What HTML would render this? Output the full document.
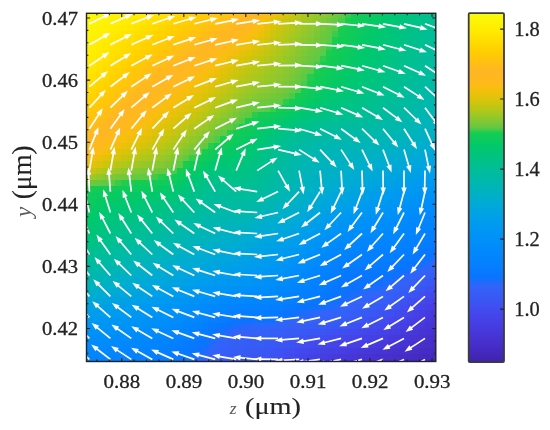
<!DOCTYPE html>
<html lang="en">
<head>
<meta charset="utf-8">
<title>Field map with flow arrows</title>
<style>
html,body{margin:0;padding:0;background:#fff}
body{width:550px;height:430px;overflow:hidden}
svg{display:block}
text{font-family:"Liberation Serif","DejaVu Serif",serif;fill:#222;stroke:#222;stroke-width:.3px}
.t{font-size:19.3px}
.c{font-size:22px}
.l{font-size:23.5px}
.l2{font-size:27.2px}
.l,.l2{stroke-width:.12px}
.i{font-style:italic;fill:#5a5a5a;stroke:none}
.a{stroke:#fff;stroke-width:1.7;fill:none}
.h{fill:#fff;stroke:none}
.k{stroke:#222;stroke-width:1.4;fill:none}
.m{stroke:#222;stroke-width:1.1;fill:none}
</style>
</head>
<body>
<svg width="550" height="430" viewBox="0 0 550 430">
<rect width="550" height="430" fill="#fff"/>
<defs><clipPath id="pc"><rect x="86.5" y="13.3" width="349.3" height="348.2"/></clipPath></defs>
<g clip-path="url(#pc)" shape-rendering="crispEdges">
<rect x="84" y="359" width="7" height="7" fill="#0384fd"/><rect x="90" y="359" width="7" height="7" fill="#0383fd"/><rect x="96" y="359" width="8" height="7" fill="#0382fd"/><rect x="103" y="359" width="7" height="7" fill="#0482fe"/><rect x="109" y="359" width="7" height="7" fill="#0481fe"/><rect x="115" y="359" width="7" height="7" fill="#0480fe"/><rect x="121" y="359" width="7" height="7" fill="#0480fe"/><rect x="127" y="359" width="8" height="7" fill="#047ffe"/><rect x="134" y="359" width="7" height="7" fill="#057eff"/><rect x="140" y="359" width="7" height="7" fill="#057eff"/><rect x="146" y="359" width="7" height="7" fill="#057dff"/><rect x="152" y="359" width="7" height="7" fill="#067bff"/><rect x="158" y="359" width="8" height="7" fill="#077aff"/><rect x="165" y="359" width="7" height="7" fill="#0778ff"/><rect x="171" y="359" width="7" height="7" fill="#0876ff"/><rect x="177" y="359" width="7" height="7" fill="#0974ff"/><rect x="183" y="359" width="7" height="7" fill="#1071fe"/><rect x="189" y="359" width="8" height="7" fill="#1d6cfd"/><rect x="196" y="359" width="7" height="7" fill="#2d66fb"/><rect x="202" y="359" width="7" height="7" fill="#3362f9"/><rect x="208" y="359" width="7" height="7" fill="#3460f8"/><rect x="214" y="359" width="7" height="7" fill="#355df7"/><rect x="220" y="359" width="8" height="7" fill="#365bf6"/><rect x="227" y="359" width="7" height="7" fill="#3759f5"/><rect x="233" y="359" width="7" height="7" fill="#3958f4"/><rect x="239" y="359" width="7" height="7" fill="#3a56f4"/><rect x="245" y="359" width="8" height="7" fill="#3a55f3"/><rect x="252" y="359" width="7" height="7" fill="#3b54f3"/><rect x="258" y="359" width="7" height="7" fill="#3c53f3"/><rect x="264" y="359" width="7" height="7" fill="#3d51f2"/><rect x="270" y="359" width="7" height="7" fill="#3f4ef1"/><rect x="276" y="359" width="8" height="7" fill="#414bf0"/><rect x="283" y="359" width="7" height="7" fill="#4249ee"/><rect x="289" y="359" width="7" height="7" fill="#4346eb"/><rect x="295" y="359" width="7" height="7" fill="#4443e8"/><rect x="301" y="359" width="7" height="7" fill="#4441e6"/><rect x="307" y="359" width="8" height="7" fill="#453fe4"/><rect x="314" y="359" width="7" height="7" fill="#463ce1"/><rect x="320" y="359" width="7" height="7" fill="#463ade"/><rect x="326" y="359" width="7" height="7" fill="#4638db"/><rect x="332" y="359" width="7" height="7" fill="#4636d8"/><rect x="338" y="359" width="8" height="7" fill="#4635d5"/><rect x="345" y="359" width="7" height="7" fill="#4633d3"/><rect x="351" y="359" width="7" height="7" fill="#4632d1"/><rect x="357" y="359" width="7" height="7" fill="#4631cf"/><rect x="363" y="359" width="7" height="7" fill="#4630cd"/><rect x="369" y="359" width="8" height="7" fill="#462fcb"/><rect x="376" y="359" width="7" height="7" fill="#462ec9"/><rect x="382" y="359" width="7" height="7" fill="#462dc7"/><rect x="388" y="359" width="7" height="7" fill="#452cc5"/><rect x="394" y="359" width="7" height="7" fill="#452bc3"/><rect x="400" y="359" width="8" height="7" fill="#452ac1"/><rect x="407" y="359" width="7" height="7" fill="#4429bf"/><rect x="413" y="359" width="7" height="7" fill="#4429bd"/><rect x="419" y="359" width="7" height="7" fill="#4328bb"/><rect x="425" y="359" width="8" height="7" fill="#4327b9"/><rect x="432" y="359" width="7" height="7" fill="#4226b6"/>
<rect x="84" y="353" width="7" height="7" fill="#0286fc"/><rect x="90" y="353" width="7" height="7" fill="#0385fd"/><rect x="96" y="353" width="8" height="7" fill="#0385fd"/><rect x="103" y="353" width="7" height="7" fill="#0384fd"/><rect x="109" y="353" width="7" height="7" fill="#0383fd"/><rect x="115" y="353" width="7" height="7" fill="#0383fd"/><rect x="121" y="353" width="7" height="7" fill="#0382fd"/><rect x="127" y="353" width="8" height="7" fill="#0481fe"/><rect x="134" y="353" width="7" height="7" fill="#0481fe"/><rect x="140" y="353" width="7" height="7" fill="#0480fe"/><rect x="146" y="353" width="7" height="7" fill="#047ffe"/><rect x="152" y="353" width="7" height="7" fill="#057eff"/><rect x="158" y="353" width="8" height="7" fill="#057dff"/><rect x="165" y="353" width="7" height="7" fill="#067bff"/><rect x="171" y="353" width="7" height="7" fill="#0779ff"/><rect x="177" y="353" width="7" height="7" fill="#0877ff"/><rect x="183" y="353" width="7" height="7" fill="#0975ff"/><rect x="189" y="353" width="8" height="7" fill="#0e72ff"/><rect x="196" y="353" width="7" height="7" fill="#1e6bfc"/><rect x="202" y="353" width="7" height="7" fill="#3065fa"/><rect x="208" y="353" width="7" height="7" fill="#3362f9"/><rect x="214" y="353" width="7" height="7" fill="#345ff8"/><rect x="220" y="353" width="8" height="7" fill="#355df7"/><rect x="227" y="353" width="7" height="7" fill="#365bf6"/><rect x="233" y="353" width="7" height="7" fill="#375af5"/><rect x="239" y="353" width="7" height="7" fill="#3858f4"/><rect x="245" y="353" width="8" height="7" fill="#3957f4"/><rect x="252" y="353" width="7" height="7" fill="#3956f4"/><rect x="258" y="353" width="7" height="7" fill="#3a55f3"/><rect x="264" y="353" width="7" height="7" fill="#3b54f3"/><rect x="270" y="353" width="7" height="7" fill="#3d52f2"/><rect x="276" y="353" width="8" height="7" fill="#3f4ff1"/><rect x="283" y="353" width="7" height="7" fill="#414bf0"/><rect x="289" y="353" width="7" height="7" fill="#4249ee"/><rect x="295" y="353" width="7" height="7" fill="#4247ec"/><rect x="301" y="353" width="7" height="7" fill="#4344e9"/><rect x="307" y="353" width="8" height="7" fill="#4442e7"/><rect x="314" y="353" width="7" height="7" fill="#4540e5"/><rect x="320" y="353" width="7" height="7" fill="#453ee3"/><rect x="326" y="353" width="7" height="7" fill="#463ce0"/><rect x="332" y="353" width="7" height="7" fill="#463add"/><rect x="338" y="353" width="8" height="7" fill="#4638db"/><rect x="345" y="353" width="7" height="7" fill="#4637d8"/><rect x="351" y="353" width="7" height="7" fill="#4636d6"/><rect x="357" y="353" width="7" height="7" fill="#4634d4"/><rect x="363" y="353" width="7" height="7" fill="#4633d2"/><rect x="369" y="353" width="8" height="7" fill="#4632d0"/><rect x="376" y="353" width="7" height="7" fill="#4631ce"/><rect x="382" y="353" width="7" height="7" fill="#4630cc"/><rect x="388" y="353" width="7" height="7" fill="#462fcb"/><rect x="394" y="353" width="7" height="7" fill="#462ec9"/><rect x="400" y="353" width="8" height="7" fill="#462dc7"/><rect x="407" y="353" width="7" height="7" fill="#452cc5"/><rect x="413" y="353" width="7" height="7" fill="#452bc2"/><rect x="419" y="353" width="7" height="7" fill="#442ac0"/><rect x="425" y="353" width="8" height="7" fill="#4429be"/><rect x="432" y="353" width="7" height="7" fill="#4328bb"/>
<rect x="84" y="347" width="7" height="7" fill="#0189fb"/><rect x="90" y="347" width="7" height="7" fill="#0288fc"/><rect x="96" y="347" width="8" height="7" fill="#0288fc"/><rect x="103" y="347" width="7" height="7" fill="#0287fc"/><rect x="109" y="347" width="7" height="7" fill="#0286fc"/><rect x="115" y="347" width="7" height="7" fill="#0286fc"/><rect x="121" y="347" width="7" height="7" fill="#0385fd"/><rect x="127" y="347" width="8" height="7" fill="#0384fd"/><rect x="134" y="347" width="7" height="7" fill="#0384fd"/><rect x="140" y="347" width="7" height="7" fill="#0383fd"/><rect x="146" y="347" width="7" height="7" fill="#0382fd"/><rect x="152" y="347" width="7" height="7" fill="#0481fe"/><rect x="158" y="347" width="8" height="7" fill="#0480fe"/><rect x="165" y="347" width="7" height="7" fill="#057fff"/><rect x="171" y="347" width="7" height="7" fill="#057dff"/><rect x="177" y="347" width="7" height="7" fill="#067bff"/><rect x="183" y="347" width="7" height="7" fill="#0779ff"/><rect x="189" y="347" width="8" height="7" fill="#0976ff"/><rect x="196" y="347" width="7" height="7" fill="#0c72ff"/><rect x="202" y="347" width="7" height="7" fill="#1f6bfc"/><rect x="208" y="347" width="7" height="7" fill="#3164fa"/><rect x="214" y="347" width="7" height="7" fill="#3362f9"/><rect x="220" y="347" width="8" height="7" fill="#345ff8"/><rect x="227" y="347" width="7" height="7" fill="#355df7"/><rect x="233" y="347" width="7" height="7" fill="#365cf6"/><rect x="239" y="347" width="7" height="7" fill="#375bf5"/><rect x="245" y="347" width="8" height="7" fill="#375af5"/><rect x="252" y="347" width="7" height="7" fill="#3859f5"/><rect x="258" y="347" width="7" height="7" fill="#3858f4"/><rect x="264" y="347" width="7" height="7" fill="#3957f4"/><rect x="270" y="347" width="7" height="7" fill="#3a55f3"/><rect x="276" y="347" width="8" height="7" fill="#3c53f3"/><rect x="283" y="347" width="7" height="7" fill="#3e50f2"/><rect x="289" y="347" width="7" height="7" fill="#404df1"/><rect x="295" y="347" width="7" height="7" fill="#414aef"/><rect x="301" y="347" width="7" height="7" fill="#4248ed"/><rect x="307" y="347" width="8" height="7" fill="#4346eb"/><rect x="314" y="347" width="7" height="7" fill="#4344e9"/><rect x="320" y="347" width="7" height="7" fill="#4442e7"/><rect x="326" y="347" width="7" height="7" fill="#4540e5"/><rect x="332" y="347" width="7" height="7" fill="#453fe4"/><rect x="338" y="347" width="8" height="7" fill="#463de2"/><rect x="345" y="347" width="7" height="7" fill="#463be0"/><rect x="351" y="347" width="7" height="7" fill="#463ade"/><rect x="357" y="347" width="7" height="7" fill="#4639dc"/><rect x="363" y="347" width="7" height="7" fill="#4637d9"/><rect x="369" y="347" width="8" height="7" fill="#4636d7"/><rect x="376" y="347" width="7" height="7" fill="#4635d5"/><rect x="382" y="347" width="7" height="7" fill="#4634d3"/><rect x="388" y="347" width="7" height="7" fill="#4632d1"/><rect x="394" y="347" width="7" height="7" fill="#4631cf"/><rect x="400" y="347" width="8" height="7" fill="#4630cd"/><rect x="407" y="347" width="7" height="7" fill="#462fcb"/><rect x="413" y="347" width="7" height="7" fill="#462ec9"/><rect x="419" y="347" width="7" height="7" fill="#462cc6"/><rect x="425" y="347" width="8" height="7" fill="#452bc3"/><rect x="432" y="347" width="7" height="7" fill="#442ac0"/>
<rect x="84" y="340" width="7" height="8" fill="#018cfb"/><rect x="90" y="340" width="7" height="8" fill="#018bfb"/><rect x="96" y="340" width="8" height="8" fill="#018bfb"/><rect x="103" y="340" width="7" height="8" fill="#018afb"/><rect x="109" y="340" width="7" height="8" fill="#0189fb"/><rect x="115" y="340" width="7" height="8" fill="#0289fc"/><rect x="121" y="340" width="7" height="8" fill="#0288fc"/><rect x="127" y="340" width="8" height="8" fill="#0288fc"/><rect x="134" y="340" width="7" height="8" fill="#0287fc"/><rect x="140" y="340" width="7" height="8" fill="#0286fc"/><rect x="146" y="340" width="7" height="8" fill="#0385fd"/><rect x="152" y="340" width="7" height="8" fill="#0384fd"/><rect x="158" y="340" width="8" height="8" fill="#0383fd"/><rect x="165" y="340" width="7" height="8" fill="#0482fe"/><rect x="171" y="340" width="7" height="8" fill="#0480fe"/><rect x="177" y="340" width="7" height="8" fill="#057eff"/><rect x="183" y="340" width="7" height="8" fill="#057cff"/><rect x="189" y="340" width="8" height="8" fill="#0779ff"/><rect x="196" y="340" width="7" height="8" fill="#0876ff"/><rect x="202" y="340" width="7" height="8" fill="#0c72ff"/><rect x="208" y="340" width="7" height="8" fill="#1f6bfc"/><rect x="214" y="340" width="7" height="8" fill="#3164fa"/><rect x="220" y="340" width="8" height="8" fill="#3362f9"/><rect x="227" y="340" width="7" height="8" fill="#3460f8"/><rect x="233" y="340" width="7" height="8" fill="#355ef7"/><rect x="239" y="340" width="7" height="8" fill="#365df6"/><rect x="245" y="340" width="8" height="8" fill="#365cf6"/><rect x="252" y="340" width="7" height="8" fill="#365bf6"/><rect x="258" y="340" width="7" height="8" fill="#375bf5"/><rect x="264" y="340" width="7" height="8" fill="#375af5"/><rect x="270" y="340" width="7" height="8" fill="#3859f5"/><rect x="276" y="340" width="8" height="8" fill="#3957f4"/><rect x="283" y="340" width="7" height="8" fill="#3b55f3"/><rect x="289" y="340" width="7" height="8" fill="#3c52f2"/><rect x="295" y="340" width="7" height="8" fill="#3e50f2"/><rect x="301" y="340" width="7" height="8" fill="#404df1"/><rect x="307" y="340" width="8" height="8" fill="#414bf0"/><rect x="314" y="340" width="7" height="8" fill="#4249ee"/><rect x="320" y="340" width="7" height="8" fill="#4247ec"/><rect x="326" y="340" width="7" height="8" fill="#4346eb"/><rect x="332" y="340" width="7" height="8" fill="#4344e9"/><rect x="338" y="340" width="8" height="8" fill="#4442e7"/><rect x="345" y="340" width="7" height="8" fill="#4441e6"/><rect x="351" y="340" width="7" height="8" fill="#453fe4"/><rect x="357" y="340" width="7" height="8" fill="#453ee3"/><rect x="363" y="340" width="7" height="8" fill="#463ce1"/><rect x="369" y="340" width="8" height="8" fill="#463bdf"/><rect x="376" y="340" width="7" height="8" fill="#4639dc"/><rect x="382" y="340" width="7" height="8" fill="#4638da"/><rect x="388" y="340" width="7" height="8" fill="#4636d8"/><rect x="394" y="340" width="7" height="8" fill="#4635d5"/><rect x="400" y="340" width="8" height="8" fill="#4633d3"/><rect x="407" y="340" width="7" height="8" fill="#4632d0"/><rect x="413" y="340" width="7" height="8" fill="#4631ce"/><rect x="419" y="340" width="7" height="8" fill="#462fcb"/><rect x="425" y="340" width="8" height="8" fill="#462ec9"/><rect x="432" y="340" width="7" height="8" fill="#462cc6"/>
<rect x="84" y="334" width="7" height="7" fill="#008ff9"/><rect x="90" y="334" width="7" height="7" fill="#008efa"/><rect x="96" y="334" width="8" height="7" fill="#008efa"/><rect x="103" y="334" width="7" height="7" fill="#008dfa"/><rect x="109" y="334" width="7" height="7" fill="#008dfa"/><rect x="115" y="334" width="7" height="7" fill="#018cfb"/><rect x="121" y="334" width="7" height="7" fill="#018bfb"/><rect x="127" y="334" width="8" height="7" fill="#018bfb"/><rect x="134" y="334" width="7" height="7" fill="#018afb"/><rect x="140" y="334" width="7" height="7" fill="#0189fb"/><rect x="146" y="334" width="7" height="7" fill="#0288fc"/><rect x="152" y="334" width="7" height="7" fill="#0287fc"/><rect x="158" y="334" width="8" height="7" fill="#0286fc"/><rect x="165" y="334" width="7" height="7" fill="#0384fd"/><rect x="171" y="334" width="7" height="7" fill="#0383fd"/><rect x="177" y="334" width="7" height="7" fill="#0481fe"/><rect x="183" y="334" width="7" height="7" fill="#047ffe"/><rect x="189" y="334" width="8" height="7" fill="#057dff"/><rect x="196" y="334" width="7" height="7" fill="#067aff"/><rect x="202" y="334" width="7" height="7" fill="#0877ff"/><rect x="208" y="334" width="7" height="7" fill="#0a73ff"/><rect x="214" y="334" width="7" height="7" fill="#1d6cfd"/><rect x="220" y="334" width="8" height="7" fill="#2f65fa"/><rect x="227" y="334" width="7" height="7" fill="#3362f9"/><rect x="233" y="334" width="7" height="7" fill="#3460f8"/><rect x="239" y="334" width="7" height="7" fill="#345ff8"/><rect x="245" y="334" width="8" height="7" fill="#355ef7"/><rect x="252" y="334" width="7" height="7" fill="#355ef7"/><rect x="258" y="334" width="7" height="7" fill="#355ef7"/><rect x="264" y="334" width="7" height="7" fill="#355df7"/><rect x="270" y="334" width="7" height="7" fill="#365cf6"/><rect x="276" y="334" width="8" height="7" fill="#365bf6"/><rect x="283" y="334" width="7" height="7" fill="#375af5"/><rect x="289" y="334" width="7" height="7" fill="#3957f4"/><rect x="295" y="334" width="7" height="7" fill="#3a55f3"/><rect x="301" y="334" width="7" height="7" fill="#3c53f3"/><rect x="307" y="334" width="8" height="7" fill="#3d51f2"/><rect x="314" y="334" width="7" height="7" fill="#3e4ff1"/><rect x="320" y="334" width="7" height="7" fill="#404df1"/><rect x="326" y="334" width="7" height="7" fill="#414bf0"/><rect x="332" y="334" width="7" height="7" fill="#4249ee"/><rect x="338" y="334" width="8" height="7" fill="#4248ed"/><rect x="345" y="334" width="7" height="7" fill="#4346eb"/><rect x="351" y="334" width="7" height="7" fill="#4345ea"/><rect x="357" y="334" width="7" height="7" fill="#4443e8"/><rect x="363" y="334" width="7" height="7" fill="#4441e6"/><rect x="369" y="334" width="8" height="7" fill="#4540e5"/><rect x="376" y="334" width="7" height="7" fill="#453ee3"/><rect x="382" y="334" width="7" height="7" fill="#463ce1"/><rect x="388" y="334" width="7" height="7" fill="#463ade"/><rect x="394" y="334" width="7" height="7" fill="#4639db"/><rect x="400" y="334" width="8" height="7" fill="#4637d9"/><rect x="407" y="334" width="7" height="7" fill="#4635d6"/><rect x="413" y="334" width="7" height="7" fill="#4634d3"/><rect x="419" y="334" width="7" height="7" fill="#4632d0"/><rect x="425" y="334" width="8" height="7" fill="#4630cd"/><rect x="432" y="334" width="7" height="7" fill="#462eca"/>
<rect x="84" y="328" width="7" height="7" fill="#0092f6"/><rect x="90" y="328" width="7" height="7" fill="#0092f7"/><rect x="96" y="328" width="8" height="7" fill="#0091f7"/><rect x="103" y="328" width="7" height="7" fill="#0090f8"/><rect x="109" y="328" width="7" height="7" fill="#0090f8"/><rect x="115" y="328" width="7" height="7" fill="#008ff9"/><rect x="121" y="328" width="7" height="7" fill="#008ff9"/><rect x="127" y="328" width="8" height="7" fill="#008efa"/><rect x="134" y="328" width="7" height="7" fill="#008dfa"/><rect x="140" y="328" width="7" height="7" fill="#008cfa"/><rect x="146" y="328" width="7" height="7" fill="#018bfb"/><rect x="152" y="328" width="7" height="7" fill="#018afb"/><rect x="158" y="328" width="8" height="7" fill="#0189fb"/><rect x="165" y="328" width="7" height="7" fill="#0288fc"/><rect x="171" y="328" width="7" height="7" fill="#0286fc"/><rect x="177" y="328" width="7" height="7" fill="#0384fd"/><rect x="183" y="328" width="7" height="7" fill="#0382fd"/><rect x="189" y="328" width="8" height="7" fill="#0480fe"/><rect x="196" y="328" width="7" height="7" fill="#057eff"/><rect x="202" y="328" width="7" height="7" fill="#067bff"/><rect x="208" y="328" width="7" height="7" fill="#0877ff"/><rect x="214" y="328" width="7" height="7" fill="#0a74ff"/><rect x="220" y="328" width="8" height="7" fill="#186efd"/><rect x="227" y="328" width="7" height="7" fill="#2967fb"/><rect x="233" y="328" width="7" height="7" fill="#3263fa"/><rect x="239" y="328" width="7" height="7" fill="#3362f9"/><rect x="245" y="328" width="8" height="7" fill="#3361f9"/><rect x="252" y="328" width="7" height="7" fill="#3361f9"/><rect x="258" y="328" width="7" height="7" fill="#3461f8"/><rect x="264" y="328" width="7" height="7" fill="#3461f8"/><rect x="270" y="328" width="7" height="7" fill="#3460f8"/><rect x="276" y="328" width="8" height="7" fill="#355ff7"/><rect x="283" y="328" width="7" height="7" fill="#355ef7"/><rect x="289" y="328" width="7" height="7" fill="#365cf6"/><rect x="295" y="328" width="7" height="7" fill="#375bf5"/><rect x="301" y="328" width="7" height="7" fill="#3859f5"/><rect x="307" y="328" width="8" height="7" fill="#3957f4"/><rect x="314" y="328" width="7" height="7" fill="#3a56f4"/><rect x="320" y="328" width="7" height="7" fill="#3b54f3"/><rect x="326" y="328" width="7" height="7" fill="#3c52f2"/><rect x="332" y="328" width="7" height="7" fill="#3d50f2"/><rect x="338" y="328" width="8" height="7" fill="#3f4ef1"/><rect x="345" y="328" width="7" height="7" fill="#404cf0"/><rect x="351" y="328" width="7" height="7" fill="#414aef"/><rect x="357" y="328" width="7" height="7" fill="#4248ed"/><rect x="363" y="328" width="7" height="7" fill="#4247ec"/><rect x="369" y="328" width="8" height="7" fill="#4345ea"/><rect x="376" y="328" width="7" height="7" fill="#4443e8"/><rect x="382" y="328" width="7" height="7" fill="#4441e6"/><rect x="388" y="328" width="7" height="7" fill="#453fe4"/><rect x="394" y="328" width="7" height="7" fill="#463de2"/><rect x="400" y="328" width="8" height="7" fill="#463bdf"/><rect x="407" y="328" width="7" height="7" fill="#4639db"/><rect x="413" y="328" width="7" height="7" fill="#4637d8"/><rect x="419" y="328" width="7" height="7" fill="#4635d5"/><rect x="425" y="328" width="8" height="7" fill="#4633d1"/><rect x="432" y="328" width="7" height="7" fill="#4631ce"/>
<rect x="84" y="322" width="7" height="7" fill="#0096f3"/><rect x="90" y="322" width="7" height="7" fill="#0095f4"/><rect x="96" y="322" width="8" height="7" fill="#0094f4"/><rect x="103" y="322" width="7" height="7" fill="#0094f5"/><rect x="109" y="322" width="7" height="7" fill="#0093f5"/><rect x="115" y="322" width="7" height="7" fill="#0093f6"/><rect x="121" y="322" width="7" height="7" fill="#0092f7"/><rect x="127" y="322" width="8" height="7" fill="#0091f7"/><rect x="134" y="322" width="7" height="7" fill="#0091f8"/><rect x="140" y="322" width="7" height="7" fill="#0090f9"/><rect x="146" y="322" width="7" height="7" fill="#008ff9"/><rect x="152" y="322" width="7" height="7" fill="#008dfa"/><rect x="158" y="322" width="8" height="7" fill="#018cfb"/><rect x="165" y="322" width="7" height="7" fill="#018bfb"/><rect x="171" y="322" width="7" height="7" fill="#0189fb"/><rect x="177" y="322" width="7" height="7" fill="#0287fc"/><rect x="183" y="322" width="7" height="7" fill="#0385fd"/><rect x="189" y="322" width="8" height="7" fill="#0383fd"/><rect x="196" y="322" width="7" height="7" fill="#0481fe"/><rect x="202" y="322" width="7" height="7" fill="#047ffe"/><rect x="208" y="322" width="7" height="7" fill="#057cff"/><rect x="214" y="322" width="7" height="7" fill="#0779ff"/><rect x="220" y="322" width="8" height="7" fill="#0976ff"/><rect x="227" y="322" width="7" height="7" fill="#0d72ff"/><rect x="233" y="322" width="7" height="7" fill="#1b6dfd"/><rect x="239" y="322" width="7" height="7" fill="#226afc"/><rect x="245" y="322" width="8" height="7" fill="#2768fb"/><rect x="252" y="322" width="7" height="7" fill="#2a67fb"/><rect x="258" y="322" width="7" height="7" fill="#2a67fb"/><rect x="264" y="322" width="7" height="7" fill="#2b67fb"/><rect x="270" y="322" width="7" height="7" fill="#2f65fa"/><rect x="276" y="322" width="8" height="7" fill="#3263fa"/><rect x="283" y="322" width="7" height="7" fill="#3362f9"/><rect x="289" y="322" width="7" height="7" fill="#3460f8"/><rect x="295" y="322" width="7" height="7" fill="#355ff7"/><rect x="301" y="322" width="7" height="7" fill="#355ef7"/><rect x="307" y="322" width="8" height="7" fill="#365df6"/><rect x="314" y="322" width="7" height="7" fill="#365cf6"/><rect x="320" y="322" width="7" height="7" fill="#375bf5"/><rect x="326" y="322" width="7" height="7" fill="#3759f5"/><rect x="332" y="322" width="7" height="7" fill="#3858f4"/><rect x="338" y="322" width="8" height="7" fill="#3a56f4"/><rect x="345" y="322" width="7" height="7" fill="#3b54f3"/><rect x="351" y="322" width="7" height="7" fill="#3d51f2"/><rect x="357" y="322" width="7" height="7" fill="#3e4ff1"/><rect x="363" y="322" width="7" height="7" fill="#404cf0"/><rect x="369" y="322" width="8" height="7" fill="#414aef"/><rect x="376" y="322" width="7" height="7" fill="#4248ed"/><rect x="382" y="322" width="7" height="7" fill="#4346eb"/><rect x="388" y="322" width="7" height="7" fill="#4443e8"/><rect x="394" y="322" width="7" height="7" fill="#4441e6"/><rect x="400" y="322" width="8" height="7" fill="#453fe4"/><rect x="407" y="322" width="7" height="7" fill="#463ce1"/><rect x="413" y="322" width="7" height="7" fill="#463add"/><rect x="419" y="322" width="7" height="7" fill="#4638da"/><rect x="425" y="322" width="8" height="7" fill="#4635d6"/><rect x="432" y="322" width="7" height="7" fill="#4633d3"/>
<rect x="84" y="316" width="7" height="7" fill="#009af0"/><rect x="90" y="316" width="7" height="7" fill="#0099f1"/><rect x="96" y="316" width="8" height="7" fill="#0098f1"/><rect x="103" y="316" width="7" height="7" fill="#0098f2"/><rect x="109" y="316" width="7" height="7" fill="#0097f2"/><rect x="115" y="316" width="7" height="7" fill="#0096f3"/><rect x="121" y="316" width="7" height="7" fill="#0096f3"/><rect x="127" y="316" width="8" height="7" fill="#0095f4"/><rect x="134" y="316" width="7" height="7" fill="#0094f5"/><rect x="140" y="316" width="7" height="7" fill="#0093f6"/><rect x="146" y="316" width="7" height="7" fill="#0092f7"/><rect x="152" y="316" width="7" height="7" fill="#0091f8"/><rect x="158" y="316" width="8" height="7" fill="#0090f9"/><rect x="165" y="316" width="7" height="7" fill="#008efa"/><rect x="171" y="316" width="7" height="7" fill="#008dfa"/><rect x="177" y="316" width="7" height="7" fill="#018bfb"/><rect x="183" y="316" width="7" height="7" fill="#0189fb"/><rect x="189" y="316" width="8" height="7" fill="#0287fc"/><rect x="196" y="316" width="7" height="7" fill="#0385fd"/><rect x="202" y="316" width="7" height="7" fill="#0383fd"/><rect x="208" y="316" width="7" height="7" fill="#0480fe"/><rect x="214" y="316" width="7" height="7" fill="#057eff"/><rect x="220" y="316" width="8" height="7" fill="#067cff"/><rect x="227" y="316" width="7" height="7" fill="#0779ff"/><rect x="233" y="316" width="7" height="7" fill="#0877ff"/><rect x="239" y="316" width="7" height="7" fill="#0975ff"/><rect x="245" y="316" width="8" height="7" fill="#0974ff"/><rect x="252" y="316" width="7" height="7" fill="#0974ff"/><rect x="258" y="316" width="7" height="7" fill="#0974ff"/><rect x="264" y="316" width="7" height="7" fill="#0a74ff"/><rect x="270" y="316" width="7" height="7" fill="#0c72ff"/><rect x="276" y="316" width="8" height="7" fill="#166ffe"/><rect x="283" y="316" width="7" height="7" fill="#226afc"/><rect x="289" y="316" width="7" height="7" fill="#2d66fb"/><rect x="295" y="316" width="7" height="7" fill="#3264fa"/><rect x="301" y="316" width="7" height="7" fill="#3362f9"/><rect x="307" y="316" width="8" height="7" fill="#3361f9"/><rect x="314" y="316" width="7" height="7" fill="#3460f8"/><rect x="320" y="316" width="7" height="7" fill="#3460f8"/><rect x="326" y="316" width="7" height="7" fill="#355ff7"/><rect x="332" y="316" width="7" height="7" fill="#355ef7"/><rect x="338" y="316" width="8" height="7" fill="#365cf6"/><rect x="345" y="316" width="7" height="7" fill="#375bf5"/><rect x="351" y="316" width="7" height="7" fill="#3858f4"/><rect x="357" y="316" width="7" height="7" fill="#3a56f4"/><rect x="363" y="316" width="7" height="7" fill="#3c53f3"/><rect x="369" y="316" width="8" height="7" fill="#3d50f2"/><rect x="376" y="316" width="7" height="7" fill="#3f4ef1"/><rect x="382" y="316" width="7" height="7" fill="#414bf0"/><rect x="388" y="316" width="7" height="7" fill="#4248ed"/><rect x="394" y="316" width="7" height="7" fill="#4346eb"/><rect x="400" y="316" width="8" height="7" fill="#4443e8"/><rect x="407" y="316" width="7" height="7" fill="#4540e5"/><rect x="413" y="316" width="7" height="7" fill="#463de2"/><rect x="419" y="316" width="7" height="7" fill="#463bdf"/><rect x="425" y="316" width="8" height="7" fill="#4638db"/><rect x="432" y="316" width="7" height="7" fill="#4636d7"/>
<rect x="84" y="309" width="7" height="8" fill="#009eea"/><rect x="90" y="309" width="7" height="8" fill="#009dec"/><rect x="96" y="309" width="8" height="8" fill="#009ced"/><rect x="103" y="309" width="7" height="8" fill="#009cee"/><rect x="109" y="309" width="7" height="8" fill="#009bef"/><rect x="115" y="309" width="7" height="8" fill="#009af0"/><rect x="121" y="309" width="7" height="8" fill="#0099f0"/><rect x="127" y="309" width="8" height="8" fill="#0098f1"/><rect x="134" y="309" width="7" height="8" fill="#0097f2"/><rect x="140" y="309" width="7" height="8" fill="#0096f3"/><rect x="146" y="309" width="7" height="8" fill="#0095f4"/><rect x="152" y="309" width="7" height="8" fill="#0094f5"/><rect x="158" y="309" width="8" height="8" fill="#0093f6"/><rect x="165" y="309" width="7" height="8" fill="#0092f7"/><rect x="171" y="309" width="7" height="8" fill="#0090f8"/><rect x="177" y="309" width="7" height="8" fill="#008efa"/><rect x="183" y="309" width="7" height="8" fill="#008dfa"/><rect x="189" y="309" width="8" height="8" fill="#018bfb"/><rect x="196" y="309" width="7" height="8" fill="#0289fc"/><rect x="202" y="309" width="7" height="8" fill="#0287fc"/><rect x="208" y="309" width="7" height="8" fill="#0385fd"/><rect x="214" y="309" width="7" height="8" fill="#0383fd"/><rect x="220" y="309" width="8" height="8" fill="#0481fe"/><rect x="227" y="309" width="7" height="8" fill="#047ffe"/><rect x="233" y="309" width="7" height="8" fill="#057eff"/><rect x="239" y="309" width="7" height="8" fill="#057dff"/><rect x="245" y="309" width="8" height="8" fill="#067cff"/><rect x="252" y="309" width="7" height="8" fill="#067cff"/><rect x="258" y="309" width="7" height="8" fill="#067cff"/><rect x="264" y="309" width="7" height="8" fill="#067bff"/><rect x="270" y="309" width="7" height="8" fill="#0779ff"/><rect x="276" y="309" width="8" height="8" fill="#0877ff"/><rect x="283" y="309" width="7" height="8" fill="#0975ff"/><rect x="289" y="309" width="7" height="8" fill="#0b73ff"/><rect x="295" y="309" width="7" height="8" fill="#156ffe"/><rect x="301" y="309" width="7" height="8" fill="#1e6cfd"/><rect x="307" y="309" width="8" height="8" fill="#2569fc"/><rect x="314" y="309" width="7" height="8" fill="#2c66fb"/><rect x="320" y="309" width="7" height="8" fill="#3264fa"/><rect x="326" y="309" width="7" height="8" fill="#3263fa"/><rect x="332" y="309" width="7" height="8" fill="#3362f9"/><rect x="338" y="309" width="8" height="8" fill="#3361f9"/><rect x="345" y="309" width="7" height="8" fill="#345ff8"/><rect x="351" y="309" width="7" height="8" fill="#355ef7"/><rect x="357" y="309" width="7" height="8" fill="#365cf6"/><rect x="363" y="309" width="7" height="8" fill="#375af5"/><rect x="369" y="309" width="8" height="8" fill="#3957f4"/><rect x="376" y="309" width="7" height="8" fill="#3b54f3"/><rect x="382" y="309" width="7" height="8" fill="#3d51f2"/><rect x="388" y="309" width="7" height="8" fill="#3f4ef1"/><rect x="394" y="309" width="7" height="8" fill="#414aef"/><rect x="400" y="309" width="8" height="8" fill="#4248ed"/><rect x="407" y="309" width="7" height="8" fill="#4345ea"/><rect x="413" y="309" width="7" height="8" fill="#4442e7"/><rect x="419" y="309" width="7" height="8" fill="#453ee3"/><rect x="425" y="309" width="8" height="8" fill="#463be0"/><rect x="432" y="309" width="7" height="8" fill="#4639dc"/>
<rect x="84" y="303" width="7" height="7" fill="#00a4e1"/><rect x="90" y="303" width="7" height="7" fill="#00a2e3"/><rect x="96" y="303" width="8" height="7" fill="#00a1e5"/><rect x="103" y="303" width="7" height="7" fill="#00a0e7"/><rect x="109" y="303" width="7" height="7" fill="#009fe8"/><rect x="115" y="303" width="7" height="7" fill="#009eea"/><rect x="121" y="303" width="7" height="7" fill="#009dec"/><rect x="127" y="303" width="8" height="7" fill="#009cee"/><rect x="134" y="303" width="7" height="7" fill="#009bef"/><rect x="140" y="303" width="7" height="7" fill="#009af0"/><rect x="146" y="303" width="7" height="7" fill="#0099f1"/><rect x="152" y="303" width="7" height="7" fill="#0098f2"/><rect x="158" y="303" width="8" height="7" fill="#0096f3"/><rect x="165" y="303" width="7" height="7" fill="#0095f4"/><rect x="171" y="303" width="7" height="7" fill="#0094f5"/><rect x="177" y="303" width="7" height="7" fill="#0092f7"/><rect x="183" y="303" width="7" height="7" fill="#0090f8"/><rect x="189" y="303" width="8" height="7" fill="#008ff9"/><rect x="196" y="303" width="7" height="7" fill="#008dfa"/><rect x="202" y="303" width="7" height="7" fill="#018bfb"/><rect x="208" y="303" width="7" height="7" fill="#0189fb"/><rect x="214" y="303" width="7" height="7" fill="#0287fc"/><rect x="220" y="303" width="8" height="7" fill="#0286fc"/><rect x="227" y="303" width="7" height="7" fill="#0384fd"/><rect x="233" y="303" width="7" height="7" fill="#0383fd"/><rect x="239" y="303" width="7" height="7" fill="#0482fe"/><rect x="245" y="303" width="8" height="7" fill="#0481fe"/><rect x="252" y="303" width="7" height="7" fill="#0481fe"/><rect x="258" y="303" width="7" height="7" fill="#0481fe"/><rect x="264" y="303" width="7" height="7" fill="#0481fe"/><rect x="270" y="303" width="7" height="7" fill="#047ffe"/><rect x="276" y="303" width="8" height="7" fill="#057eff"/><rect x="283" y="303" width="7" height="7" fill="#067bff"/><rect x="289" y="303" width="7" height="7" fill="#0779ff"/><rect x="295" y="303" width="7" height="7" fill="#0877ff"/><rect x="301" y="303" width="7" height="7" fill="#0975ff"/><rect x="307" y="303" width="8" height="7" fill="#0a73ff"/><rect x="314" y="303" width="7" height="7" fill="#0f71fe"/><rect x="320" y="303" width="7" height="7" fill="#166efd"/><rect x="326" y="303" width="7" height="7" fill="#1c6cfd"/><rect x="332" y="303" width="7" height="7" fill="#226afc"/><rect x="338" y="303" width="8" height="7" fill="#2b67fb"/><rect x="345" y="303" width="7" height="7" fill="#3263fa"/><rect x="351" y="303" width="7" height="7" fill="#3361f9"/><rect x="357" y="303" width="7" height="7" fill="#3460f8"/><rect x="363" y="303" width="7" height="7" fill="#355ef7"/><rect x="369" y="303" width="8" height="7" fill="#365cf6"/><rect x="376" y="303" width="7" height="7" fill="#375af5"/><rect x="382" y="303" width="7" height="7" fill="#3958f4"/><rect x="388" y="303" width="7" height="7" fill="#3b54f3"/><rect x="394" y="303" width="7" height="7" fill="#3d51f2"/><rect x="400" y="303" width="8" height="7" fill="#404df1"/><rect x="407" y="303" width="7" height="7" fill="#4249ee"/><rect x="413" y="303" width="7" height="7" fill="#4346eb"/><rect x="419" y="303" width="7" height="7" fill="#4443e8"/><rect x="425" y="303" width="8" height="7" fill="#4540e5"/><rect x="432" y="303" width="7" height="7" fill="#463de2"/>
<rect x="84" y="297" width="7" height="7" fill="#00a9d8"/><rect x="90" y="297" width="7" height="7" fill="#00a8da"/><rect x="96" y="297" width="8" height="7" fill="#00a6dc"/><rect x="103" y="297" width="7" height="7" fill="#00a5de"/><rect x="109" y="297" width="7" height="7" fill="#00a4e0"/><rect x="115" y="297" width="7" height="7" fill="#00a3e2"/><rect x="121" y="297" width="7" height="7" fill="#00a1e4"/><rect x="127" y="297" width="8" height="7" fill="#00a0e7"/><rect x="134" y="297" width="7" height="7" fill="#009fe9"/><rect x="140" y="297" width="7" height="7" fill="#009eeb"/><rect x="146" y="297" width="7" height="7" fill="#009ded"/><rect x="152" y="297" width="7" height="7" fill="#009bef"/><rect x="158" y="297" width="8" height="7" fill="#009af0"/><rect x="165" y="297" width="7" height="7" fill="#0099f1"/><rect x="171" y="297" width="7" height="7" fill="#0097f2"/><rect x="177" y="297" width="7" height="7" fill="#0096f3"/><rect x="183" y="297" width="7" height="7" fill="#0094f5"/><rect x="189" y="297" width="8" height="7" fill="#0093f6"/><rect x="196" y="297" width="7" height="7" fill="#0091f7"/><rect x="202" y="297" width="7" height="7" fill="#008ff9"/><rect x="208" y="297" width="7" height="7" fill="#008efa"/><rect x="214" y="297" width="7" height="7" fill="#018cfb"/><rect x="220" y="297" width="8" height="7" fill="#018afb"/><rect x="227" y="297" width="7" height="7" fill="#0189fb"/><rect x="233" y="297" width="7" height="7" fill="#0288fc"/><rect x="239" y="297" width="7" height="7" fill="#0287fc"/><rect x="245" y="297" width="8" height="7" fill="#0286fc"/><rect x="252" y="297" width="7" height="7" fill="#0286fc"/><rect x="258" y="297" width="7" height="7" fill="#0286fc"/><rect x="264" y="297" width="7" height="7" fill="#0385fd"/><rect x="270" y="297" width="7" height="7" fill="#0384fd"/><rect x="276" y="297" width="8" height="7" fill="#0482fe"/><rect x="283" y="297" width="7" height="7" fill="#0480fe"/><rect x="289" y="297" width="7" height="7" fill="#057eff"/><rect x="295" y="297" width="7" height="7" fill="#057cff"/><rect x="301" y="297" width="7" height="7" fill="#067aff"/><rect x="307" y="297" width="8" height="7" fill="#0778ff"/><rect x="314" y="297" width="7" height="7" fill="#0877ff"/><rect x="320" y="297" width="7" height="7" fill="#0975ff"/><rect x="326" y="297" width="7" height="7" fill="#0a74ff"/><rect x="332" y="297" width="7" height="7" fill="#0e72ff"/><rect x="338" y="297" width="8" height="7" fill="#176efd"/><rect x="345" y="297" width="7" height="7" fill="#226afc"/><rect x="351" y="297" width="7" height="7" fill="#2d66fb"/><rect x="357" y="297" width="7" height="7" fill="#3263fa"/><rect x="363" y="297" width="7" height="7" fill="#3362f9"/><rect x="369" y="297" width="8" height="7" fill="#3460f8"/><rect x="376" y="297" width="7" height="7" fill="#355ff7"/><rect x="382" y="297" width="7" height="7" fill="#365df6"/><rect x="388" y="297" width="7" height="7" fill="#375bf5"/><rect x="394" y="297" width="7" height="7" fill="#3957f4"/><rect x="400" y="297" width="8" height="7" fill="#3c53f3"/><rect x="407" y="297" width="7" height="7" fill="#3e4ff1"/><rect x="413" y="297" width="7" height="7" fill="#414bf0"/><rect x="419" y="297" width="7" height="7" fill="#4248ed"/><rect x="425" y="297" width="8" height="7" fill="#4344e9"/><rect x="432" y="297" width="7" height="7" fill="#4442e7"/>
<rect x="84" y="291" width="7" height="7" fill="#00aecd"/><rect x="90" y="291" width="7" height="7" fill="#00acd1"/><rect x="96" y="291" width="8" height="7" fill="#00abd4"/><rect x="103" y="291" width="7" height="7" fill="#00aad6"/><rect x="109" y="291" width="7" height="7" fill="#00a8d8"/><rect x="115" y="291" width="7" height="7" fill="#00a7db"/><rect x="121" y="291" width="7" height="7" fill="#00a6dd"/><rect x="127" y="291" width="8" height="7" fill="#00a4df"/><rect x="134" y="291" width="7" height="7" fill="#00a3e1"/><rect x="140" y="291" width="7" height="7" fill="#00a2e4"/><rect x="146" y="291" width="7" height="7" fill="#00a1e6"/><rect x="152" y="291" width="7" height="7" fill="#009fe8"/><rect x="158" y="291" width="8" height="7" fill="#009eeb"/><rect x="165" y="291" width="7" height="7" fill="#009ced"/><rect x="171" y="291" width="7" height="7" fill="#009bef"/><rect x="177" y="291" width="7" height="7" fill="#009af0"/><rect x="183" y="291" width="7" height="7" fill="#0098f1"/><rect x="189" y="291" width="8" height="7" fill="#0097f3"/><rect x="196" y="291" width="7" height="7" fill="#0095f4"/><rect x="202" y="291" width="7" height="7" fill="#0094f5"/><rect x="208" y="291" width="7" height="7" fill="#0092f6"/><rect x="214" y="291" width="7" height="7" fill="#0091f8"/><rect x="220" y="291" width="8" height="7" fill="#008ff9"/><rect x="227" y="291" width="7" height="7" fill="#008efa"/><rect x="233" y="291" width="7" height="7" fill="#008dfa"/><rect x="239" y="291" width="7" height="7" fill="#018cfb"/><rect x="245" y="291" width="8" height="7" fill="#018bfb"/><rect x="252" y="291" width="7" height="7" fill="#018bfb"/><rect x="258" y="291" width="7" height="7" fill="#018afb"/><rect x="264" y="291" width="7" height="7" fill="#0189fb"/><rect x="270" y="291" width="7" height="7" fill="#0287fc"/><rect x="276" y="291" width="8" height="7" fill="#0286fc"/><rect x="283" y="291" width="7" height="7" fill="#0384fd"/><rect x="289" y="291" width="7" height="7" fill="#0482fe"/><rect x="295" y="291" width="7" height="7" fill="#0480fe"/><rect x="301" y="291" width="7" height="7" fill="#057eff"/><rect x="307" y="291" width="8" height="7" fill="#057dff"/><rect x="314" y="291" width="7" height="7" fill="#067bff"/><rect x="320" y="291" width="7" height="7" fill="#0779ff"/><rect x="326" y="291" width="7" height="7" fill="#0877ff"/><rect x="332" y="291" width="7" height="7" fill="#0975ff"/><rect x="338" y="291" width="8" height="7" fill="#0a73ff"/><rect x="345" y="291" width="7" height="7" fill="#1370fe"/><rect x="351" y="291" width="7" height="7" fill="#1c6cfd"/><rect x="357" y="291" width="7" height="7" fill="#2469fc"/><rect x="363" y="291" width="7" height="7" fill="#2b67fb"/><rect x="369" y="291" width="8" height="7" fill="#3264fa"/><rect x="376" y="291" width="7" height="7" fill="#3363f9"/><rect x="382" y="291" width="7" height="7" fill="#3361f9"/><rect x="388" y="291" width="7" height="7" fill="#355ff7"/><rect x="394" y="291" width="7" height="7" fill="#365cf6"/><rect x="400" y="291" width="8" height="7" fill="#375af5"/><rect x="407" y="291" width="7" height="7" fill="#3a56f4"/><rect x="413" y="291" width="7" height="7" fill="#3d52f2"/><rect x="419" y="291" width="7" height="7" fill="#3f4df1"/><rect x="425" y="291" width="8" height="7" fill="#414aef"/><rect x="432" y="291" width="7" height="7" fill="#4247ec"/>
<rect x="84" y="285" width="7" height="7" fill="#00b1c1"/><rect x="90" y="285" width="7" height="7" fill="#00b0c5"/><rect x="96" y="285" width="8" height="7" fill="#00afc9"/><rect x="103" y="285" width="7" height="7" fill="#00aecd"/><rect x="109" y="285" width="7" height="7" fill="#00add0"/><rect x="115" y="285" width="7" height="7" fill="#00abd3"/><rect x="121" y="285" width="7" height="7" fill="#00aad6"/><rect x="127" y="285" width="8" height="7" fill="#00a9d8"/><rect x="134" y="285" width="7" height="7" fill="#00a7da"/><rect x="140" y="285" width="7" height="7" fill="#00a6dd"/><rect x="146" y="285" width="7" height="7" fill="#00a5df"/><rect x="152" y="285" width="7" height="7" fill="#00a3e1"/><rect x="158" y="285" width="8" height="7" fill="#00a2e4"/><rect x="165" y="285" width="7" height="7" fill="#00a0e6"/><rect x="171" y="285" width="7" height="7" fill="#009fe9"/><rect x="177" y="285" width="7" height="7" fill="#009deb"/><rect x="183" y="285" width="7" height="7" fill="#009cee"/><rect x="189" y="285" width="8" height="7" fill="#009aef"/><rect x="196" y="285" width="7" height="7" fill="#0099f1"/><rect x="202" y="285" width="7" height="7" fill="#0098f2"/><rect x="208" y="285" width="7" height="7" fill="#0096f3"/><rect x="214" y="285" width="7" height="7" fill="#0095f4"/><rect x="220" y="285" width="8" height="7" fill="#0094f5"/><rect x="227" y="285" width="7" height="7" fill="#0093f6"/><rect x="233" y="285" width="7" height="7" fill="#0091f7"/><rect x="239" y="285" width="7" height="7" fill="#0090f8"/><rect x="245" y="285" width="8" height="7" fill="#0090f9"/><rect x="252" y="285" width="7" height="7" fill="#008ff9"/><rect x="258" y="285" width="7" height="7" fill="#008efa"/><rect x="264" y="285" width="7" height="7" fill="#008dfa"/><rect x="270" y="285" width="7" height="7" fill="#018bfb"/><rect x="276" y="285" width="8" height="7" fill="#0189fb"/><rect x="283" y="285" width="7" height="7" fill="#0288fc"/><rect x="289" y="285" width="7" height="7" fill="#0286fc"/><rect x="295" y="285" width="7" height="7" fill="#0384fd"/><rect x="301" y="285" width="7" height="7" fill="#0482fe"/><rect x="307" y="285" width="8" height="7" fill="#0480fe"/><rect x="314" y="285" width="7" height="7" fill="#057eff"/><rect x="320" y="285" width="7" height="7" fill="#067cff"/><rect x="326" y="285" width="7" height="7" fill="#077aff"/><rect x="332" y="285" width="7" height="7" fill="#0877ff"/><rect x="338" y="285" width="8" height="7" fill="#0975ff"/><rect x="345" y="285" width="7" height="7" fill="#0a74ff"/><rect x="351" y="285" width="7" height="7" fill="#0e71fe"/><rect x="357" y="285" width="7" height="7" fill="#146ffe"/><rect x="363" y="285" width="7" height="7" fill="#186efd"/><rect x="369" y="285" width="8" height="7" fill="#1d6cfd"/><rect x="376" y="285" width="7" height="7" fill="#226afc"/><rect x="382" y="285" width="7" height="7" fill="#2c66fb"/><rect x="388" y="285" width="7" height="7" fill="#3363f9"/><rect x="394" y="285" width="7" height="7" fill="#3461f8"/><rect x="400" y="285" width="8" height="7" fill="#355ef7"/><rect x="407" y="285" width="7" height="7" fill="#365cf6"/><rect x="413" y="285" width="7" height="7" fill="#3858f4"/><rect x="419" y="285" width="7" height="7" fill="#3b55f3"/><rect x="425" y="285" width="8" height="7" fill="#3d51f2"/><rect x="432" y="285" width="7" height="7" fill="#404df1"/>
<rect x="84" y="278" width="7" height="8" fill="#00b5b7"/><rect x="90" y="278" width="7" height="8" fill="#00b4ba"/><rect x="96" y="278" width="8" height="8" fill="#00b2be"/><rect x="103" y="278" width="7" height="8" fill="#00b1c2"/><rect x="109" y="278" width="7" height="8" fill="#00b0c6"/><rect x="115" y="278" width="7" height="8" fill="#00afca"/><rect x="121" y="278" width="7" height="8" fill="#00aecd"/><rect x="127" y="278" width="8" height="8" fill="#00acd1"/><rect x="134" y="278" width="7" height="8" fill="#00abd3"/><rect x="140" y="278" width="7" height="8" fill="#00aad6"/><rect x="146" y="278" width="7" height="8" fill="#00a9d8"/><rect x="152" y="278" width="7" height="8" fill="#00a7da"/><rect x="158" y="278" width="8" height="8" fill="#00a6dd"/><rect x="165" y="278" width="7" height="8" fill="#00a5df"/><rect x="171" y="278" width="7" height="8" fill="#00a3e2"/><rect x="177" y="278" width="7" height="8" fill="#00a2e4"/><rect x="183" y="278" width="7" height="8" fill="#00a0e7"/><rect x="189" y="278" width="8" height="8" fill="#009fea"/><rect x="196" y="278" width="7" height="8" fill="#009dec"/><rect x="202" y="278" width="7" height="8" fill="#009cee"/><rect x="208" y="278" width="7" height="8" fill="#009aef"/><rect x="214" y="278" width="7" height="8" fill="#0099f0"/><rect x="220" y="278" width="8" height="8" fill="#0098f2"/><rect x="227" y="278" width="7" height="8" fill="#0097f3"/><rect x="233" y="278" width="7" height="8" fill="#0096f3"/><rect x="239" y="278" width="7" height="8" fill="#0095f4"/><rect x="245" y="278" width="8" height="8" fill="#0094f5"/><rect x="252" y="278" width="7" height="8" fill="#0093f6"/><rect x="258" y="278" width="7" height="8" fill="#0092f7"/><rect x="264" y="278" width="7" height="8" fill="#0090f8"/><rect x="270" y="278" width="7" height="8" fill="#008ff9"/><rect x="276" y="278" width="8" height="8" fill="#008dfa"/><rect x="283" y="278" width="7" height="8" fill="#018bfb"/><rect x="289" y="278" width="7" height="8" fill="#0189fb"/><rect x="295" y="278" width="7" height="8" fill="#0287fc"/><rect x="301" y="278" width="7" height="8" fill="#0385fd"/><rect x="307" y="278" width="8" height="8" fill="#0383fd"/><rect x="314" y="278" width="7" height="8" fill="#0481fe"/><rect x="320" y="278" width="7" height="8" fill="#057eff"/><rect x="326" y="278" width="7" height="8" fill="#057cff"/><rect x="332" y="278" width="7" height="8" fill="#077aff"/><rect x="338" y="278" width="8" height="8" fill="#0877ff"/><rect x="345" y="278" width="7" height="8" fill="#0975ff"/><rect x="351" y="278" width="7" height="8" fill="#0974ff"/><rect x="357" y="278" width="7" height="8" fill="#0a74ff"/><rect x="363" y="278" width="7" height="8" fill="#0a73ff"/><rect x="369" y="278" width="8" height="8" fill="#0a73ff"/><rect x="376" y="278" width="7" height="8" fill="#0e71fe"/><rect x="382" y="278" width="7" height="8" fill="#166ffe"/><rect x="388" y="278" width="7" height="8" fill="#216afc"/><rect x="394" y="278" width="7" height="8" fill="#2e66fb"/><rect x="400" y="278" width="8" height="8" fill="#3362f9"/><rect x="407" y="278" width="7" height="8" fill="#3460f8"/><rect x="413" y="278" width="7" height="8" fill="#355ef7"/><rect x="419" y="278" width="7" height="8" fill="#365bf6"/><rect x="425" y="278" width="8" height="8" fill="#3858f4"/><rect x="432" y="278" width="7" height="8" fill="#3b54f3"/>
<rect x="84" y="272" width="7" height="7" fill="#00b8ad"/><rect x="90" y="272" width="7" height="7" fill="#00b7b0"/><rect x="96" y="272" width="8" height="7" fill="#00b6b4"/><rect x="103" y="272" width="7" height="7" fill="#00b4b8"/><rect x="109" y="272" width="7" height="7" fill="#00b3bc"/><rect x="115" y="272" width="7" height="7" fill="#00b2c0"/><rect x="121" y="272" width="7" height="7" fill="#00b1c4"/><rect x="127" y="272" width="8" height="7" fill="#00b0c7"/><rect x="134" y="272" width="7" height="7" fill="#00aecb"/><rect x="140" y="272" width="7" height="7" fill="#00adce"/><rect x="146" y="272" width="7" height="7" fill="#00acd1"/><rect x="152" y="272" width="7" height="7" fill="#00abd4"/><rect x="158" y="272" width="8" height="7" fill="#00aad6"/><rect x="165" y="272" width="7" height="7" fill="#00a8d8"/><rect x="171" y="272" width="7" height="7" fill="#00a7db"/><rect x="177" y="272" width="7" height="7" fill="#00a6dd"/><rect x="183" y="272" width="7" height="7" fill="#00a4e0"/><rect x="189" y="272" width="8" height="7" fill="#00a3e2"/><rect x="196" y="272" width="7" height="7" fill="#00a1e5"/><rect x="202" y="272" width="7" height="7" fill="#00a0e7"/><rect x="208" y="272" width="7" height="7" fill="#009eea"/><rect x="214" y="272" width="7" height="7" fill="#009dec"/><rect x="220" y="272" width="8" height="7" fill="#009cee"/><rect x="227" y="272" width="7" height="7" fill="#009bef"/><rect x="233" y="272" width="7" height="7" fill="#0099f0"/><rect x="239" y="272" width="7" height="7" fill="#0098f1"/><rect x="245" y="272" width="8" height="7" fill="#0097f2"/><rect x="252" y="272" width="7" height="7" fill="#0096f3"/><rect x="258" y="272" width="7" height="7" fill="#0095f4"/><rect x="264" y="272" width="7" height="7" fill="#0094f5"/><rect x="270" y="272" width="7" height="7" fill="#0092f6"/><rect x="276" y="272" width="8" height="7" fill="#0090f8"/><rect x="283" y="272" width="7" height="7" fill="#008efa"/><rect x="289" y="272" width="7" height="7" fill="#018cfb"/><rect x="295" y="272" width="7" height="7" fill="#018afb"/><rect x="301" y="272" width="7" height="7" fill="#0288fc"/><rect x="307" y="272" width="8" height="7" fill="#0385fd"/><rect x="314" y="272" width="7" height="7" fill="#0383fd"/><rect x="320" y="272" width="7" height="7" fill="#0481fe"/><rect x="326" y="272" width="7" height="7" fill="#057eff"/><rect x="332" y="272" width="7" height="7" fill="#067cff"/><rect x="338" y="272" width="8" height="7" fill="#0779ff"/><rect x="345" y="272" width="7" height="7" fill="#0877ff"/><rect x="351" y="272" width="7" height="7" fill="#0877ff"/><rect x="357" y="272" width="7" height="7" fill="#0876ff"/><rect x="363" y="272" width="7" height="7" fill="#0876ff"/><rect x="369" y="272" width="8" height="7" fill="#0876ff"/><rect x="376" y="272" width="7" height="7" fill="#0975ff"/><rect x="382" y="272" width="7" height="7" fill="#0974ff"/><rect x="388" y="272" width="7" height="7" fill="#0a73ff"/><rect x="394" y="272" width="7" height="7" fill="#156ffe"/><rect x="400" y="272" width="8" height="7" fill="#216afc"/><rect x="407" y="272" width="7" height="7" fill="#2e65fa"/><rect x="413" y="272" width="7" height="7" fill="#3362f9"/><rect x="419" y="272" width="7" height="7" fill="#3460f8"/><rect x="425" y="272" width="8" height="7" fill="#355ef7"/><rect x="432" y="272" width="7" height="7" fill="#365bf6"/>
<rect x="84" y="266" width="7" height="7" fill="#00baa4"/><rect x="90" y="266" width="7" height="7" fill="#00b9a8"/><rect x="96" y="266" width="8" height="7" fill="#00b8ab"/><rect x="103" y="266" width="7" height="7" fill="#00b7af"/><rect x="109" y="266" width="7" height="7" fill="#00b6b3"/><rect x="115" y="266" width="7" height="7" fill="#00b5b7"/><rect x="121" y="266" width="7" height="7" fill="#00b4ba"/><rect x="127" y="266" width="8" height="7" fill="#00b2be"/><rect x="134" y="266" width="7" height="7" fill="#00b1c1"/><rect x="140" y="266" width="7" height="7" fill="#00b0c5"/><rect x="146" y="266" width="7" height="7" fill="#00afc8"/><rect x="152" y="266" width="7" height="7" fill="#00aecb"/><rect x="158" y="266" width="8" height="7" fill="#00adcf"/><rect x="165" y="266" width="7" height="7" fill="#00acd2"/><rect x="171" y="266" width="7" height="7" fill="#00abd4"/><rect x="177" y="266" width="7" height="7" fill="#00a9d7"/><rect x="183" y="266" width="7" height="7" fill="#00a8d9"/><rect x="189" y="266" width="8" height="7" fill="#00a6dc"/><rect x="196" y="266" width="7" height="7" fill="#00a5de"/><rect x="202" y="266" width="7" height="7" fill="#00a4e1"/><rect x="208" y="266" width="7" height="7" fill="#00a2e3"/><rect x="214" y="266" width="7" height="7" fill="#00a1e5"/><rect x="220" y="266" width="8" height="7" fill="#00a0e8"/><rect x="227" y="266" width="7" height="7" fill="#009eea"/><rect x="233" y="266" width="7" height="7" fill="#009dec"/><rect x="239" y="266" width="7" height="7" fill="#009cee"/><rect x="245" y="266" width="8" height="7" fill="#009bef"/><rect x="252" y="266" width="7" height="7" fill="#009af0"/><rect x="258" y="266" width="7" height="7" fill="#0099f1"/><rect x="264" y="266" width="7" height="7" fill="#0097f2"/><rect x="270" y="266" width="7" height="7" fill="#0095f4"/><rect x="276" y="266" width="8" height="7" fill="#0094f5"/><rect x="283" y="266" width="7" height="7" fill="#0091f7"/><rect x="289" y="266" width="7" height="7" fill="#008ff9"/><rect x="295" y="266" width="7" height="7" fill="#008dfa"/><rect x="301" y="266" width="7" height="7" fill="#018bfb"/><rect x="307" y="266" width="8" height="7" fill="#0288fc"/><rect x="314" y="266" width="7" height="7" fill="#0286fc"/><rect x="320" y="266" width="7" height="7" fill="#0383fd"/><rect x="326" y="266" width="7" height="7" fill="#0481fe"/><rect x="332" y="266" width="7" height="7" fill="#057eff"/><rect x="338" y="266" width="8" height="7" fill="#057cff"/><rect x="345" y="266" width="7" height="7" fill="#067aff"/><rect x="351" y="266" width="7" height="7" fill="#077aff"/><rect x="357" y="266" width="7" height="7" fill="#0779ff"/><rect x="363" y="266" width="7" height="7" fill="#0779ff"/><rect x="369" y="266" width="8" height="7" fill="#0779ff"/><rect x="376" y="266" width="7" height="7" fill="#0779ff"/><rect x="382" y="266" width="7" height="7" fill="#0878ff"/><rect x="388" y="266" width="7" height="7" fill="#0877ff"/><rect x="394" y="266" width="7" height="7" fill="#0975ff"/><rect x="400" y="266" width="8" height="7" fill="#0a73ff"/><rect x="407" y="266" width="7" height="7" fill="#136ffe"/><rect x="413" y="266" width="7" height="7" fill="#206bfc"/><rect x="419" y="266" width="7" height="7" fill="#2f65fa"/><rect x="425" y="266" width="8" height="7" fill="#3362f9"/><rect x="432" y="266" width="7" height="7" fill="#3460f8"/>
<rect x="84" y="260" width="7" height="7" fill="#00bc9c"/><rect x="90" y="260" width="7" height="7" fill="#00bb9f"/><rect x="96" y="260" width="8" height="7" fill="#00bba3"/><rect x="103" y="260" width="7" height="7" fill="#00baa6"/><rect x="109" y="260" width="7" height="7" fill="#00b9aa"/><rect x="115" y="260" width="7" height="7" fill="#00b8ae"/><rect x="121" y="260" width="7" height="7" fill="#00b6b2"/><rect x="127" y="260" width="8" height="7" fill="#00b5b5"/><rect x="134" y="260" width="7" height="7" fill="#00b4b9"/><rect x="140" y="260" width="7" height="7" fill="#00b3bc"/><rect x="146" y="260" width="7" height="7" fill="#00b2bf"/><rect x="152" y="260" width="7" height="7" fill="#00b1c3"/><rect x="158" y="260" width="8" height="7" fill="#00b0c6"/><rect x="165" y="260" width="7" height="7" fill="#00afc9"/><rect x="171" y="260" width="7" height="7" fill="#00aecc"/><rect x="177" y="260" width="7" height="7" fill="#00add0"/><rect x="183" y="260" width="7" height="7" fill="#00acd3"/><rect x="189" y="260" width="8" height="7" fill="#00aad5"/><rect x="196" y="260" width="7" height="7" fill="#00a9d8"/><rect x="202" y="260" width="7" height="7" fill="#00a7da"/><rect x="208" y="260" width="7" height="7" fill="#00a6dc"/><rect x="214" y="260" width="7" height="7" fill="#00a5df"/><rect x="220" y="260" width="8" height="7" fill="#00a3e1"/><rect x="227" y="260" width="7" height="7" fill="#00a2e3"/><rect x="233" y="260" width="7" height="7" fill="#00a1e5"/><rect x="239" y="260" width="7" height="7" fill="#00a0e8"/><rect x="245" y="260" width="8" height="7" fill="#009eea"/><rect x="252" y="260" width="7" height="7" fill="#009dec"/><rect x="258" y="260" width="7" height="7" fill="#009cee"/><rect x="264" y="260" width="7" height="7" fill="#009af0"/><rect x="270" y="260" width="7" height="7" fill="#0098f1"/><rect x="276" y="260" width="8" height="7" fill="#0097f3"/><rect x="283" y="260" width="7" height="7" fill="#0095f4"/><rect x="289" y="260" width="7" height="7" fill="#0092f6"/><rect x="295" y="260" width="7" height="7" fill="#0090f8"/><rect x="301" y="260" width="7" height="7" fill="#008efa"/><rect x="307" y="260" width="8" height="7" fill="#018bfb"/><rect x="314" y="260" width="7" height="7" fill="#0289fc"/><rect x="320" y="260" width="7" height="7" fill="#0286fc"/><rect x="326" y="260" width="7" height="7" fill="#0383fd"/><rect x="332" y="260" width="7" height="7" fill="#0481fe"/><rect x="338" y="260" width="8" height="7" fill="#047ffe"/><rect x="345" y="260" width="7" height="7" fill="#057eff"/><rect x="351" y="260" width="7" height="7" fill="#057dff"/><rect x="357" y="260" width="7" height="7" fill="#057dff"/><rect x="363" y="260" width="7" height="7" fill="#057dff"/><rect x="369" y="260" width="8" height="7" fill="#057cff"/><rect x="376" y="260" width="7" height="7" fill="#057cff"/><rect x="382" y="260" width="7" height="7" fill="#067bff"/><rect x="388" y="260" width="7" height="7" fill="#067aff"/><rect x="394" y="260" width="7" height="7" fill="#0779ff"/><rect x="400" y="260" width="8" height="7" fill="#0877ff"/><rect x="407" y="260" width="7" height="7" fill="#0976ff"/><rect x="413" y="260" width="7" height="7" fill="#0a74ff"/><rect x="419" y="260" width="7" height="7" fill="#1370fe"/><rect x="425" y="260" width="8" height="7" fill="#216afc"/><rect x="432" y="260" width="7" height="7" fill="#3065fa"/>
<rect x="84" y="253" width="7" height="8" fill="#00bf93"/><rect x="90" y="253" width="7" height="8" fill="#00be97"/><rect x="96" y="253" width="8" height="8" fill="#00bd9b"/><rect x="103" y="253" width="7" height="8" fill="#00bc9e"/><rect x="109" y="253" width="7" height="8" fill="#00bba2"/><rect x="115" y="253" width="7" height="8" fill="#00baa6"/><rect x="121" y="253" width="7" height="8" fill="#00b9aa"/><rect x="127" y="253" width="8" height="8" fill="#00b8ad"/><rect x="134" y="253" width="7" height="8" fill="#00b7b1"/><rect x="140" y="253" width="7" height="8" fill="#00b6b4"/><rect x="146" y="253" width="7" height="8" fill="#00b5b7"/><rect x="152" y="253" width="7" height="8" fill="#00b4ba"/><rect x="158" y="253" width="8" height="8" fill="#00b3be"/><rect x="165" y="253" width="7" height="8" fill="#00b2c1"/><rect x="171" y="253" width="7" height="8" fill="#00b1c4"/><rect x="177" y="253" width="7" height="8" fill="#00afc7"/><rect x="183" y="253" width="7" height="8" fill="#00aecb"/><rect x="189" y="253" width="8" height="8" fill="#00adce"/><rect x="196" y="253" width="7" height="8" fill="#00acd1"/><rect x="202" y="253" width="7" height="8" fill="#00abd4"/><rect x="208" y="253" width="7" height="8" fill="#00aad6"/><rect x="214" y="253" width="7" height="8" fill="#00a8d8"/><rect x="220" y="253" width="8" height="8" fill="#00a7db"/><rect x="227" y="253" width="7" height="8" fill="#00a6dd"/><rect x="233" y="253" width="7" height="8" fill="#00a4df"/><rect x="239" y="253" width="7" height="8" fill="#00a3e2"/><rect x="245" y="253" width="8" height="8" fill="#00a2e4"/><rect x="252" y="253" width="7" height="8" fill="#00a0e7"/><rect x="258" y="253" width="7" height="8" fill="#009fe9"/><rect x="264" y="253" width="7" height="8" fill="#009dec"/><rect x="270" y="253" width="7" height="8" fill="#009bef"/><rect x="276" y="253" width="8" height="8" fill="#0099f0"/><rect x="283" y="253" width="7" height="8" fill="#0098f2"/><rect x="289" y="253" width="7" height="8" fill="#0095f4"/><rect x="295" y="253" width="7" height="8" fill="#0093f6"/><rect x="301" y="253" width="7" height="8" fill="#0091f8"/><rect x="307" y="253" width="8" height="8" fill="#008efa"/><rect x="314" y="253" width="7" height="8" fill="#018cfb"/><rect x="320" y="253" width="7" height="8" fill="#0189fb"/><rect x="326" y="253" width="7" height="8" fill="#0287fc"/><rect x="332" y="253" width="7" height="8" fill="#0384fd"/><rect x="338" y="253" width="8" height="8" fill="#0382fd"/><rect x="345" y="253" width="7" height="8" fill="#0481fe"/><rect x="351" y="253" width="7" height="8" fill="#0480fe"/><rect x="357" y="253" width="7" height="8" fill="#0480fe"/><rect x="363" y="253" width="7" height="8" fill="#047ffe"/><rect x="369" y="253" width="8" height="8" fill="#047ffe"/><rect x="376" y="253" width="7" height="8" fill="#047ffe"/><rect x="382" y="253" width="7" height="8" fill="#057eff"/><rect x="388" y="253" width="7" height="8" fill="#057eff"/><rect x="394" y="253" width="7" height="8" fill="#057dff"/><rect x="400" y="253" width="8" height="8" fill="#067bff"/><rect x="407" y="253" width="7" height="8" fill="#077aff"/><rect x="413" y="253" width="7" height="8" fill="#0878ff"/><rect x="419" y="253" width="7" height="8" fill="#0976ff"/><rect x="425" y="253" width="8" height="8" fill="#0a73ff"/><rect x="432" y="253" width="7" height="8" fill="#166ffe"/>
<rect x="84" y="247" width="7" height="7" fill="#00c18b"/><rect x="90" y="247" width="7" height="7" fill="#00c08f"/><rect x="96" y="247" width="8" height="7" fill="#00bf93"/><rect x="103" y="247" width="7" height="7" fill="#00be97"/><rect x="109" y="247" width="7" height="7" fill="#00bd9b"/><rect x="115" y="247" width="7" height="7" fill="#00bc9e"/><rect x="121" y="247" width="7" height="7" fill="#00bba2"/><rect x="127" y="247" width="8" height="7" fill="#00baa6"/><rect x="134" y="247" width="7" height="7" fill="#00b9a9"/><rect x="140" y="247" width="7" height="7" fill="#00b8ac"/><rect x="146" y="247" width="7" height="7" fill="#00b7af"/><rect x="152" y="247" width="7" height="7" fill="#00b6b2"/><rect x="158" y="247" width="8" height="7" fill="#00b5b6"/><rect x="165" y="247" width="7" height="7" fill="#00b4b9"/><rect x="171" y="247" width="7" height="7" fill="#00b3bc"/><rect x="177" y="247" width="7" height="7" fill="#00b2bf"/><rect x="183" y="247" width="7" height="7" fill="#00b1c3"/><rect x="189" y="247" width="8" height="7" fill="#00b0c6"/><rect x="196" y="247" width="7" height="7" fill="#00afc9"/><rect x="202" y="247" width="7" height="7" fill="#00aecd"/><rect x="208" y="247" width="7" height="7" fill="#00add0"/><rect x="214" y="247" width="7" height="7" fill="#00acd3"/><rect x="220" y="247" width="8" height="7" fill="#00aad5"/><rect x="227" y="247" width="7" height="7" fill="#00a9d7"/><rect x="233" y="247" width="7" height="7" fill="#00a8d9"/><rect x="239" y="247" width="7" height="7" fill="#00a6dc"/><rect x="245" y="247" width="8" height="7" fill="#00a5df"/><rect x="252" y="247" width="7" height="7" fill="#00a3e1"/><rect x="258" y="247" width="7" height="7" fill="#00a2e4"/><rect x="264" y="247" width="7" height="7" fill="#00a0e7"/><rect x="270" y="247" width="7" height="7" fill="#009eea"/><rect x="276" y="247" width="8" height="7" fill="#009ced"/><rect x="283" y="247" width="7" height="7" fill="#009bef"/><rect x="289" y="247" width="7" height="7" fill="#0099f1"/><rect x="295" y="247" width="7" height="7" fill="#0096f3"/><rect x="301" y="247" width="7" height="7" fill="#0094f5"/><rect x="307" y="247" width="8" height="7" fill="#0091f7"/><rect x="314" y="247" width="7" height="7" fill="#008ff9"/><rect x="320" y="247" width="7" height="7" fill="#018cfb"/><rect x="326" y="247" width="7" height="7" fill="#018afb"/><rect x="332" y="247" width="7" height="7" fill="#0288fc"/><rect x="338" y="247" width="8" height="7" fill="#0286fc"/><rect x="345" y="247" width="7" height="7" fill="#0384fd"/><rect x="351" y="247" width="7" height="7" fill="#0383fd"/><rect x="357" y="247" width="7" height="7" fill="#0383fd"/><rect x="363" y="247" width="7" height="7" fill="#0382fd"/><rect x="369" y="247" width="8" height="7" fill="#0482fe"/><rect x="376" y="247" width="7" height="7" fill="#0481fe"/><rect x="382" y="247" width="7" height="7" fill="#0481fe"/><rect x="388" y="247" width="7" height="7" fill="#0480fe"/><rect x="394" y="247" width="7" height="7" fill="#047ffe"/><rect x="400" y="247" width="8" height="7" fill="#057eff"/><rect x="407" y="247" width="7" height="7" fill="#057dff"/><rect x="413" y="247" width="7" height="7" fill="#067cff"/><rect x="419" y="247" width="7" height="7" fill="#0779ff"/><rect x="425" y="247" width="8" height="7" fill="#0877ff"/><rect x="432" y="247" width="7" height="7" fill="#0975ff"/>
<rect x="84" y="241" width="7" height="7" fill="#00c383"/><rect x="90" y="241" width="7" height="7" fill="#00c287"/><rect x="96" y="241" width="8" height="7" fill="#00c18b"/><rect x="103" y="241" width="7" height="7" fill="#00c090"/><rect x="109" y="241" width="7" height="7" fill="#00bf94"/><rect x="115" y="241" width="7" height="7" fill="#00bd97"/><rect x="121" y="241" width="7" height="7" fill="#00bd9b"/><rect x="127" y="241" width="8" height="7" fill="#00bc9f"/><rect x="134" y="241" width="7" height="7" fill="#00bba2"/><rect x="140" y="241" width="7" height="7" fill="#00baa5"/><rect x="146" y="241" width="7" height="7" fill="#00b9a8"/><rect x="152" y="241" width="7" height="7" fill="#00b8ab"/><rect x="158" y="241" width="8" height="7" fill="#00b8ae"/><rect x="165" y="241" width="7" height="7" fill="#00b7b1"/><rect x="171" y="241" width="7" height="7" fill="#00b6b4"/><rect x="177" y="241" width="7" height="7" fill="#00b5b8"/><rect x="183" y="241" width="7" height="7" fill="#00b3bb"/><rect x="189" y="241" width="8" height="7" fill="#00b2be"/><rect x="196" y="241" width="7" height="7" fill="#00b1c2"/><rect x="202" y="241" width="7" height="7" fill="#00b0c5"/><rect x="208" y="241" width="7" height="7" fill="#00afc8"/><rect x="214" y="241" width="7" height="7" fill="#00aecb"/><rect x="220" y="241" width="8" height="7" fill="#00adce"/><rect x="227" y="241" width="7" height="7" fill="#00acd1"/><rect x="233" y="241" width="7" height="7" fill="#00abd4"/><rect x="239" y="241" width="7" height="7" fill="#00aad6"/><rect x="245" y="241" width="8" height="7" fill="#00a8d9"/><rect x="252" y="241" width="7" height="7" fill="#00a6dc"/><rect x="258" y="241" width="7" height="7" fill="#00a5df"/><rect x="264" y="241" width="7" height="7" fill="#00a3e2"/><rect x="270" y="241" width="7" height="7" fill="#00a1e5"/><rect x="276" y="241" width="8" height="7" fill="#00a0e8"/><rect x="283" y="241" width="7" height="7" fill="#009eeb"/><rect x="289" y="241" width="7" height="7" fill="#009cee"/><rect x="295" y="241" width="7" height="7" fill="#009af0"/><rect x="301" y="241" width="7" height="7" fill="#0097f2"/><rect x="307" y="241" width="8" height="7" fill="#0095f4"/><rect x="314" y="241" width="7" height="7" fill="#0092f6"/><rect x="320" y="241" width="7" height="7" fill="#0090f9"/><rect x="326" y="241" width="7" height="7" fill="#008dfa"/><rect x="332" y="241" width="7" height="7" fill="#018bfb"/><rect x="338" y="241" width="8" height="7" fill="#0189fb"/><rect x="345" y="241" width="7" height="7" fill="#0288fc"/><rect x="351" y="241" width="7" height="7" fill="#0286fc"/><rect x="357" y="241" width="7" height="7" fill="#0286fc"/><rect x="363" y="241" width="7" height="7" fill="#0385fd"/><rect x="369" y="241" width="8" height="7" fill="#0385fd"/><rect x="376" y="241" width="7" height="7" fill="#0384fd"/><rect x="382" y="241" width="7" height="7" fill="#0383fd"/><rect x="388" y="241" width="7" height="7" fill="#0383fd"/><rect x="394" y="241" width="7" height="7" fill="#0482fe"/><rect x="400" y="241" width="8" height="7" fill="#0481fe"/><rect x="407" y="241" width="7" height="7" fill="#0480fe"/><rect x="413" y="241" width="7" height="7" fill="#057eff"/><rect x="419" y="241" width="7" height="7" fill="#057dff"/><rect x="425" y="241" width="8" height="7" fill="#067bff"/><rect x="432" y="241" width="7" height="7" fill="#0778ff"/>
<rect x="84" y="235" width="7" height="7" fill="#00c57c"/><rect x="90" y="235" width="7" height="7" fill="#00c480"/><rect x="96" y="235" width="8" height="7" fill="#00c284"/><rect x="103" y="235" width="7" height="7" fill="#00c189"/><rect x="109" y="235" width="7" height="7" fill="#00c08d"/><rect x="115" y="235" width="7" height="7" fill="#00bf91"/><rect x="121" y="235" width="7" height="7" fill="#00be94"/><rect x="127" y="235" width="8" height="7" fill="#00bd98"/><rect x="134" y="235" width="7" height="7" fill="#00bd9b"/><rect x="140" y="235" width="7" height="7" fill="#00bc9e"/><rect x="146" y="235" width="7" height="7" fill="#00bba1"/><rect x="152" y="235" width="7" height="7" fill="#00baa4"/><rect x="158" y="235" width="8" height="7" fill="#00b9a7"/><rect x="165" y="235" width="7" height="7" fill="#00b9aa"/><rect x="171" y="235" width="7" height="7" fill="#00b8ad"/><rect x="177" y="235" width="7" height="7" fill="#00b7b0"/><rect x="183" y="235" width="7" height="7" fill="#00b6b4"/><rect x="189" y="235" width="8" height="7" fill="#00b5b7"/><rect x="196" y="235" width="7" height="7" fill="#00b4ba"/><rect x="202" y="235" width="7" height="7" fill="#00b3bd"/><rect x="208" y="235" width="7" height="7" fill="#00b2c0"/><rect x="214" y="235" width="7" height="7" fill="#00b1c3"/><rect x="220" y="235" width="8" height="7" fill="#00b0c6"/><rect x="227" y="235" width="7" height="7" fill="#00afc9"/><rect x="233" y="235" width="7" height="7" fill="#00aecc"/><rect x="239" y="235" width="7" height="7" fill="#00add0"/><rect x="245" y="235" width="8" height="7" fill="#00abd4"/><rect x="252" y="235" width="7" height="7" fill="#00a9d7"/><rect x="258" y="235" width="7" height="7" fill="#00a7da"/><rect x="264" y="235" width="7" height="7" fill="#00a6dd"/><rect x="270" y="235" width="7" height="7" fill="#00a4e0"/><rect x="276" y="235" width="8" height="7" fill="#00a3e2"/><rect x="283" y="235" width="7" height="7" fill="#00a1e5"/><rect x="289" y="235" width="7" height="7" fill="#009fe8"/><rect x="295" y="235" width="7" height="7" fill="#009dec"/><rect x="301" y="235" width="7" height="7" fill="#009bef"/><rect x="307" y="235" width="8" height="7" fill="#0098f1"/><rect x="314" y="235" width="7" height="7" fill="#0096f3"/><rect x="320" y="235" width="7" height="7" fill="#0093f6"/><rect x="326" y="235" width="7" height="7" fill="#0091f8"/><rect x="332" y="235" width="7" height="7" fill="#008efa"/><rect x="338" y="235" width="8" height="7" fill="#008dfa"/><rect x="345" y="235" width="7" height="7" fill="#018bfb"/><rect x="351" y="235" width="7" height="7" fill="#018afb"/><rect x="357" y="235" width="7" height="7" fill="#0189fb"/><rect x="363" y="235" width="7" height="7" fill="#0288fc"/><rect x="369" y="235" width="8" height="7" fill="#0288fc"/><rect x="376" y="235" width="7" height="7" fill="#0287fc"/><rect x="382" y="235" width="7" height="7" fill="#0286fc"/><rect x="388" y="235" width="7" height="7" fill="#0385fd"/><rect x="394" y="235" width="7" height="7" fill="#0385fd"/><rect x="400" y="235" width="8" height="7" fill="#0383fd"/><rect x="407" y="235" width="7" height="7" fill="#0382fd"/><rect x="413" y="235" width="7" height="7" fill="#0481fe"/><rect x="419" y="235" width="7" height="7" fill="#047ffe"/><rect x="425" y="235" width="8" height="7" fill="#057eff"/><rect x="432" y="235" width="7" height="7" fill="#067cff"/>
<rect x="84" y="229" width="7" height="7" fill="#00c675"/><rect x="90" y="229" width="7" height="7" fill="#00c579"/><rect x="96" y="229" width="8" height="7" fill="#00c47e"/><rect x="103" y="229" width="7" height="7" fill="#00c382"/><rect x="109" y="229" width="7" height="7" fill="#00c287"/><rect x="115" y="229" width="7" height="7" fill="#00c18a"/><rect x="121" y="229" width="7" height="7" fill="#00c08e"/><rect x="127" y="229" width="8" height="7" fill="#00bf91"/><rect x="134" y="229" width="7" height="7" fill="#00be94"/><rect x="140" y="229" width="7" height="7" fill="#00be97"/><rect x="146" y="229" width="7" height="7" fill="#00bd9a"/><rect x="152" y="229" width="7" height="7" fill="#00bc9d"/><rect x="158" y="229" width="8" height="7" fill="#00bba0"/><rect x="165" y="229" width="7" height="7" fill="#00baa3"/><rect x="171" y="229" width="7" height="7" fill="#00baa6"/><rect x="177" y="229" width="7" height="7" fill="#00b9a9"/><rect x="183" y="229" width="7" height="7" fill="#00b8ad"/><rect x="189" y="229" width="8" height="7" fill="#00b7b0"/><rect x="196" y="229" width="7" height="7" fill="#00b6b3"/><rect x="202" y="229" width="7" height="7" fill="#00b5b6"/><rect x="208" y="229" width="7" height="7" fill="#00b4b9"/><rect x="214" y="229" width="7" height="7" fill="#00b3bc"/><rect x="220" y="229" width="8" height="7" fill="#00b2bf"/><rect x="227" y="229" width="7" height="7" fill="#00b1c1"/><rect x="233" y="229" width="7" height="7" fill="#00b0c4"/><rect x="239" y="229" width="7" height="7" fill="#00afc8"/><rect x="245" y="229" width="8" height="7" fill="#00aecc"/><rect x="252" y="229" width="7" height="7" fill="#00acd1"/><rect x="258" y="229" width="7" height="7" fill="#00aad5"/><rect x="264" y="229" width="7" height="7" fill="#00a9d8"/><rect x="270" y="229" width="7" height="7" fill="#00a7da"/><rect x="276" y="229" width="8" height="7" fill="#00a6dc"/><rect x="283" y="229" width="7" height="7" fill="#00a5de"/><rect x="289" y="229" width="7" height="7" fill="#00a3e1"/><rect x="295" y="229" width="7" height="7" fill="#00a1e5"/><rect x="301" y="229" width="7" height="7" fill="#009eea"/><rect x="307" y="229" width="8" height="7" fill="#009cee"/><rect x="314" y="229" width="7" height="7" fill="#0099f1"/><rect x="320" y="229" width="7" height="7" fill="#0096f3"/><rect x="326" y="229" width="7" height="7" fill="#0094f5"/><rect x="332" y="229" width="7" height="7" fill="#0092f7"/><rect x="338" y="229" width="8" height="7" fill="#0090f8"/><rect x="345" y="229" width="7" height="7" fill="#008ffa"/><rect x="351" y="229" width="7" height="7" fill="#008dfa"/><rect x="357" y="229" width="7" height="7" fill="#008cfa"/><rect x="363" y="229" width="7" height="7" fill="#018bfb"/><rect x="369" y="229" width="8" height="7" fill="#018bfb"/><rect x="376" y="229" width="7" height="7" fill="#018afb"/><rect x="382" y="229" width="7" height="7" fill="#0189fb"/><rect x="388" y="229" width="7" height="7" fill="#0288fc"/><rect x="394" y="229" width="7" height="7" fill="#0287fc"/><rect x="400" y="229" width="8" height="7" fill="#0286fc"/><rect x="407" y="229" width="7" height="7" fill="#0385fd"/><rect x="413" y="229" width="7" height="7" fill="#0383fd"/><rect x="419" y="229" width="7" height="7" fill="#0482fe"/><rect x="425" y="229" width="8" height="7" fill="#0480fe"/><rect x="432" y="229" width="7" height="7" fill="#057fff"/>
<rect x="84" y="222" width="7" height="8" fill="#00c86f"/><rect x="90" y="222" width="7" height="8" fill="#00c773"/><rect x="96" y="222" width="8" height="8" fill="#00c678"/><rect x="103" y="222" width="7" height="8" fill="#00c47c"/><rect x="109" y="222" width="7" height="8" fill="#00c380"/><rect x="115" y="222" width="7" height="8" fill="#00c284"/><rect x="121" y="222" width="7" height="8" fill="#00c288"/><rect x="127" y="222" width="8" height="8" fill="#00c18b"/><rect x="134" y="222" width="7" height="8" fill="#00c08e"/><rect x="140" y="222" width="7" height="8" fill="#00bf90"/><rect x="146" y="222" width="7" height="8" fill="#00bf93"/><rect x="152" y="222" width="7" height="8" fill="#00be96"/><rect x="158" y="222" width="8" height="8" fill="#00bd99"/><rect x="165" y="222" width="7" height="8" fill="#00bc9c"/><rect x="171" y="222" width="7" height="8" fill="#00bc9f"/><rect x="177" y="222" width="7" height="8" fill="#00bba2"/><rect x="183" y="222" width="7" height="8" fill="#00baa6"/><rect x="189" y="222" width="8" height="8" fill="#00b9a9"/><rect x="196" y="222" width="7" height="8" fill="#00b8ad"/><rect x="202" y="222" width="7" height="8" fill="#00b7b0"/><rect x="208" y="222" width="7" height="8" fill="#00b6b3"/><rect x="214" y="222" width="7" height="8" fill="#00b5b5"/><rect x="220" y="222" width="8" height="8" fill="#00b5b7"/><rect x="227" y="222" width="7" height="8" fill="#00b4ba"/><rect x="233" y="222" width="7" height="8" fill="#00b3bc"/><rect x="239" y="222" width="7" height="8" fill="#00b2bf"/><rect x="245" y="222" width="8" height="8" fill="#00b1c3"/><rect x="252" y="222" width="7" height="8" fill="#00afc9"/><rect x="258" y="222" width="7" height="8" fill="#00adce"/><rect x="264" y="222" width="7" height="8" fill="#00acd2"/><rect x="270" y="222" width="7" height="8" fill="#00abd4"/><rect x="276" y="222" width="8" height="8" fill="#00aad6"/><rect x="283" y="222" width="7" height="8" fill="#00a9d8"/><rect x="289" y="222" width="7" height="8" fill="#00a7da"/><rect x="295" y="222" width="7" height="8" fill="#00a5de"/><rect x="301" y="222" width="7" height="8" fill="#00a2e3"/><rect x="307" y="222" width="8" height="8" fill="#009fe8"/><rect x="314" y="222" width="7" height="8" fill="#009ded"/><rect x="320" y="222" width="7" height="8" fill="#009af0"/><rect x="326" y="222" width="7" height="8" fill="#0098f2"/><rect x="332" y="222" width="7" height="8" fill="#0095f4"/><rect x="338" y="222" width="8" height="8" fill="#0093f5"/><rect x="345" y="222" width="7" height="8" fill="#0092f7"/><rect x="351" y="222" width="7" height="8" fill="#0091f8"/><rect x="357" y="222" width="7" height="8" fill="#0090f8"/><rect x="363" y="222" width="7" height="8" fill="#008ff9"/><rect x="369" y="222" width="8" height="8" fill="#008efa"/><rect x="376" y="222" width="7" height="8" fill="#008dfa"/><rect x="382" y="222" width="7" height="8" fill="#018cfb"/><rect x="388" y="222" width="7" height="8" fill="#018bfb"/><rect x="394" y="222" width="7" height="8" fill="#018afb"/><rect x="400" y="222" width="8" height="8" fill="#0289fc"/><rect x="407" y="222" width="7" height="8" fill="#0287fc"/><rect x="413" y="222" width="7" height="8" fill="#0286fc"/><rect x="419" y="222" width="7" height="8" fill="#0384fd"/><rect x="425" y="222" width="8" height="8" fill="#0383fd"/><rect x="432" y="222" width="7" height="8" fill="#0481fe"/>
<rect x="84" y="216" width="7" height="7" fill="#04c968"/><rect x="90" y="216" width="7" height="7" fill="#00c86e"/><rect x="96" y="216" width="8" height="7" fill="#00c773"/><rect x="103" y="216" width="7" height="7" fill="#00c677"/><rect x="109" y="216" width="7" height="7" fill="#00c57b"/><rect x="115" y="216" width="7" height="7" fill="#00c47e"/><rect x="121" y="216" width="7" height="7" fill="#00c381"/><rect x="127" y="216" width="8" height="7" fill="#00c284"/><rect x="134" y="216" width="7" height="7" fill="#00c287"/><rect x="140" y="216" width="7" height="7" fill="#00c189"/><rect x="146" y="216" width="7" height="7" fill="#00c18c"/><rect x="152" y="216" width="7" height="7" fill="#00c08e"/><rect x="158" y="216" width="8" height="7" fill="#00bf91"/><rect x="165" y="216" width="7" height="7" fill="#00be94"/><rect x="171" y="216" width="7" height="7" fill="#00bd98"/><rect x="177" y="216" width="7" height="7" fill="#00bc9b"/><rect x="183" y="216" width="7" height="7" fill="#00bb9f"/><rect x="189" y="216" width="8" height="7" fill="#00baa3"/><rect x="196" y="216" width="7" height="7" fill="#00baa6"/><rect x="202" y="216" width="7" height="7" fill="#00b9aa"/><rect x="208" y="216" width="7" height="7" fill="#00b8ac"/><rect x="214" y="216" width="7" height="7" fill="#00b7af"/><rect x="220" y="216" width="8" height="7" fill="#00b7b0"/><rect x="227" y="216" width="7" height="7" fill="#00b6b2"/><rect x="233" y="216" width="7" height="7" fill="#00b6b4"/><rect x="239" y="216" width="7" height="7" fill="#00b5b6"/><rect x="245" y="216" width="8" height="7" fill="#00b4ba"/><rect x="252" y="216" width="7" height="7" fill="#00b2bf"/><rect x="258" y="216" width="7" height="7" fill="#00b0c4"/><rect x="264" y="216" width="7" height="7" fill="#00afc9"/><rect x="270" y="216" width="7" height="7" fill="#00aecc"/><rect x="276" y="216" width="8" height="7" fill="#00adce"/><rect x="283" y="216" width="7" height="7" fill="#00acd1"/><rect x="289" y="216" width="7" height="7" fill="#00abd4"/><rect x="295" y="216" width="7" height="7" fill="#00a9d8"/><rect x="301" y="216" width="7" height="7" fill="#00a6dd"/><rect x="307" y="216" width="8" height="7" fill="#00a3e2"/><rect x="314" y="216" width="7" height="7" fill="#00a0e6"/><rect x="320" y="216" width="7" height="7" fill="#009eeb"/><rect x="326" y="216" width="7" height="7" fill="#009bef"/><rect x="332" y="216" width="7" height="7" fill="#0099f1"/><rect x="338" y="216" width="8" height="7" fill="#0097f2"/><rect x="345" y="216" width="7" height="7" fill="#0096f3"/><rect x="351" y="216" width="7" height="7" fill="#0094f5"/><rect x="357" y="216" width="7" height="7" fill="#0093f6"/><rect x="363" y="216" width="7" height="7" fill="#0092f6"/><rect x="369" y="216" width="8" height="7" fill="#0091f7"/><rect x="376" y="216" width="7" height="7" fill="#0090f8"/><rect x="382" y="216" width="7" height="7" fill="#008ff9"/><rect x="388" y="216" width="7" height="7" fill="#008efa"/><rect x="394" y="216" width="7" height="7" fill="#008dfa"/><rect x="400" y="216" width="8" height="7" fill="#018cfb"/><rect x="407" y="216" width="7" height="7" fill="#018afb"/><rect x="413" y="216" width="7" height="7" fill="#0289fc"/><rect x="419" y="216" width="7" height="7" fill="#0287fc"/><rect x="425" y="216" width="8" height="7" fill="#0385fd"/><rect x="432" y="216" width="7" height="7" fill="#0384fd"/>
<rect x="84" y="210" width="7" height="7" fill="#08ca63"/><rect x="90" y="210" width="7" height="7" fill="#04c968"/><rect x="96" y="210" width="8" height="7" fill="#00c86e"/><rect x="103" y="210" width="7" height="7" fill="#00c772"/><rect x="109" y="210" width="7" height="7" fill="#00c675"/><rect x="115" y="210" width="7" height="7" fill="#00c578"/><rect x="121" y="210" width="7" height="7" fill="#00c57b"/><rect x="127" y="210" width="8" height="7" fill="#00c47d"/><rect x="134" y="210" width="7" height="7" fill="#00c47f"/><rect x="140" y="210" width="7" height="7" fill="#00c382"/><rect x="146" y="210" width="7" height="7" fill="#00c284"/><rect x="152" y="210" width="7" height="7" fill="#00c287"/><rect x="158" y="210" width="8" height="7" fill="#00c189"/><rect x="165" y="210" width="7" height="7" fill="#00c08d"/><rect x="171" y="210" width="7" height="7" fill="#00bf90"/><rect x="177" y="210" width="7" height="7" fill="#00be94"/><rect x="183" y="210" width="7" height="7" fill="#00bd98"/><rect x="189" y="210" width="8" height="7" fill="#00bc9d"/><rect x="196" y="210" width="7" height="7" fill="#00bba0"/><rect x="202" y="210" width="7" height="7" fill="#00baa4"/><rect x="208" y="210" width="7" height="7" fill="#00b9a7"/><rect x="214" y="210" width="7" height="7" fill="#00b9a9"/><rect x="220" y="210" width="8" height="7" fill="#00b9aa"/><rect x="227" y="210" width="7" height="7" fill="#00b8ab"/><rect x="233" y="210" width="7" height="7" fill="#00b8ac"/><rect x="239" y="210" width="7" height="7" fill="#00b8ae"/><rect x="245" y="210" width="8" height="7" fill="#00b7b0"/><rect x="252" y="210" width="7" height="7" fill="#00b6b5"/><rect x="258" y="210" width="7" height="7" fill="#00b4ba"/><rect x="264" y="210" width="7" height="7" fill="#00b2bf"/><rect x="270" y="210" width="7" height="7" fill="#00b1c3"/><rect x="276" y="210" width="8" height="7" fill="#00b0c6"/><rect x="283" y="210" width="7" height="7" fill="#00afc9"/><rect x="289" y="210" width="7" height="7" fill="#00aecd"/><rect x="295" y="210" width="7" height="7" fill="#00acd2"/><rect x="301" y="210" width="7" height="7" fill="#00a9d7"/><rect x="307" y="210" width="8" height="7" fill="#00a7dc"/><rect x="314" y="210" width="7" height="7" fill="#00a4e0"/><rect x="320" y="210" width="7" height="7" fill="#00a1e5"/><rect x="326" y="210" width="7" height="7" fill="#009fe9"/><rect x="332" y="210" width="7" height="7" fill="#009ded"/><rect x="338" y="210" width="8" height="7" fill="#009bef"/><rect x="345" y="210" width="7" height="7" fill="#0099f0"/><rect x="351" y="210" width="7" height="7" fill="#0098f1"/><rect x="357" y="210" width="7" height="7" fill="#0097f2"/><rect x="363" y="210" width="7" height="7" fill="#0096f3"/><rect x="369" y="210" width="8" height="7" fill="#0094f4"/><rect x="376" y="210" width="7" height="7" fill="#0093f5"/><rect x="382" y="210" width="7" height="7" fill="#0092f6"/><rect x="388" y="210" width="7" height="7" fill="#0091f7"/><rect x="394" y="210" width="7" height="7" fill="#0090f8"/><rect x="400" y="210" width="8" height="7" fill="#008ffa"/><rect x="407" y="210" width="7" height="7" fill="#008dfa"/><rect x="413" y="210" width="7" height="7" fill="#018cfb"/><rect x="419" y="210" width="7" height="7" fill="#018afb"/><rect x="425" y="210" width="8" height="7" fill="#0288fc"/><rect x="432" y="210" width="7" height="7" fill="#0287fc"/>
<rect x="84" y="204" width="7" height="7" fill="#0cca5e"/><rect x="90" y="204" width="7" height="7" fill="#07c964"/><rect x="96" y="204" width="8" height="7" fill="#04c969"/><rect x="103" y="204" width="7" height="7" fill="#01c86d"/><rect x="109" y="204" width="7" height="7" fill="#00c870"/><rect x="115" y="204" width="7" height="7" fill="#00c772"/><rect x="121" y="204" width="7" height="7" fill="#00c674"/><rect x="127" y="204" width="8" height="7" fill="#00c676"/><rect x="134" y="204" width="7" height="7" fill="#00c678"/><rect x="140" y="204" width="7" height="7" fill="#00c57a"/><rect x="146" y="204" width="7" height="7" fill="#00c57c"/><rect x="152" y="204" width="7" height="7" fill="#00c47e"/><rect x="158" y="204" width="8" height="7" fill="#00c381"/><rect x="165" y="204" width="7" height="7" fill="#00c284"/><rect x="171" y="204" width="7" height="7" fill="#00c188"/><rect x="177" y="204" width="7" height="7" fill="#00c08d"/><rect x="183" y="204" width="7" height="7" fill="#00bf91"/><rect x="189" y="204" width="8" height="7" fill="#00be96"/><rect x="196" y="204" width="7" height="7" fill="#00bd9b"/><rect x="202" y="204" width="7" height="7" fill="#00bc9e"/><rect x="208" y="204" width="7" height="7" fill="#00bba1"/><rect x="214" y="204" width="7" height="7" fill="#00baa3"/><rect x="220" y="204" width="8" height="7" fill="#00baa4"/><rect x="227" y="204" width="7" height="7" fill="#00baa5"/><rect x="233" y="204" width="7" height="7" fill="#00baa5"/><rect x="239" y="204" width="7" height="7" fill="#00baa6"/><rect x="245" y="204" width="8" height="7" fill="#00b9a8"/><rect x="252" y="204" width="7" height="7" fill="#00b8ab"/><rect x="258" y="204" width="7" height="7" fill="#00b7b0"/><rect x="264" y="204" width="7" height="7" fill="#00b5b5"/><rect x="270" y="204" width="7" height="7" fill="#00b4ba"/><rect x="276" y="204" width="8" height="7" fill="#00b3be"/><rect x="283" y="204" width="7" height="7" fill="#00b1c2"/><rect x="289" y="204" width="7" height="7" fill="#00b0c6"/><rect x="295" y="204" width="7" height="7" fill="#00aecc"/><rect x="301" y="204" width="7" height="7" fill="#00acd2"/><rect x="307" y="204" width="8" height="7" fill="#00aad6"/><rect x="314" y="204" width="7" height="7" fill="#00a7da"/><rect x="320" y="204" width="7" height="7" fill="#00a5de"/><rect x="326" y="204" width="7" height="7" fill="#00a3e2"/><rect x="332" y="204" width="7" height="7" fill="#00a1e6"/><rect x="338" y="204" width="8" height="7" fill="#009fe9"/><rect x="345" y="204" width="7" height="7" fill="#009dec"/><rect x="351" y="204" width="7" height="7" fill="#009cee"/><rect x="357" y="204" width="7" height="7" fill="#009af0"/><rect x="363" y="204" width="7" height="7" fill="#0099f1"/><rect x="369" y="204" width="8" height="7" fill="#0098f2"/><rect x="376" y="204" width="7" height="7" fill="#0097f3"/><rect x="382" y="204" width="7" height="7" fill="#0095f4"/><rect x="388" y="204" width="7" height="7" fill="#0094f5"/><rect x="394" y="204" width="7" height="7" fill="#0093f6"/><rect x="400" y="204" width="8" height="7" fill="#0092f7"/><rect x="407" y="204" width="7" height="7" fill="#0090f8"/><rect x="413" y="204" width="7" height="7" fill="#008ff9"/><rect x="419" y="204" width="7" height="7" fill="#008dfa"/><rect x="425" y="204" width="8" height="7" fill="#018cfb"/><rect x="432" y="204" width="7" height="7" fill="#018afb"/>
<rect x="84" y="198" width="7" height="7" fill="#0ecb5b"/><rect x="90" y="198" width="7" height="7" fill="#0aca60"/><rect x="96" y="198" width="8" height="7" fill="#07c964"/><rect x="103" y="198" width="7" height="7" fill="#05c967"/><rect x="109" y="198" width="7" height="7" fill="#03c969"/><rect x="115" y="198" width="7" height="7" fill="#02c86b"/><rect x="121" y="198" width="7" height="7" fill="#01c86d"/><rect x="127" y="198" width="8" height="7" fill="#00c86e"/><rect x="134" y="198" width="7" height="7" fill="#00c870"/><rect x="140" y="198" width="7" height="7" fill="#00c772"/><rect x="146" y="198" width="7" height="7" fill="#00c773"/><rect x="152" y="198" width="7" height="7" fill="#00c676"/><rect x="158" y="198" width="8" height="7" fill="#00c578"/><rect x="165" y="198" width="7" height="7" fill="#00c57c"/><rect x="171" y="198" width="7" height="7" fill="#00c480"/><rect x="177" y="198" width="7" height="7" fill="#00c285"/><rect x="183" y="198" width="7" height="7" fill="#00c18a"/><rect x="189" y="198" width="8" height="7" fill="#00c08f"/><rect x="196" y="198" width="7" height="7" fill="#00be95"/><rect x="202" y="198" width="7" height="7" fill="#00bd99"/><rect x="208" y="198" width="7" height="7" fill="#00bc9c"/><rect x="214" y="198" width="7" height="7" fill="#00bc9e"/><rect x="220" y="198" width="8" height="7" fill="#00bb9f"/><rect x="227" y="198" width="7" height="7" fill="#00bb9f"/><rect x="233" y="198" width="7" height="7" fill="#00bb9f"/><rect x="239" y="198" width="7" height="7" fill="#00bba0"/><rect x="245" y="198" width="8" height="7" fill="#00bba1"/><rect x="252" y="198" width="7" height="7" fill="#00baa4"/><rect x="258" y="198" width="7" height="7" fill="#00b9a9"/><rect x="264" y="198" width="7" height="7" fill="#00b8ad"/><rect x="270" y="198" width="7" height="7" fill="#00b6b2"/><rect x="276" y="198" width="8" height="7" fill="#00b5b7"/><rect x="283" y="198" width="7" height="7" fill="#00b3bc"/><rect x="289" y="198" width="7" height="7" fill="#00b2c0"/><rect x="295" y="198" width="7" height="7" fill="#00b0c6"/><rect x="301" y="198" width="7" height="7" fill="#00aecb"/><rect x="307" y="198" width="8" height="7" fill="#00acd1"/><rect x="314" y="198" width="7" height="7" fill="#00aad5"/><rect x="320" y="198" width="7" height="7" fill="#00a8d9"/><rect x="326" y="198" width="7" height="7" fill="#00a6dc"/><rect x="332" y="198" width="7" height="7" fill="#00a4df"/><rect x="338" y="198" width="8" height="7" fill="#00a3e2"/><rect x="345" y="198" width="7" height="7" fill="#00a1e5"/><rect x="351" y="198" width="7" height="7" fill="#009fe8"/><rect x="357" y="198" width="7" height="7" fill="#009eeb"/><rect x="363" y="198" width="7" height="7" fill="#009ced"/><rect x="369" y="198" width="8" height="7" fill="#009bef"/><rect x="376" y="198" width="7" height="7" fill="#009af0"/><rect x="382" y="198" width="7" height="7" fill="#0099f1"/><rect x="388" y="198" width="7" height="7" fill="#0097f2"/><rect x="394" y="198" width="7" height="7" fill="#0096f3"/><rect x="400" y="198" width="8" height="7" fill="#0095f4"/><rect x="407" y="198" width="7" height="7" fill="#0093f5"/><rect x="413" y="198" width="7" height="7" fill="#0092f7"/><rect x="419" y="198" width="7" height="7" fill="#0090f8"/><rect x="425" y="198" width="8" height="7" fill="#008ff9"/><rect x="432" y="198" width="7" height="7" fill="#008dfa"/>
<rect x="84" y="191" width="7" height="8" fill="#11cb57"/><rect x="90" y="191" width="7" height="8" fill="#0ecb5b"/><rect x="96" y="191" width="8" height="8" fill="#0cca5d"/><rect x="103" y="191" width="7" height="8" fill="#0bca5f"/><rect x="109" y="191" width="7" height="8" fill="#09ca61"/><rect x="115" y="191" width="7" height="8" fill="#08ca62"/><rect x="121" y="191" width="7" height="8" fill="#07c964"/><rect x="127" y="191" width="8" height="8" fill="#06c965"/><rect x="134" y="191" width="7" height="8" fill="#05c966"/><rect x="140" y="191" width="7" height="8" fill="#04c968"/><rect x="146" y="191" width="7" height="8" fill="#03c96a"/><rect x="152" y="191" width="7" height="8" fill="#01c86c"/><rect x="158" y="191" width="8" height="8" fill="#00c86f"/><rect x="165" y="191" width="7" height="8" fill="#00c772"/><rect x="171" y="191" width="7" height="8" fill="#00c676"/><rect x="177" y="191" width="7" height="8" fill="#00c57c"/><rect x="183" y="191" width="7" height="8" fill="#00c382"/><rect x="189" y="191" width="8" height="8" fill="#00c188"/><rect x="196" y="191" width="7" height="8" fill="#00c08e"/><rect x="202" y="191" width="7" height="8" fill="#00bf94"/><rect x="208" y="191" width="7" height="8" fill="#00be97"/><rect x="214" y="191" width="7" height="8" fill="#00bd99"/><rect x="220" y="191" width="8" height="8" fill="#00bd9a"/><rect x="227" y="191" width="7" height="8" fill="#00bd9a"/><rect x="233" y="191" width="7" height="8" fill="#00bd9a"/><rect x="239" y="191" width="7" height="8" fill="#00bd9a"/><rect x="245" y="191" width="8" height="8" fill="#00bd9b"/><rect x="252" y="191" width="7" height="8" fill="#00bc9e"/><rect x="258" y="191" width="7" height="8" fill="#00bba2"/><rect x="264" y="191" width="7" height="8" fill="#00b9a7"/><rect x="270" y="191" width="7" height="8" fill="#00b8ac"/><rect x="276" y="191" width="8" height="8" fill="#00b7b1"/><rect x="283" y="191" width="7" height="8" fill="#00b5b6"/><rect x="289" y="191" width="7" height="8" fill="#00b3bb"/><rect x="295" y="191" width="7" height="8" fill="#00b2c0"/><rect x="301" y="191" width="7" height="8" fill="#00b0c6"/><rect x="307" y="191" width="8" height="8" fill="#00aecb"/><rect x="314" y="191" width="7" height="8" fill="#00add0"/><rect x="320" y="191" width="7" height="8" fill="#00abd4"/><rect x="326" y="191" width="7" height="8" fill="#00a9d7"/><rect x="332" y="191" width="7" height="8" fill="#00a8d9"/><rect x="338" y="191" width="8" height="8" fill="#00a6dc"/><rect x="345" y="191" width="7" height="8" fill="#00a5df"/><rect x="351" y="191" width="7" height="8" fill="#00a3e1"/><rect x="357" y="191" width="7" height="8" fill="#00a2e4"/><rect x="363" y="191" width="7" height="8" fill="#00a0e7"/><rect x="369" y="191" width="8" height="8" fill="#009eea"/><rect x="376" y="191" width="7" height="8" fill="#009dec"/><rect x="382" y="191" width="7" height="8" fill="#009cee"/><rect x="388" y="191" width="7" height="8" fill="#009aef"/><rect x="394" y="191" width="7" height="8" fill="#0099f0"/><rect x="400" y="191" width="8" height="8" fill="#0098f2"/><rect x="407" y="191" width="7" height="8" fill="#0096f3"/><rect x="413" y="191" width="7" height="8" fill="#0095f4"/><rect x="419" y="191" width="7" height="8" fill="#0094f5"/><rect x="425" y="191" width="8" height="8" fill="#0092f6"/><rect x="432" y="191" width="7" height="8" fill="#0091f8"/>
<rect x="84" y="185" width="7" height="7" fill="#18cd4f"/><rect x="90" y="185" width="7" height="7" fill="#15cc51"/><rect x="96" y="185" width="8" height="7" fill="#13cc53"/><rect x="103" y="185" width="7" height="7" fill="#12cc55"/><rect x="109" y="185" width="7" height="7" fill="#11cb57"/><rect x="115" y="185" width="7" height="7" fill="#10cb58"/><rect x="121" y="185" width="7" height="7" fill="#0fcb59"/><rect x="127" y="185" width="8" height="7" fill="#0ecb5a"/><rect x="134" y="185" width="7" height="7" fill="#0dcb5c"/><rect x="140" y="185" width="7" height="7" fill="#0cca5e"/><rect x="146" y="185" width="7" height="7" fill="#0aca60"/><rect x="152" y="185" width="7" height="7" fill="#09ca61"/><rect x="158" y="185" width="8" height="7" fill="#07c964"/><rect x="165" y="185" width="7" height="7" fill="#05c967"/><rect x="171" y="185" width="7" height="7" fill="#01c86c"/><rect x="177" y="185" width="7" height="7" fill="#00c772"/><rect x="183" y="185" width="7" height="7" fill="#00c579"/><rect x="189" y="185" width="8" height="7" fill="#00c380"/><rect x="196" y="185" width="7" height="7" fill="#00c287"/><rect x="202" y="185" width="7" height="7" fill="#00c08e"/><rect x="208" y="185" width="7" height="7" fill="#00bf92"/><rect x="214" y="185" width="7" height="7" fill="#00be94"/><rect x="220" y="185" width="8" height="7" fill="#00be95"/><rect x="227" y="185" width="7" height="7" fill="#00be95"/><rect x="233" y="185" width="7" height="7" fill="#00be94"/><rect x="239" y="185" width="7" height="7" fill="#00be95"/><rect x="245" y="185" width="8" height="7" fill="#00be96"/><rect x="252" y="185" width="7" height="7" fill="#00bd99"/><rect x="258" y="185" width="7" height="7" fill="#00bc9d"/><rect x="264" y="185" width="7" height="7" fill="#00bba2"/><rect x="270" y="185" width="7" height="7" fill="#00b9a7"/><rect x="276" y="185" width="8" height="7" fill="#00b8ac"/><rect x="283" y="185" width="7" height="7" fill="#00b7b1"/><rect x="289" y="185" width="7" height="7" fill="#00b5b6"/><rect x="295" y="185" width="7" height="7" fill="#00b3bb"/><rect x="301" y="185" width="7" height="7" fill="#00b2c1"/><rect x="307" y="185" width="8" height="7" fill="#00b0c6"/><rect x="314" y="185" width="7" height="7" fill="#00afca"/><rect x="320" y="185" width="7" height="7" fill="#00adce"/><rect x="326" y="185" width="7" height="7" fill="#00acd2"/><rect x="332" y="185" width="7" height="7" fill="#00abd4"/><rect x="338" y="185" width="8" height="7" fill="#00aad6"/><rect x="345" y="185" width="7" height="7" fill="#00a8d9"/><rect x="351" y="185" width="7" height="7" fill="#00a7dc"/><rect x="357" y="185" width="7" height="7" fill="#00a5de"/><rect x="363" y="185" width="7" height="7" fill="#00a3e1"/><rect x="369" y="185" width="8" height="7" fill="#00a2e4"/><rect x="376" y="185" width="7" height="7" fill="#00a0e6"/><rect x="382" y="185" width="7" height="7" fill="#009fe9"/><rect x="388" y="185" width="7" height="7" fill="#009eeb"/><rect x="394" y="185" width="7" height="7" fill="#009cee"/><rect x="400" y="185" width="8" height="7" fill="#009bef"/><rect x="407" y="185" width="7" height="7" fill="#009af0"/><rect x="413" y="185" width="7" height="7" fill="#0098f1"/><rect x="419" y="185" width="7" height="7" fill="#0097f2"/><rect x="425" y="185" width="8" height="7" fill="#0095f4"/><rect x="432" y="185" width="7" height="7" fill="#0094f5"/>
<rect x="84" y="179" width="7" height="7" fill="#79c838"/><rect x="90" y="179" width="7" height="7" fill="#6ec83c"/><rect x="96" y="179" width="8" height="7" fill="#66c941"/><rect x="103" y="179" width="7" height="7" fill="#5fc945"/><rect x="109" y="179" width="7" height="7" fill="#57ca48"/><rect x="115" y="179" width="7" height="7" fill="#3bcb4b"/><rect x="121" y="179" width="7" height="7" fill="#22cd4d"/><rect x="127" y="179" width="8" height="7" fill="#18cd4f"/><rect x="134" y="179" width="7" height="7" fill="#15cc51"/><rect x="140" y="179" width="7" height="7" fill="#14cc53"/><rect x="146" y="179" width="7" height="7" fill="#12cc55"/><rect x="152" y="179" width="7" height="7" fill="#11cb56"/><rect x="158" y="179" width="8" height="7" fill="#0fcb58"/><rect x="165" y="179" width="7" height="7" fill="#0dcb5c"/><rect x="171" y="179" width="7" height="7" fill="#0aca61"/><rect x="177" y="179" width="7" height="7" fill="#05c968"/><rect x="183" y="179" width="7" height="7" fill="#00c86f"/><rect x="189" y="179" width="8" height="7" fill="#00c677"/><rect x="196" y="179" width="7" height="7" fill="#00c47f"/><rect x="202" y="179" width="7" height="7" fill="#00c286"/><rect x="208" y="179" width="7" height="7" fill="#00c18c"/><rect x="214" y="179" width="7" height="7" fill="#00c08e"/><rect x="220" y="179" width="8" height="7" fill="#00c08e"/><rect x="227" y="179" width="7" height="7" fill="#00c08f"/><rect x="233" y="179" width="7" height="7" fill="#00c08f"/><rect x="239" y="179" width="7" height="7" fill="#00c08f"/><rect x="245" y="179" width="8" height="7" fill="#00bf91"/><rect x="252" y="179" width="7" height="7" fill="#00be94"/><rect x="258" y="179" width="7" height="7" fill="#00bd99"/><rect x="264" y="179" width="7" height="7" fill="#00bc9e"/><rect x="270" y="179" width="7" height="7" fill="#00baa3"/><rect x="276" y="179" width="8" height="7" fill="#00b9a8"/><rect x="283" y="179" width="7" height="7" fill="#00b8ad"/><rect x="289" y="179" width="7" height="7" fill="#00b6b2"/><rect x="295" y="179" width="7" height="7" fill="#00b5b7"/><rect x="301" y="179" width="7" height="7" fill="#00b3bc"/><rect x="307" y="179" width="8" height="7" fill="#00b1c1"/><rect x="314" y="179" width="7" height="7" fill="#00b0c5"/><rect x="320" y="179" width="7" height="7" fill="#00afc9"/><rect x="326" y="179" width="7" height="7" fill="#00aecc"/><rect x="332" y="179" width="7" height="7" fill="#00adcf"/><rect x="338" y="179" width="8" height="7" fill="#00acd1"/><rect x="345" y="179" width="7" height="7" fill="#00abd4"/><rect x="351" y="179" width="7" height="7" fill="#00a9d6"/><rect x="357" y="179" width="7" height="7" fill="#00a8d9"/><rect x="363" y="179" width="7" height="7" fill="#00a7dc"/><rect x="369" y="179" width="8" height="7" fill="#00a5de"/><rect x="376" y="179" width="7" height="7" fill="#00a4e0"/><rect x="382" y="179" width="7" height="7" fill="#00a2e3"/><rect x="388" y="179" width="7" height="7" fill="#00a1e5"/><rect x="394" y="179" width="7" height="7" fill="#00a0e8"/><rect x="400" y="179" width="8" height="7" fill="#009eea"/><rect x="407" y="179" width="7" height="7" fill="#009ded"/><rect x="413" y="179" width="7" height="7" fill="#009bef"/><rect x="419" y="179" width="7" height="7" fill="#009af0"/><rect x="425" y="179" width="8" height="7" fill="#0099f1"/><rect x="432" y="179" width="7" height="7" fill="#0097f2"/>
<rect x="84" y="173" width="7" height="7" fill="#abc81d"/><rect x="90" y="173" width="7" height="7" fill="#9ec825"/><rect x="96" y="173" width="8" height="7" fill="#92c82c"/><rect x="103" y="173" width="7" height="7" fill="#88c832"/><rect x="109" y="173" width="7" height="7" fill="#7ec836"/><rect x="115" y="173" width="7" height="7" fill="#77c839"/><rect x="121" y="173" width="7" height="7" fill="#70c83b"/><rect x="127" y="173" width="8" height="7" fill="#6ac83e"/><rect x="134" y="173" width="7" height="7" fill="#65c941"/><rect x="140" y="173" width="7" height="7" fill="#60c945"/><rect x="146" y="173" width="7" height="7" fill="#5aca48"/><rect x="152" y="173" width="7" height="7" fill="#41cb4a"/><rect x="158" y="173" width="8" height="7" fill="#25cc4d"/><rect x="165" y="173" width="7" height="7" fill="#17cd50"/><rect x="171" y="173" width="7" height="7" fill="#12cc55"/><rect x="177" y="173" width="7" height="7" fill="#0dcb5c"/><rect x="183" y="173" width="7" height="7" fill="#07c965"/><rect x="189" y="173" width="8" height="7" fill="#00c86e"/><rect x="196" y="173" width="7" height="7" fill="#00c675"/><rect x="202" y="173" width="7" height="7" fill="#00c47d"/><rect x="208" y="173" width="7" height="7" fill="#00c382"/><rect x="214" y="173" width="7" height="7" fill="#00c285"/><rect x="220" y="173" width="8" height="7" fill="#00c287"/><rect x="227" y="173" width="7" height="7" fill="#00c287"/><rect x="233" y="173" width="7" height="7" fill="#00c188"/><rect x="239" y="173" width="7" height="7" fill="#00c18a"/><rect x="245" y="173" width="8" height="7" fill="#00c08c"/><rect x="252" y="173" width="7" height="7" fill="#00c090"/><rect x="258" y="173" width="7" height="7" fill="#00be94"/><rect x="264" y="173" width="7" height="7" fill="#00bd9a"/><rect x="270" y="173" width="7" height="7" fill="#00bb9f"/><rect x="276" y="173" width="8" height="7" fill="#00baa4"/><rect x="283" y="173" width="7" height="7" fill="#00b9a9"/><rect x="289" y="173" width="7" height="7" fill="#00b7ae"/><rect x="295" y="173" width="7" height="7" fill="#00b6b4"/><rect x="301" y="173" width="7" height="7" fill="#00b4b9"/><rect x="307" y="173" width="8" height="7" fill="#00b3bd"/><rect x="314" y="173" width="7" height="7" fill="#00b2c1"/><rect x="320" y="173" width="7" height="7" fill="#00b0c4"/><rect x="326" y="173" width="7" height="7" fill="#00b0c7"/><rect x="332" y="173" width="7" height="7" fill="#00afc9"/><rect x="338" y="173" width="8" height="7" fill="#00aecc"/><rect x="345" y="173" width="7" height="7" fill="#00adcf"/><rect x="351" y="173" width="7" height="7" fill="#00acd2"/><rect x="357" y="173" width="7" height="7" fill="#00abd4"/><rect x="363" y="173" width="7" height="7" fill="#00aad6"/><rect x="369" y="173" width="8" height="7" fill="#00a8d9"/><rect x="376" y="173" width="7" height="7" fill="#00a7db"/><rect x="382" y="173" width="7" height="7" fill="#00a6dd"/><rect x="388" y="173" width="7" height="7" fill="#00a4df"/><rect x="394" y="173" width="7" height="7" fill="#00a3e2"/><rect x="400" y="173" width="8" height="7" fill="#00a2e4"/><rect x="407" y="173" width="7" height="7" fill="#00a0e6"/><rect x="413" y="173" width="7" height="7" fill="#009fe9"/><rect x="419" y="173" width="7" height="7" fill="#009dec"/><rect x="425" y="173" width="8" height="7" fill="#009cee"/><rect x="432" y="173" width="7" height="7" fill="#009aef"/>
<rect x="84" y="167" width="7" height="7" fill="#d5c40b"/><rect x="90" y="167" width="7" height="7" fill="#c8c510"/><rect x="96" y="167" width="8" height="7" fill="#bac616"/><rect x="103" y="167" width="7" height="7" fill="#adc81d"/><rect x="109" y="167" width="7" height="7" fill="#a2c823"/><rect x="115" y="167" width="7" height="7" fill="#99c828"/><rect x="121" y="167" width="7" height="7" fill="#91c82c"/><rect x="127" y="167" width="8" height="7" fill="#8ac830"/><rect x="134" y="167" width="7" height="7" fill="#84c833"/><rect x="140" y="167" width="7" height="7" fill="#7dc836"/><rect x="146" y="167" width="7" height="7" fill="#76c839"/><rect x="152" y="167" width="7" height="7" fill="#71c83b"/><rect x="158" y="167" width="8" height="7" fill="#6bc83e"/><rect x="165" y="167" width="7" height="7" fill="#64c942"/><rect x="171" y="167" width="7" height="7" fill="#48cb4a"/><rect x="177" y="167" width="7" height="7" fill="#14cc52"/><rect x="183" y="167" width="7" height="7" fill="#0ecb5a"/><rect x="189" y="167" width="8" height="7" fill="#08ca62"/><rect x="196" y="167" width="7" height="7" fill="#03c96a"/><rect x="202" y="167" width="7" height="7" fill="#00c772"/><rect x="208" y="167" width="7" height="7" fill="#00c677"/><rect x="214" y="167" width="7" height="7" fill="#00c57b"/><rect x="220" y="167" width="8" height="7" fill="#00c47e"/><rect x="227" y="167" width="7" height="7" fill="#00c47f"/><rect x="233" y="167" width="7" height="7" fill="#00c381"/><rect x="239" y="167" width="7" height="7" fill="#00c383"/><rect x="245" y="167" width="8" height="7" fill="#00c286"/><rect x="252" y="167" width="7" height="7" fill="#00c18a"/><rect x="258" y="167" width="7" height="7" fill="#00c08f"/><rect x="264" y="167" width="7" height="7" fill="#00be95"/><rect x="270" y="167" width="7" height="7" fill="#00bd9b"/><rect x="276" y="167" width="8" height="7" fill="#00bba1"/><rect x="283" y="167" width="7" height="7" fill="#00baa6"/><rect x="289" y="167" width="7" height="7" fill="#00b8ab"/><rect x="295" y="167" width="7" height="7" fill="#00b7b0"/><rect x="301" y="167" width="7" height="7" fill="#00b5b5"/><rect x="307" y="167" width="8" height="7" fill="#00b4b9"/><rect x="314" y="167" width="7" height="7" fill="#00b3bd"/><rect x="320" y="167" width="7" height="7" fill="#00b2c0"/><rect x="326" y="167" width="7" height="7" fill="#00b1c3"/><rect x="332" y="167" width="7" height="7" fill="#00b0c5"/><rect x="338" y="167" width="8" height="7" fill="#00b0c7"/><rect x="345" y="167" width="7" height="7" fill="#00afc9"/><rect x="351" y="167" width="7" height="7" fill="#00aecc"/><rect x="357" y="167" width="7" height="7" fill="#00adcf"/><rect x="363" y="167" width="7" height="7" fill="#00acd1"/><rect x="369" y="167" width="8" height="7" fill="#00abd4"/><rect x="376" y="167" width="7" height="7" fill="#00aad6"/><rect x="382" y="167" width="7" height="7" fill="#00a9d8"/><rect x="388" y="167" width="7" height="7" fill="#00a8da"/><rect x="394" y="167" width="7" height="7" fill="#00a6dc"/><rect x="400" y="167" width="8" height="7" fill="#00a5de"/><rect x="407" y="167" width="7" height="7" fill="#00a4e0"/><rect x="413" y="167" width="7" height="7" fill="#00a2e3"/><rect x="419" y="167" width="7" height="7" fill="#00a1e5"/><rect x="425" y="167" width="8" height="7" fill="#009fe8"/><rect x="432" y="167" width="7" height="7" fill="#009eeb"/>
<rect x="84" y="160" width="7" height="8" fill="#eec00b"/><rect x="90" y="160" width="7" height="8" fill="#e3c20a"/><rect x="96" y="160" width="8" height="8" fill="#d8c40a"/><rect x="103" y="160" width="7" height="8" fill="#ccc50e"/><rect x="109" y="160" width="7" height="8" fill="#c2c612"/><rect x="115" y="160" width="7" height="8" fill="#b8c717"/><rect x="121" y="160" width="7" height="8" fill="#afc81c"/><rect x="127" y="160" width="8" height="8" fill="#a6c820"/><rect x="134" y="160" width="7" height="8" fill="#9fc824"/><rect x="140" y="160" width="7" height="8" fill="#98c828"/><rect x="146" y="160" width="7" height="8" fill="#91c82c"/><rect x="152" y="160" width="7" height="8" fill="#8bc830"/><rect x="158" y="160" width="8" height="8" fill="#84c833"/><rect x="165" y="160" width="7" height="8" fill="#7ac837"/><rect x="171" y="160" width="7" height="8" fill="#6dc83d"/><rect x="177" y="160" width="7" height="8" fill="#5dca46"/><rect x="183" y="160" width="7" height="8" fill="#17cd50"/><rect x="189" y="160" width="8" height="8" fill="#10cb57"/><rect x="196" y="160" width="7" height="8" fill="#0bca5e"/><rect x="202" y="160" width="7" height="8" fill="#06c966"/><rect x="208" y="160" width="7" height="8" fill="#01c86c"/><rect x="214" y="160" width="7" height="8" fill="#00c771"/><rect x="220" y="160" width="8" height="8" fill="#00c674"/><rect x="227" y="160" width="7" height="8" fill="#00c677"/><rect x="233" y="160" width="7" height="8" fill="#00c579"/><rect x="239" y="160" width="7" height="8" fill="#00c47c"/><rect x="245" y="160" width="8" height="8" fill="#00c480"/><rect x="252" y="160" width="7" height="8" fill="#00c285"/><rect x="258" y="160" width="7" height="8" fill="#00c18a"/><rect x="264" y="160" width="7" height="8" fill="#00bf90"/><rect x="270" y="160" width="7" height="8" fill="#00be97"/><rect x="276" y="160" width="8" height="8" fill="#00bc9d"/><rect x="283" y="160" width="7" height="8" fill="#00baa3"/><rect x="289" y="160" width="7" height="8" fill="#00b9a8"/><rect x="295" y="160" width="7" height="8" fill="#00b8ad"/><rect x="301" y="160" width="7" height="8" fill="#00b6b2"/><rect x="307" y="160" width="8" height="8" fill="#00b5b6"/><rect x="314" y="160" width="7" height="8" fill="#00b4b9"/><rect x="320" y="160" width="7" height="8" fill="#00b3bc"/><rect x="326" y="160" width="7" height="8" fill="#00b2be"/><rect x="332" y="160" width="7" height="8" fill="#00b2c1"/><rect x="338" y="160" width="8" height="8" fill="#00b1c2"/><rect x="345" y="160" width="7" height="8" fill="#00b0c4"/><rect x="351" y="160" width="7" height="8" fill="#00b0c6"/><rect x="357" y="160" width="7" height="8" fill="#00afc8"/><rect x="363" y="160" width="7" height="8" fill="#00aecb"/><rect x="369" y="160" width="8" height="8" fill="#00aecd"/><rect x="376" y="160" width="7" height="8" fill="#00add0"/><rect x="382" y="160" width="7" height="8" fill="#00acd2"/><rect x="388" y="160" width="7" height="8" fill="#00abd4"/><rect x="394" y="160" width="7" height="8" fill="#00aad6"/><rect x="400" y="160" width="8" height="8" fill="#00a8d8"/><rect x="407" y="160" width="7" height="8" fill="#00a7da"/><rect x="413" y="160" width="7" height="8" fill="#00a6dd"/><rect x="419" y="160" width="7" height="8" fill="#00a4df"/><rect x="425" y="160" width="8" height="8" fill="#00a3e2"/><rect x="432" y="160" width="7" height="8" fill="#00a1e5"/>
<rect x="84" y="154" width="7" height="7" fill="#fbbd13"/><rect x="90" y="154" width="7" height="7" fill="#f6bf0e"/><rect x="96" y="154" width="8" height="7" fill="#edc10b"/><rect x="103" y="154" width="7" height="7" fill="#e3c20a"/><rect x="109" y="154" width="7" height="7" fill="#dac40a"/><rect x="115" y="154" width="7" height="7" fill="#d1c50d"/><rect x="121" y="154" width="7" height="7" fill="#c8c510"/><rect x="127" y="154" width="8" height="7" fill="#c1c613"/><rect x="134" y="154" width="7" height="7" fill="#b8c717"/><rect x="140" y="154" width="7" height="7" fill="#b0c71b"/><rect x="146" y="154" width="7" height="7" fill="#a8c81f"/><rect x="152" y="154" width="7" height="7" fill="#a1c823"/><rect x="158" y="154" width="8" height="7" fill="#99c828"/><rect x="165" y="154" width="7" height="7" fill="#8fc82d"/><rect x="171" y="154" width="7" height="7" fill="#83c834"/><rect x="177" y="154" width="7" height="7" fill="#74c83a"/><rect x="183" y="154" width="7" height="7" fill="#64c942"/><rect x="189" y="154" width="8" height="7" fill="#35cc4b"/><rect x="196" y="154" width="7" height="7" fill="#14cc53"/><rect x="202" y="154" width="7" height="7" fill="#0fcb5a"/><rect x="208" y="154" width="7" height="7" fill="#0aca60"/><rect x="214" y="154" width="7" height="7" fill="#06c966"/><rect x="220" y="154" width="8" height="7" fill="#02c86b"/><rect x="227" y="154" width="7" height="7" fill="#00c86e"/><rect x="233" y="154" width="7" height="7" fill="#00c772"/><rect x="239" y="154" width="7" height="7" fill="#00c675"/><rect x="245" y="154" width="8" height="7" fill="#00c579"/><rect x="252" y="154" width="7" height="7" fill="#00c47e"/><rect x="258" y="154" width="7" height="7" fill="#00c284"/><rect x="264" y="154" width="7" height="7" fill="#00c18b"/><rect x="270" y="154" width="7" height="7" fill="#00bf92"/><rect x="276" y="154" width="8" height="7" fill="#00bd99"/><rect x="283" y="154" width="7" height="7" fill="#00bb9f"/><rect x="289" y="154" width="7" height="7" fill="#00baa5"/><rect x="295" y="154" width="7" height="7" fill="#00b9aa"/><rect x="301" y="154" width="7" height="7" fill="#00b7ae"/><rect x="307" y="154" width="8" height="7" fill="#00b6b2"/><rect x="314" y="154" width="7" height="7" fill="#00b5b5"/><rect x="320" y="154" width="7" height="7" fill="#00b4b8"/><rect x="326" y="154" width="7" height="7" fill="#00b4ba"/><rect x="332" y="154" width="7" height="7" fill="#00b3bc"/><rect x="338" y="154" width="8" height="7" fill="#00b3be"/><rect x="345" y="154" width="7" height="7" fill="#00b2bf"/><rect x="351" y="154" width="7" height="7" fill="#00b2c1"/><rect x="357" y="154" width="7" height="7" fill="#00b1c2"/><rect x="363" y="154" width="7" height="7" fill="#00b0c4"/><rect x="369" y="154" width="8" height="7" fill="#00b0c6"/><rect x="376" y="154" width="7" height="7" fill="#00afc9"/><rect x="382" y="154" width="7" height="7" fill="#00aecb"/><rect x="388" y="154" width="7" height="7" fill="#00adce"/><rect x="394" y="154" width="7" height="7" fill="#00add0"/><rect x="400" y="154" width="8" height="7" fill="#00acd3"/><rect x="407" y="154" width="7" height="7" fill="#00aad5"/><rect x="413" y="154" width="7" height="7" fill="#00a9d7"/><rect x="419" y="154" width="7" height="7" fill="#00a8d9"/><rect x="425" y="154" width="8" height="7" fill="#00a6dc"/><rect x="432" y="154" width="7" height="7" fill="#00a5df"/>
<rect x="84" y="148" width="7" height="7" fill="#ffb91e"/><rect x="90" y="148" width="7" height="7" fill="#fdbb19"/><rect x="96" y="148" width="8" height="7" fill="#fbbd11"/><rect x="103" y="148" width="7" height="7" fill="#f4bf0d"/><rect x="109" y="148" width="7" height="7" fill="#ecc10a"/><rect x="115" y="148" width="7" height="7" fill="#e4c20a"/><rect x="121" y="148" width="7" height="7" fill="#dcc30a"/><rect x="127" y="148" width="8" height="7" fill="#d4c40b"/><rect x="134" y="148" width="7" height="7" fill="#ccc50e"/><rect x="140" y="148" width="7" height="7" fill="#c5c511"/><rect x="146" y="148" width="7" height="7" fill="#bec614"/><rect x="152" y="148" width="7" height="7" fill="#b5c719"/><rect x="158" y="148" width="8" height="7" fill="#acc81d"/><rect x="165" y="148" width="7" height="7" fill="#a1c823"/><rect x="171" y="148" width="7" height="7" fill="#96c829"/><rect x="177" y="148" width="7" height="7" fill="#8ac830"/><rect x="183" y="148" width="7" height="7" fill="#7bc837"/><rect x="189" y="148" width="8" height="7" fill="#6cc83d"/><rect x="196" y="148" width="7" height="7" fill="#5dca46"/><rect x="202" y="148" width="7" height="7" fill="#17cd4f"/><rect x="208" y="148" width="7" height="7" fill="#11cb56"/><rect x="214" y="148" width="7" height="7" fill="#0dcb5c"/><rect x="220" y="148" width="8" height="7" fill="#09ca61"/><rect x="227" y="148" width="7" height="7" fill="#06c965"/><rect x="233" y="148" width="7" height="7" fill="#03c969"/><rect x="239" y="148" width="7" height="7" fill="#00c86d"/><rect x="245" y="148" width="8" height="7" fill="#00c772"/><rect x="252" y="148" width="7" height="7" fill="#00c678"/><rect x="258" y="148" width="7" height="7" fill="#00c47e"/><rect x="264" y="148" width="7" height="7" fill="#00c286"/><rect x="270" y="148" width="7" height="7" fill="#00c08d"/><rect x="276" y="148" width="8" height="7" fill="#00be95"/><rect x="283" y="148" width="7" height="7" fill="#00bc9b"/><rect x="289" y="148" width="7" height="7" fill="#00bba1"/><rect x="295" y="148" width="7" height="7" fill="#00baa6"/><rect x="301" y="148" width="7" height="7" fill="#00b9aa"/><rect x="307" y="148" width="8" height="7" fill="#00b8ad"/><rect x="314" y="148" width="7" height="7" fill="#00b7b1"/><rect x="320" y="148" width="7" height="7" fill="#00b6b3"/><rect x="326" y="148" width="7" height="7" fill="#00b5b6"/><rect x="332" y="148" width="7" height="7" fill="#00b5b7"/><rect x="338" y="148" width="8" height="7" fill="#00b4b8"/><rect x="345" y="148" width="7" height="7" fill="#00b4ba"/><rect x="351" y="148" width="7" height="7" fill="#00b3bb"/><rect x="357" y="148" width="7" height="7" fill="#00b3bc"/><rect x="363" y="148" width="7" height="7" fill="#00b3be"/><rect x="369" y="148" width="8" height="7" fill="#00b2c0"/><rect x="376" y="148" width="7" height="7" fill="#00b1c2"/><rect x="382" y="148" width="7" height="7" fill="#00b1c4"/><rect x="388" y="148" width="7" height="7" fill="#00b0c6"/><rect x="394" y="148" width="7" height="7" fill="#00afc9"/><rect x="400" y="148" width="8" height="7" fill="#00aecb"/><rect x="407" y="148" width="7" height="7" fill="#00adce"/><rect x="413" y="148" width="7" height="7" fill="#00acd1"/><rect x="419" y="148" width="7" height="7" fill="#00abd4"/><rect x="425" y="148" width="8" height="7" fill="#00aad6"/><rect x="432" y="148" width="7" height="7" fill="#00a8d9"/>
<rect x="84" y="142" width="7" height="7" fill="#ffb721"/><rect x="90" y="142" width="7" height="7" fill="#ffb820"/><rect x="96" y="142" width="8" height="7" fill="#ffb91e"/><rect x="103" y="142" width="7" height="7" fill="#fcbc16"/><rect x="109" y="142" width="7" height="7" fill="#fabe0f"/><rect x="115" y="142" width="7" height="7" fill="#f2c00c"/><rect x="121" y="142" width="7" height="7" fill="#ecc10a"/><rect x="127" y="142" width="8" height="7" fill="#e4c20a"/><rect x="134" y="142" width="7" height="7" fill="#ddc30a"/><rect x="140" y="142" width="7" height="7" fill="#d5c40b"/><rect x="146" y="142" width="7" height="7" fill="#cdc50e"/><rect x="152" y="142" width="7" height="7" fill="#c6c511"/><rect x="158" y="142" width="8" height="7" fill="#bec614"/><rect x="165" y="142" width="7" height="7" fill="#b3c719"/><rect x="171" y="142" width="7" height="7" fill="#a8c81f"/><rect x="177" y="142" width="7" height="7" fill="#9cc826"/><rect x="183" y="142" width="7" height="7" fill="#8fc82d"/><rect x="189" y="142" width="8" height="7" fill="#81c834"/><rect x="196" y="142" width="7" height="7" fill="#72c83b"/><rect x="202" y="142" width="7" height="7" fill="#62c943"/><rect x="208" y="142" width="7" height="7" fill="#26cc4d"/><rect x="214" y="142" width="7" height="7" fill="#13cc53"/><rect x="220" y="142" width="8" height="7" fill="#10cb58"/><rect x="227" y="142" width="7" height="7" fill="#0cca5d"/><rect x="233" y="142" width="7" height="7" fill="#09ca61"/><rect x="239" y="142" width="7" height="7" fill="#06c966"/><rect x="245" y="142" width="8" height="7" fill="#02c86b"/><rect x="252" y="142" width="7" height="7" fill="#00c771"/><rect x="258" y="142" width="7" height="7" fill="#00c578"/><rect x="264" y="142" width="7" height="7" fill="#00c47f"/><rect x="270" y="142" width="7" height="7" fill="#00c287"/><rect x="276" y="142" width="8" height="7" fill="#00c08f"/><rect x="283" y="142" width="7" height="7" fill="#00be96"/><rect x="289" y="142" width="7" height="7" fill="#00bc9c"/><rect x="295" y="142" width="7" height="7" fill="#00bba1"/><rect x="301" y="142" width="7" height="7" fill="#00baa5"/><rect x="307" y="142" width="8" height="7" fill="#00b9a8"/><rect x="314" y="142" width="7" height="7" fill="#00b8ab"/><rect x="320" y="142" width="7" height="7" fill="#00b8ae"/><rect x="326" y="142" width="7" height="7" fill="#00b7b0"/><rect x="332" y="142" width="7" height="7" fill="#00b6b2"/><rect x="338" y="142" width="8" height="7" fill="#00b6b3"/><rect x="345" y="142" width="7" height="7" fill="#00b6b4"/><rect x="351" y="142" width="7" height="7" fill="#00b6b5"/><rect x="357" y="142" width="7" height="7" fill="#00b5b6"/><rect x="363" y="142" width="7" height="7" fill="#00b5b7"/><rect x="369" y="142" width="8" height="7" fill="#00b4b9"/><rect x="376" y="142" width="7" height="7" fill="#00b3bb"/><rect x="382" y="142" width="7" height="7" fill="#00b3bd"/><rect x="388" y="142" width="7" height="7" fill="#00b2bf"/><rect x="394" y="142" width="7" height="7" fill="#00b1c2"/><rect x="400" y="142" width="8" height="7" fill="#00b0c4"/><rect x="407" y="142" width="7" height="7" fill="#00b0c7"/><rect x="413" y="142" width="7" height="7" fill="#00afca"/><rect x="419" y="142" width="7" height="7" fill="#00aecd"/><rect x="425" y="142" width="8" height="7" fill="#00add0"/><rect x="432" y="142" width="7" height="7" fill="#00abd4"/>
<rect x="84" y="135" width="7" height="8" fill="#ffb623"/><rect x="90" y="135" width="7" height="8" fill="#ffb722"/><rect x="96" y="135" width="8" height="8" fill="#ffb820"/><rect x="103" y="135" width="7" height="8" fill="#ffb91f"/><rect x="109" y="135" width="7" height="8" fill="#feba1a"/><rect x="115" y="135" width="7" height="8" fill="#fbbd13"/><rect x="121" y="135" width="7" height="8" fill="#f7bf0e"/><rect x="127" y="135" width="8" height="8" fill="#f1c00c"/><rect x="134" y="135" width="7" height="8" fill="#eac10a"/><rect x="140" y="135" width="7" height="8" fill="#e3c20a"/><rect x="146" y="135" width="7" height="8" fill="#dbc30a"/><rect x="152" y="135" width="7" height="8" fill="#d3c40b"/><rect x="158" y="135" width="8" height="8" fill="#cbc50f"/><rect x="165" y="135" width="7" height="8" fill="#c2c612"/><rect x="171" y="135" width="7" height="8" fill="#b8c717"/><rect x="177" y="135" width="7" height="8" fill="#acc81d"/><rect x="183" y="135" width="7" height="8" fill="#a0c824"/><rect x="189" y="135" width="8" height="8" fill="#93c82b"/><rect x="196" y="135" width="7" height="8" fill="#86c832"/><rect x="202" y="135" width="7" height="8" fill="#76c839"/><rect x="208" y="135" width="7" height="8" fill="#66c941"/><rect x="214" y="135" width="7" height="8" fill="#4ecb49"/><rect x="220" y="135" width="8" height="8" fill="#17cd50"/><rect x="227" y="135" width="7" height="8" fill="#12cc54"/><rect x="233" y="135" width="7" height="8" fill="#0fcb59"/><rect x="239" y="135" width="7" height="8" fill="#0bca5e"/><rect x="245" y="135" width="8" height="8" fill="#07c964"/><rect x="252" y="135" width="7" height="8" fill="#02c86b"/><rect x="258" y="135" width="7" height="8" fill="#00c771"/><rect x="264" y="135" width="7" height="8" fill="#00c578"/><rect x="270" y="135" width="7" height="8" fill="#00c480"/><rect x="276" y="135" width="8" height="8" fill="#00c288"/><rect x="283" y="135" width="7" height="8" fill="#00c08f"/><rect x="289" y="135" width="7" height="8" fill="#00be95"/><rect x="295" y="135" width="7" height="8" fill="#00bd9a"/><rect x="301" y="135" width="7" height="8" fill="#00bc9d"/><rect x="307" y="135" width="8" height="8" fill="#00bba1"/><rect x="314" y="135" width="7" height="8" fill="#00baa4"/><rect x="320" y="135" width="7" height="8" fill="#00b9a7"/><rect x="326" y="135" width="7" height="8" fill="#00b9aa"/><rect x="332" y="135" width="7" height="8" fill="#00b8ab"/><rect x="338" y="135" width="8" height="8" fill="#00b8ac"/><rect x="345" y="135" width="7" height="8" fill="#00b8ad"/><rect x="351" y="135" width="7" height="8" fill="#00b8ae"/><rect x="357" y="135" width="7" height="8" fill="#00b7af"/><rect x="363" y="135" width="7" height="8" fill="#00b7b1"/><rect x="369" y="135" width="8" height="8" fill="#00b6b2"/><rect x="376" y="135" width="7" height="8" fill="#00b6b4"/><rect x="382" y="135" width="7" height="8" fill="#00b5b6"/><rect x="388" y="135" width="7" height="8" fill="#00b4b8"/><rect x="394" y="135" width="7" height="8" fill="#00b4bb"/><rect x="400" y="135" width="8" height="8" fill="#00b3bd"/><rect x="407" y="135" width="7" height="8" fill="#00b2c0"/><rect x="413" y="135" width="7" height="8" fill="#00b1c3"/><rect x="419" y="135" width="7" height="8" fill="#00b0c6"/><rect x="425" y="135" width="8" height="8" fill="#00afc9"/><rect x="432" y="135" width="7" height="8" fill="#00aecd"/>
<rect x="84" y="129" width="7" height="7" fill="#ffbb1b"/><rect x="90" y="129" width="7" height="7" fill="#ffb820"/><rect x="96" y="129" width="8" height="7" fill="#ffb622"/><rect x="103" y="129" width="7" height="7" fill="#ffb721"/><rect x="109" y="129" width="7" height="7" fill="#ffb81f"/><rect x="115" y="129" width="7" height="7" fill="#ffb91d"/><rect x="121" y="129" width="7" height="7" fill="#fcbc16"/><rect x="127" y="129" width="8" height="7" fill="#fabe10"/><rect x="134" y="129" width="7" height="7" fill="#f4bf0d"/><rect x="140" y="129" width="7" height="7" fill="#eec00b"/><rect x="146" y="129" width="7" height="7" fill="#e7c20a"/><rect x="152" y="129" width="7" height="7" fill="#dfc30a"/><rect x="158" y="129" width="8" height="7" fill="#d7c40a"/><rect x="165" y="129" width="7" height="7" fill="#cfc50d"/><rect x="171" y="129" width="7" height="7" fill="#c6c511"/><rect x="177" y="129" width="7" height="7" fill="#bcc615"/><rect x="183" y="129" width="7" height="7" fill="#b0c71b"/><rect x="189" y="129" width="8" height="7" fill="#a3c822"/><rect x="196" y="129" width="7" height="7" fill="#96c829"/><rect x="202" y="129" width="7" height="7" fill="#89c831"/><rect x="208" y="129" width="7" height="7" fill="#7ac837"/><rect x="214" y="129" width="7" height="7" fill="#6bc83e"/><rect x="220" y="129" width="8" height="7" fill="#5fca45"/><rect x="227" y="129" width="7" height="7" fill="#2bcc4c"/><rect x="233" y="129" width="7" height="7" fill="#14cc52"/><rect x="239" y="129" width="7" height="7" fill="#10cb57"/><rect x="245" y="129" width="8" height="7" fill="#0cca5d"/><rect x="252" y="129" width="7" height="7" fill="#08ca63"/><rect x="258" y="129" width="7" height="7" fill="#03c96a"/><rect x="264" y="129" width="7" height="7" fill="#00c771"/><rect x="270" y="129" width="7" height="7" fill="#00c677"/><rect x="276" y="129" width="8" height="7" fill="#00c47e"/><rect x="283" y="129" width="7" height="7" fill="#00c286"/><rect x="289" y="129" width="7" height="7" fill="#00c18c"/><rect x="295" y="129" width="7" height="7" fill="#00bf91"/><rect x="301" y="129" width="7" height="7" fill="#00be95"/><rect x="307" y="129" width="8" height="7" fill="#00bd98"/><rect x="314" y="129" width="7" height="7" fill="#00bc9c"/><rect x="320" y="129" width="7" height="7" fill="#00bb9f"/><rect x="326" y="129" width="7" height="7" fill="#00bba2"/><rect x="332" y="129" width="7" height="7" fill="#00baa4"/><rect x="338" y="129" width="8" height="7" fill="#00baa5"/><rect x="345" y="129" width="7" height="7" fill="#00baa6"/><rect x="351" y="129" width="7" height="7" fill="#00b9a7"/><rect x="357" y="129" width="7" height="7" fill="#00b9a8"/><rect x="363" y="129" width="7" height="7" fill="#00b9aa"/><rect x="369" y="129" width="8" height="7" fill="#00b8ac"/><rect x="376" y="129" width="7" height="7" fill="#00b8ae"/><rect x="382" y="129" width="7" height="7" fill="#00b7b0"/><rect x="388" y="129" width="7" height="7" fill="#00b6b2"/><rect x="394" y="129" width="7" height="7" fill="#00b6b4"/><rect x="400" y="129" width="8" height="7" fill="#00b5b7"/><rect x="407" y="129" width="7" height="7" fill="#00b4ba"/><rect x="413" y="129" width="7" height="7" fill="#00b3bc"/><rect x="419" y="129" width="7" height="7" fill="#00b2c0"/><rect x="425" y="129" width="8" height="7" fill="#00b1c3"/><rect x="432" y="129" width="7" height="7" fill="#00b0c7"/>
<rect x="84" y="123" width="7" height="7" fill="#ffc014"/><rect x="90" y="123" width="7" height="7" fill="#ffbc19"/><rect x="96" y="123" width="8" height="7" fill="#ffb91f"/><rect x="103" y="123" width="7" height="7" fill="#ffb623"/><rect x="109" y="123" width="7" height="7" fill="#ffb721"/><rect x="115" y="123" width="7" height="7" fill="#ffb820"/><rect x="121" y="123" width="7" height="7" fill="#ffb91e"/><rect x="127" y="123" width="8" height="7" fill="#fdbb19"/><rect x="134" y="123" width="7" height="7" fill="#fbbd12"/><rect x="140" y="123" width="7" height="7" fill="#f7bf0e"/><rect x="146" y="123" width="7" height="7" fill="#f0c00c"/><rect x="152" y="123" width="7" height="7" fill="#eac10a"/><rect x="158" y="123" width="8" height="7" fill="#e2c20a"/><rect x="165" y="123" width="7" height="7" fill="#dac40a"/><rect x="171" y="123" width="7" height="7" fill="#d1c40c"/><rect x="177" y="123" width="7" height="7" fill="#c8c510"/><rect x="183" y="123" width="7" height="7" fill="#bfc614"/><rect x="189" y="123" width="8" height="7" fill="#b2c71a"/><rect x="196" y="123" width="7" height="7" fill="#a6c821"/><rect x="202" y="123" width="7" height="7" fill="#99c828"/><rect x="208" y="123" width="7" height="7" fill="#8cc82f"/><rect x="214" y="123" width="7" height="7" fill="#7ec836"/><rect x="220" y="123" width="8" height="7" fill="#70c83b"/><rect x="227" y="123" width="7" height="7" fill="#64c942"/><rect x="233" y="123" width="7" height="7" fill="#44cb4a"/><rect x="239" y="123" width="7" height="7" fill="#16cc51"/><rect x="245" y="123" width="8" height="7" fill="#11cb56"/><rect x="252" y="123" width="7" height="7" fill="#0dcb5c"/><rect x="258" y="123" width="7" height="7" fill="#09ca62"/><rect x="264" y="123" width="7" height="7" fill="#05c967"/><rect x="270" y="123" width="7" height="7" fill="#00c86d"/><rect x="276" y="123" width="8" height="7" fill="#00c774"/><rect x="283" y="123" width="7" height="7" fill="#00c57a"/><rect x="289" y="123" width="7" height="7" fill="#00c380"/><rect x="295" y="123" width="7" height="7" fill="#00c286"/><rect x="301" y="123" width="7" height="7" fill="#00c18a"/><rect x="307" y="123" width="8" height="7" fill="#00c08f"/><rect x="314" y="123" width="7" height="7" fill="#00bf93"/><rect x="320" y="123" width="7" height="7" fill="#00be96"/><rect x="326" y="123" width="7" height="7" fill="#00bd99"/><rect x="332" y="123" width="7" height="7" fill="#00bd9b"/><rect x="338" y="123" width="8" height="7" fill="#00bc9d"/><rect x="345" y="123" width="7" height="7" fill="#00bc9e"/><rect x="351" y="123" width="7" height="7" fill="#00bba0"/><rect x="357" y="123" width="7" height="7" fill="#00bba2"/><rect x="363" y="123" width="7" height="7" fill="#00baa3"/><rect x="369" y="123" width="8" height="7" fill="#00baa5"/><rect x="376" y="123" width="7" height="7" fill="#00b9a7"/><rect x="382" y="123" width="7" height="7" fill="#00b9a9"/><rect x="388" y="123" width="7" height="7" fill="#00b8ac"/><rect x="394" y="123" width="7" height="7" fill="#00b7ae"/><rect x="400" y="123" width="8" height="7" fill="#00b7b1"/><rect x="407" y="123" width="7" height="7" fill="#00b6b4"/><rect x="413" y="123" width="7" height="7" fill="#00b5b7"/><rect x="419" y="123" width="7" height="7" fill="#00b4ba"/><rect x="425" y="123" width="8" height="7" fill="#00b3be"/><rect x="432" y="123" width="7" height="7" fill="#00b1c2"/>
<rect x="84" y="117" width="7" height="7" fill="#ffc40d"/><rect x="90" y="117" width="7" height="7" fill="#ffc113"/><rect x="96" y="117" width="8" height="7" fill="#ffbd18"/><rect x="103" y="117" width="7" height="7" fill="#ffb91e"/><rect x="109" y="117" width="7" height="7" fill="#ffb623"/><rect x="115" y="117" width="7" height="7" fill="#ffb721"/><rect x="121" y="117" width="7" height="7" fill="#ffb820"/><rect x="127" y="117" width="8" height="7" fill="#ffb91f"/><rect x="134" y="117" width="7" height="7" fill="#feba1a"/><rect x="140" y="117" width="7" height="7" fill="#fcbc14"/><rect x="146" y="117" width="7" height="7" fill="#f9be0f"/><rect x="152" y="117" width="7" height="7" fill="#f2c00c"/><rect x="158" y="117" width="8" height="7" fill="#ecc10a"/><rect x="165" y="117" width="7" height="7" fill="#e4c20a"/><rect x="171" y="117" width="7" height="7" fill="#dcc30a"/><rect x="177" y="117" width="7" height="7" fill="#d3c40b"/><rect x="183" y="117" width="7" height="7" fill="#cac50f"/><rect x="189" y="117" width="8" height="7" fill="#c0c613"/><rect x="196" y="117" width="7" height="7" fill="#b5c719"/><rect x="202" y="117" width="7" height="7" fill="#a8c81f"/><rect x="208" y="117" width="7" height="7" fill="#9bc826"/><rect x="214" y="117" width="7" height="7" fill="#8fc82e"/><rect x="220" y="117" width="8" height="7" fill="#82c834"/><rect x="227" y="117" width="7" height="7" fill="#74c83a"/><rect x="233" y="117" width="7" height="7" fill="#66c941"/><rect x="239" y="117" width="7" height="7" fill="#55ca48"/><rect x="245" y="117" width="8" height="7" fill="#17cd4f"/><rect x="252" y="117" width="7" height="7" fill="#12cc54"/><rect x="258" y="117" width="7" height="7" fill="#0fcb59"/><rect x="264" y="117" width="7" height="7" fill="#0cca5d"/><rect x="270" y="117" width="7" height="7" fill="#09ca62"/><rect x="276" y="117" width="8" height="7" fill="#05c968"/><rect x="283" y="117" width="7" height="7" fill="#00c86e"/><rect x="289" y="117" width="7" height="7" fill="#00c674"/><rect x="295" y="117" width="7" height="7" fill="#00c57a"/><rect x="301" y="117" width="7" height="7" fill="#00c47f"/><rect x="307" y="117" width="8" height="7" fill="#00c284"/><rect x="314" y="117" width="7" height="7" fill="#00c189"/><rect x="320" y="117" width="7" height="7" fill="#00c08c"/><rect x="326" y="117" width="7" height="7" fill="#00c090"/><rect x="332" y="117" width="7" height="7" fill="#00bf92"/><rect x="338" y="117" width="8" height="7" fill="#00be94"/><rect x="345" y="117" width="7" height="7" fill="#00be96"/><rect x="351" y="117" width="7" height="7" fill="#00bd98"/><rect x="357" y="117" width="7" height="7" fill="#00bd9b"/><rect x="363" y="117" width="7" height="7" fill="#00bc9d"/><rect x="369" y="117" width="8" height="7" fill="#00bc9f"/><rect x="376" y="117" width="7" height="7" fill="#00bba1"/><rect x="382" y="117" width="7" height="7" fill="#00baa4"/><rect x="388" y="117" width="7" height="7" fill="#00baa6"/><rect x="394" y="117" width="7" height="7" fill="#00b9a9"/><rect x="400" y="117" width="8" height="7" fill="#00b8ab"/><rect x="407" y="117" width="7" height="7" fill="#00b7ae"/><rect x="413" y="117" width="7" height="7" fill="#00b7b1"/><rect x="419" y="117" width="7" height="7" fill="#00b5b5"/><rect x="425" y="117" width="8" height="7" fill="#00b4b9"/><rect x="432" y="117" width="7" height="7" fill="#00b3bd"/>
<rect x="84" y="111" width="7" height="7" fill="#ffc807"/><rect x="90" y="111" width="7" height="7" fill="#ffc50c"/><rect x="96" y="111" width="8" height="7" fill="#ffc112"/><rect x="103" y="111" width="7" height="7" fill="#ffbe17"/><rect x="109" y="111" width="7" height="7" fill="#ffba1d"/><rect x="115" y="111" width="7" height="7" fill="#ffb623"/><rect x="121" y="111" width="7" height="7" fill="#ffb722"/><rect x="127" y="111" width="8" height="7" fill="#ffb820"/><rect x="134" y="111" width="7" height="7" fill="#ffb81f"/><rect x="140" y="111" width="7" height="7" fill="#feba1c"/><rect x="146" y="111" width="7" height="7" fill="#fcbc15"/><rect x="152" y="111" width="7" height="7" fill="#fabe0f"/><rect x="158" y="111" width="8" height="7" fill="#f4bf0d"/><rect x="165" y="111" width="7" height="7" fill="#edc10b"/><rect x="171" y="111" width="7" height="7" fill="#e6c20a"/><rect x="177" y="111" width="7" height="7" fill="#dec30a"/><rect x="183" y="111" width="7" height="7" fill="#d5c40b"/><rect x="189" y="111" width="8" height="7" fill="#ccc50f"/><rect x="196" y="111" width="7" height="7" fill="#c2c612"/><rect x="202" y="111" width="7" height="7" fill="#b7c718"/><rect x="208" y="111" width="7" height="7" fill="#aac81e"/><rect x="214" y="111" width="7" height="7" fill="#9dc825"/><rect x="220" y="111" width="8" height="7" fill="#91c82c"/><rect x="227" y="111" width="7" height="7" fill="#85c833"/><rect x="233" y="111" width="7" height="7" fill="#77c839"/><rect x="239" y="111" width="7" height="7" fill="#69c83f"/><rect x="245" y="111" width="8" height="7" fill="#5dca46"/><rect x="252" y="111" width="7" height="7" fill="#2bcc4c"/><rect x="258" y="111" width="7" height="7" fill="#16cc50"/><rect x="264" y="111" width="7" height="7" fill="#13cc53"/><rect x="270" y="111" width="7" height="7" fill="#11cb56"/><rect x="276" y="111" width="8" height="7" fill="#0dcb5b"/><rect x="283" y="111" width="7" height="7" fill="#09ca61"/><rect x="289" y="111" width="7" height="7" fill="#04c968"/><rect x="295" y="111" width="7" height="7" fill="#00c86f"/><rect x="301" y="111" width="7" height="7" fill="#00c674"/><rect x="307" y="111" width="8" height="7" fill="#00c579"/><rect x="314" y="111" width="7" height="7" fill="#00c47e"/><rect x="320" y="111" width="7" height="7" fill="#00c382"/><rect x="326" y="111" width="7" height="7" fill="#00c286"/><rect x="332" y="111" width="7" height="7" fill="#00c189"/><rect x="338" y="111" width="8" height="7" fill="#00c18c"/><rect x="345" y="111" width="7" height="7" fill="#00c08f"/><rect x="351" y="111" width="7" height="7" fill="#00bf91"/><rect x="357" y="111" width="7" height="7" fill="#00bf94"/><rect x="363" y="111" width="7" height="7" fill="#00be96"/><rect x="369" y="111" width="8" height="7" fill="#00bd99"/><rect x="376" y="111" width="7" height="7" fill="#00bc9b"/><rect x="382" y="111" width="7" height="7" fill="#00bc9e"/><rect x="388" y="111" width="7" height="7" fill="#00bba1"/><rect x="394" y="111" width="7" height="7" fill="#00baa4"/><rect x="400" y="111" width="8" height="7" fill="#00b9a7"/><rect x="407" y="111" width="7" height="7" fill="#00b9aa"/><rect x="413" y="111" width="7" height="7" fill="#00b8ad"/><rect x="419" y="111" width="7" height="7" fill="#00b7b0"/><rect x="425" y="111" width="8" height="7" fill="#00b6b4"/><rect x="432" y="111" width="7" height="7" fill="#00b4b8"/>
<rect x="84" y="104" width="7" height="8" fill="#ffcc01"/><rect x="90" y="104" width="7" height="8" fill="#ffc906"/><rect x="96" y="104" width="8" height="8" fill="#ffc60b"/><rect x="103" y="104" width="7" height="8" fill="#ffc211"/><rect x="109" y="104" width="7" height="8" fill="#ffbe17"/><rect x="115" y="104" width="7" height="8" fill="#ffba1d"/><rect x="121" y="104" width="7" height="8" fill="#ffb623"/><rect x="127" y="104" width="8" height="8" fill="#ffb722"/><rect x="134" y="104" width="7" height="8" fill="#ffb820"/><rect x="140" y="104" width="7" height="8" fill="#ffb81f"/><rect x="146" y="104" width="7" height="8" fill="#ffb91d"/><rect x="152" y="104" width="7" height="8" fill="#fdbb17"/><rect x="158" y="104" width="8" height="8" fill="#fabe10"/><rect x="165" y="104" width="7" height="8" fill="#f5bf0d"/><rect x="171" y="104" width="7" height="8" fill="#efc00b"/><rect x="177" y="104" width="7" height="8" fill="#e7c20a"/><rect x="183" y="104" width="7" height="8" fill="#dfc30a"/><rect x="189" y="104" width="8" height="8" fill="#d7c40a"/><rect x="196" y="104" width="7" height="8" fill="#cdc50e"/><rect x="202" y="104" width="7" height="8" fill="#c3c612"/><rect x="208" y="104" width="7" height="8" fill="#b8c717"/><rect x="214" y="104" width="7" height="8" fill="#acc81d"/><rect x="220" y="104" width="8" height="8" fill="#9fc824"/><rect x="227" y="104" width="7" height="8" fill="#93c82b"/><rect x="233" y="104" width="7" height="8" fill="#87c832"/><rect x="239" y="104" width="7" height="8" fill="#7ac837"/><rect x="245" y="104" width="8" height="8" fill="#6fc83c"/><rect x="252" y="104" width="7" height="8" fill="#65c941"/><rect x="258" y="104" width="7" height="8" fill="#5eca46"/><rect x="264" y="104" width="7" height="8" fill="#56ca48"/><rect x="270" y="104" width="7" height="8" fill="#37cc4b"/><rect x="276" y="104" width="8" height="8" fill="#16cc50"/><rect x="283" y="104" width="7" height="8" fill="#11cb56"/><rect x="289" y="104" width="7" height="8" fill="#0dcb5c"/><rect x="295" y="104" width="7" height="8" fill="#08ca63"/><rect x="301" y="104" width="7" height="8" fill="#03c969"/><rect x="307" y="104" width="8" height="8" fill="#00c86f"/><rect x="314" y="104" width="7" height="8" fill="#00c674"/><rect x="320" y="104" width="7" height="8" fill="#00c579"/><rect x="326" y="104" width="7" height="8" fill="#00c47d"/><rect x="332" y="104" width="7" height="8" fill="#00c380"/><rect x="338" y="104" width="8" height="8" fill="#00c384"/><rect x="345" y="104" width="7" height="8" fill="#00c287"/><rect x="351" y="104" width="7" height="8" fill="#00c18a"/><rect x="357" y="104" width="7" height="8" fill="#00c08d"/><rect x="363" y="104" width="7" height="8" fill="#00bf90"/><rect x="369" y="104" width="8" height="8" fill="#00bf93"/><rect x="376" y="104" width="7" height="8" fill="#00be96"/><rect x="382" y="104" width="7" height="8" fill="#00bd99"/><rect x="388" y="104" width="7" height="8" fill="#00bc9c"/><rect x="394" y="104" width="7" height="8" fill="#00bc9f"/><rect x="400" y="104" width="8" height="8" fill="#00bba2"/><rect x="407" y="104" width="7" height="8" fill="#00baa5"/><rect x="413" y="104" width="7" height="8" fill="#00b9a9"/><rect x="419" y="104" width="7" height="8" fill="#00b8ac"/><rect x="425" y="104" width="8" height="8" fill="#00b7b0"/><rect x="432" y="104" width="7" height="8" fill="#00b6b4"/>
<rect x="84" y="98" width="7" height="7" fill="#ffd100"/><rect x="90" y="98" width="7" height="7" fill="#ffcd00"/><rect x="96" y="98" width="8" height="7" fill="#ffca05"/><rect x="103" y="98" width="7" height="7" fill="#ffc60b"/><rect x="109" y="98" width="7" height="7" fill="#ffc211"/><rect x="115" y="98" width="7" height="7" fill="#ffbe17"/><rect x="121" y="98" width="7" height="7" fill="#ffba1c"/><rect x="127" y="98" width="8" height="7" fill="#ffb722"/><rect x="134" y="98" width="7" height="7" fill="#ffb722"/><rect x="140" y="98" width="7" height="7" fill="#ffb721"/><rect x="146" y="98" width="7" height="7" fill="#ffb81f"/><rect x="152" y="98" width="7" height="7" fill="#ffb91e"/><rect x="158" y="98" width="8" height="7" fill="#fdbb18"/><rect x="165" y="98" width="7" height="7" fill="#fbbd12"/><rect x="171" y="98" width="7" height="7" fill="#f6bf0e"/><rect x="177" y="98" width="7" height="7" fill="#f0c00c"/><rect x="183" y="98" width="7" height="7" fill="#e9c10a"/><rect x="189" y="98" width="8" height="7" fill="#e1c30a"/><rect x="196" y="98" width="7" height="7" fill="#d8c40a"/><rect x="202" y="98" width="7" height="7" fill="#cfc50d"/><rect x="208" y="98" width="7" height="7" fill="#c5c511"/><rect x="214" y="98" width="7" height="7" fill="#bac616"/><rect x="220" y="98" width="8" height="7" fill="#adc81c"/><rect x="227" y="98" width="7" height="7" fill="#a1c823"/><rect x="233" y="98" width="7" height="7" fill="#95c82a"/><rect x="239" y="98" width="7" height="7" fill="#8bc830"/><rect x="245" y="98" width="8" height="7" fill="#81c835"/><rect x="252" y="98" width="7" height="7" fill="#78c838"/><rect x="258" y="98" width="7" height="7" fill="#71c83b"/><rect x="264" y="98" width="7" height="7" fill="#6cc83d"/><rect x="270" y="98" width="7" height="7" fill="#67c940"/><rect x="276" y="98" width="8" height="7" fill="#5eca45"/><rect x="283" y="98" width="7" height="7" fill="#29cc4d"/><rect x="289" y="98" width="7" height="7" fill="#14cc53"/><rect x="295" y="98" width="7" height="7" fill="#0fcb59"/><rect x="301" y="98" width="7" height="7" fill="#0bca5f"/><rect x="307" y="98" width="8" height="7" fill="#06c965"/><rect x="314" y="98" width="7" height="7" fill="#02c86b"/><rect x="320" y="98" width="7" height="7" fill="#00c770"/><rect x="326" y="98" width="7" height="7" fill="#00c675"/><rect x="332" y="98" width="7" height="7" fill="#00c579"/><rect x="338" y="98" width="8" height="7" fill="#00c57c"/><rect x="345" y="98" width="7" height="7" fill="#00c47f"/><rect x="351" y="98" width="7" height="7" fill="#00c383"/><rect x="357" y="98" width="7" height="7" fill="#00c287"/><rect x="363" y="98" width="7" height="7" fill="#00c18a"/><rect x="369" y="98" width="8" height="7" fill="#00c08e"/><rect x="376" y="98" width="7" height="7" fill="#00bf91"/><rect x="382" y="98" width="7" height="7" fill="#00be94"/><rect x="388" y="98" width="7" height="7" fill="#00bd97"/><rect x="394" y="98" width="7" height="7" fill="#00bd9b"/><rect x="400" y="98" width="8" height="7" fill="#00bc9e"/><rect x="407" y="98" width="7" height="7" fill="#00bba1"/><rect x="413" y="98" width="7" height="7" fill="#00baa5"/><rect x="419" y="98" width="7" height="7" fill="#00b9a9"/><rect x="425" y="98" width="8" height="7" fill="#00b8ac"/><rect x="432" y="98" width="7" height="7" fill="#00b7b1"/>
<rect x="84" y="92" width="7" height="7" fill="#ffd600"/><rect x="90" y="92" width="7" height="7" fill="#ffd200"/><rect x="96" y="92" width="8" height="7" fill="#ffce00"/><rect x="103" y="92" width="7" height="7" fill="#ffca04"/><rect x="109" y="92" width="7" height="7" fill="#ffc60a"/><rect x="115" y="92" width="7" height="7" fill="#ffc210"/><rect x="121" y="92" width="7" height="7" fill="#ffbe16"/><rect x="127" y="92" width="8" height="7" fill="#ffbb1c"/><rect x="134" y="92" width="7" height="7" fill="#ffb721"/><rect x="140" y="92" width="7" height="7" fill="#ffb722"/><rect x="146" y="92" width="7" height="7" fill="#ffb721"/><rect x="152" y="92" width="7" height="7" fill="#ffb820"/><rect x="158" y="92" width="8" height="7" fill="#ffb91e"/><rect x="165" y="92" width="7" height="7" fill="#fdbb19"/><rect x="171" y="92" width="7" height="7" fill="#fbbd13"/><rect x="177" y="92" width="7" height="7" fill="#f8be0e"/><rect x="183" y="92" width="7" height="7" fill="#f1c00c"/><rect x="189" y="92" width="8" height="7" fill="#eac10a"/><rect x="196" y="92" width="7" height="7" fill="#e2c20a"/><rect x="202" y="92" width="7" height="7" fill="#d9c40a"/><rect x="208" y="92" width="7" height="7" fill="#d0c50d"/><rect x="214" y="92" width="7" height="7" fill="#c6c511"/><rect x="220" y="92" width="8" height="7" fill="#bbc616"/><rect x="227" y="92" width="7" height="7" fill="#aec81c"/><rect x="233" y="92" width="7" height="7" fill="#a3c822"/><rect x="239" y="92" width="7" height="7" fill="#99c828"/><rect x="245" y="92" width="8" height="7" fill="#90c82d"/><rect x="252" y="92" width="7" height="7" fill="#88c831"/><rect x="258" y="92" width="7" height="7" fill="#82c834"/><rect x="264" y="92" width="7" height="7" fill="#7cc836"/><rect x="270" y="92" width="7" height="7" fill="#76c839"/><rect x="276" y="92" width="8" height="7" fill="#6ec83c"/><rect x="283" y="92" width="7" height="7" fill="#63c942"/><rect x="289" y="92" width="7" height="7" fill="#49cb4a"/><rect x="295" y="92" width="7" height="7" fill="#16cc50"/><rect x="301" y="92" width="7" height="7" fill="#11cb56"/><rect x="307" y="92" width="8" height="7" fill="#0cca5d"/><rect x="314" y="92" width="7" height="7" fill="#08ca63"/><rect x="320" y="92" width="7" height="7" fill="#04c969"/><rect x="326" y="92" width="7" height="7" fill="#00c86e"/><rect x="332" y="92" width="7" height="7" fill="#00c772"/><rect x="338" y="92" width="8" height="7" fill="#00c675"/><rect x="345" y="92" width="7" height="7" fill="#00c579"/><rect x="351" y="92" width="7" height="7" fill="#00c47d"/><rect x="357" y="92" width="7" height="7" fill="#00c381"/><rect x="363" y="92" width="7" height="7" fill="#00c285"/><rect x="369" y="92" width="8" height="7" fill="#00c189"/><rect x="376" y="92" width="7" height="7" fill="#00c08c"/><rect x="382" y="92" width="7" height="7" fill="#00c090"/><rect x="388" y="92" width="7" height="7" fill="#00bf93"/><rect x="394" y="92" width="7" height="7" fill="#00be97"/><rect x="400" y="92" width="8" height="7" fill="#00bd9a"/><rect x="407" y="92" width="7" height="7" fill="#00bc9e"/><rect x="413" y="92" width="7" height="7" fill="#00bba2"/><rect x="419" y="92" width="7" height="7" fill="#00baa5"/><rect x="425" y="92" width="8" height="7" fill="#00b9a9"/><rect x="432" y="92" width="7" height="7" fill="#00b8ad"/>
<rect x="84" y="86" width="7" height="7" fill="#ffdb00"/><rect x="90" y="86" width="7" height="7" fill="#ffd700"/><rect x="96" y="86" width="8" height="7" fill="#ffd300"/><rect x="103" y="86" width="7" height="7" fill="#ffce00"/><rect x="109" y="86" width="7" height="7" fill="#ffca04"/><rect x="115" y="86" width="7" height="7" fill="#ffc60a"/><rect x="121" y="86" width="7" height="7" fill="#ffc210"/><rect x="127" y="86" width="8" height="7" fill="#ffbf16"/><rect x="134" y="86" width="7" height="7" fill="#ffbb1b"/><rect x="140" y="86" width="7" height="7" fill="#ffb820"/><rect x="146" y="86" width="7" height="7" fill="#ffb622"/><rect x="152" y="86" width="7" height="7" fill="#ffb721"/><rect x="158" y="86" width="8" height="7" fill="#ffb820"/><rect x="165" y="86" width="7" height="7" fill="#ffb91f"/><rect x="171" y="86" width="7" height="7" fill="#feba1a"/><rect x="177" y="86" width="7" height="7" fill="#fcbc14"/><rect x="183" y="86" width="7" height="7" fill="#f9be0f"/><rect x="189" y="86" width="8" height="7" fill="#f2c00c"/><rect x="196" y="86" width="7" height="7" fill="#ecc10a"/><rect x="202" y="86" width="7" height="7" fill="#e3c20a"/><rect x="208" y="86" width="7" height="7" fill="#dac40a"/><rect x="214" y="86" width="7" height="7" fill="#d0c50d"/><rect x="220" y="86" width="8" height="7" fill="#c6c511"/><rect x="227" y="86" width="7" height="7" fill="#bcc615"/><rect x="233" y="86" width="7" height="7" fill="#b0c71b"/><rect x="239" y="86" width="7" height="7" fill="#a5c821"/><rect x="245" y="86" width="8" height="7" fill="#9cc826"/><rect x="252" y="86" width="7" height="7" fill="#95c82a"/><rect x="258" y="86" width="7" height="7" fill="#8fc82e"/><rect x="264" y="86" width="7" height="7" fill="#89c831"/><rect x="270" y="86" width="7" height="7" fill="#83c834"/><rect x="276" y="86" width="8" height="7" fill="#7bc837"/><rect x="283" y="86" width="7" height="7" fill="#71c83b"/><rect x="289" y="86" width="7" height="7" fill="#66c941"/><rect x="295" y="86" width="7" height="7" fill="#57ca48"/><rect x="301" y="86" width="7" height="7" fill="#17cd50"/><rect x="307" y="86" width="8" height="7" fill="#11cb56"/><rect x="314" y="86" width="7" height="7" fill="#0dcb5c"/><rect x="320" y="86" width="7" height="7" fill="#09ca62"/><rect x="326" y="86" width="7" height="7" fill="#05c967"/><rect x="332" y="86" width="7" height="7" fill="#02c86c"/><rect x="338" y="86" width="8" height="7" fill="#00c870"/><rect x="345" y="86" width="7" height="7" fill="#00c774"/><rect x="351" y="86" width="7" height="7" fill="#00c678"/><rect x="357" y="86" width="7" height="7" fill="#00c47c"/><rect x="363" y="86" width="7" height="7" fill="#00c380"/><rect x="369" y="86" width="8" height="7" fill="#00c284"/><rect x="376" y="86" width="7" height="7" fill="#00c288"/><rect x="382" y="86" width="7" height="7" fill="#00c18c"/><rect x="388" y="86" width="7" height="7" fill="#00c090"/><rect x="394" y="86" width="7" height="7" fill="#00bf93"/><rect x="400" y="86" width="8" height="7" fill="#00be97"/><rect x="407" y="86" width="7" height="7" fill="#00bd9b"/><rect x="413" y="86" width="7" height="7" fill="#00bc9f"/><rect x="419" y="86" width="7" height="7" fill="#00bba2"/><rect x="425" y="86" width="8" height="7" fill="#00baa6"/><rect x="432" y="86" width="7" height="7" fill="#00b8ab"/>
<rect x="84" y="80" width="7" height="7" fill="#ffe000"/><rect x="90" y="80" width="7" height="7" fill="#ffdc00"/><rect x="96" y="80" width="8" height="7" fill="#ffd700"/><rect x="103" y="80" width="7" height="7" fill="#ffd300"/><rect x="109" y="80" width="7" height="7" fill="#ffce00"/><rect x="115" y="80" width="7" height="7" fill="#ffca04"/><rect x="121" y="80" width="7" height="7" fill="#ffc60a"/><rect x="127" y="80" width="8" height="7" fill="#ffc310"/><rect x="134" y="80" width="7" height="7" fill="#ffbf15"/><rect x="140" y="80" width="7" height="7" fill="#ffbb1b"/><rect x="146" y="80" width="7" height="7" fill="#ffb820"/><rect x="152" y="80" width="7" height="7" fill="#ffb623"/><rect x="158" y="80" width="8" height="7" fill="#ffb721"/><rect x="165" y="80" width="7" height="7" fill="#ffb820"/><rect x="171" y="80" width="7" height="7" fill="#ffb91f"/><rect x="177" y="80" width="7" height="7" fill="#feba1c"/><rect x="183" y="80" width="7" height="7" fill="#fcbc16"/><rect x="189" y="80" width="8" height="7" fill="#fabe0f"/><rect x="196" y="80" width="7" height="7" fill="#f3bf0d"/><rect x="202" y="80" width="7" height="7" fill="#ecc10a"/><rect x="208" y="80" width="7" height="7" fill="#e4c20a"/><rect x="214" y="80" width="7" height="7" fill="#dac30a"/><rect x="220" y="80" width="8" height="7" fill="#d0c50d"/><rect x="227" y="80" width="7" height="7" fill="#c6c511"/><rect x="233" y="80" width="7" height="7" fill="#bcc615"/><rect x="239" y="80" width="7" height="7" fill="#b1c71a"/><rect x="245" y="80" width="8" height="7" fill="#a8c81f"/><rect x="252" y="80" width="7" height="7" fill="#a0c824"/><rect x="258" y="80" width="7" height="7" fill="#99c828"/><rect x="264" y="80" width="7" height="7" fill="#93c82b"/><rect x="270" y="80" width="7" height="7" fill="#8dc82f"/><rect x="276" y="80" width="8" height="7" fill="#85c833"/><rect x="283" y="80" width="7" height="7" fill="#7bc837"/><rect x="289" y="80" width="7" height="7" fill="#70c83b"/><rect x="295" y="80" width="7" height="7" fill="#64c942"/><rect x="301" y="80" width="7" height="7" fill="#46cb4a"/><rect x="307" y="80" width="8" height="7" fill="#15cc51"/><rect x="314" y="80" width="7" height="7" fill="#11cb57"/><rect x="320" y="80" width="7" height="7" fill="#0dcb5c"/><rect x="326" y="80" width="7" height="7" fill="#09ca61"/><rect x="332" y="80" width="7" height="7" fill="#06c966"/><rect x="338" y="80" width="8" height="7" fill="#02c86b"/><rect x="345" y="80" width="7" height="7" fill="#00c86f"/><rect x="351" y="80" width="7" height="7" fill="#00c773"/><rect x="357" y="80" width="7" height="7" fill="#00c678"/><rect x="363" y="80" width="7" height="7" fill="#00c57c"/><rect x="369" y="80" width="8" height="7" fill="#00c380"/><rect x="376" y="80" width="7" height="7" fill="#00c284"/><rect x="382" y="80" width="7" height="7" fill="#00c188"/><rect x="388" y="80" width="7" height="7" fill="#00c08c"/><rect x="394" y="80" width="7" height="7" fill="#00bf90"/><rect x="400" y="80" width="8" height="7" fill="#00be94"/><rect x="407" y="80" width="7" height="7" fill="#00bd98"/><rect x="413" y="80" width="7" height="7" fill="#00bc9c"/><rect x="419" y="80" width="7" height="7" fill="#00bba0"/><rect x="425" y="80" width="8" height="7" fill="#00baa4"/><rect x="432" y="80" width="7" height="7" fill="#00b9a8"/>
<rect x="84" y="73" width="7" height="8" fill="#ffe500"/><rect x="90" y="73" width="7" height="8" fill="#ffe000"/><rect x="96" y="73" width="8" height="8" fill="#ffdc00"/><rect x="103" y="73" width="7" height="8" fill="#ffd700"/><rect x="109" y="73" width="7" height="8" fill="#ffd300"/><rect x="115" y="73" width="7" height="8" fill="#ffce00"/><rect x="121" y="73" width="7" height="8" fill="#ffca05"/><rect x="127" y="73" width="8" height="8" fill="#ffc60a"/><rect x="134" y="73" width="7" height="8" fill="#ffc310"/><rect x="140" y="73" width="7" height="8" fill="#ffbf15"/><rect x="146" y="73" width="7" height="8" fill="#ffbc1a"/><rect x="152" y="73" width="7" height="8" fill="#ffb91f"/><rect x="158" y="73" width="8" height="8" fill="#ffb623"/><rect x="165" y="73" width="7" height="8" fill="#ffb722"/><rect x="171" y="73" width="7" height="8" fill="#ffb820"/><rect x="177" y="73" width="7" height="8" fill="#ffb81f"/><rect x="183" y="73" width="7" height="8" fill="#ffb91e"/><rect x="189" y="73" width="8" height="8" fill="#fdbb17"/><rect x="196" y="73" width="7" height="8" fill="#fabe10"/><rect x="202" y="73" width="7" height="8" fill="#f4bf0d"/><rect x="208" y="73" width="7" height="8" fill="#edc10b"/><rect x="214" y="73" width="7" height="8" fill="#e4c20a"/><rect x="220" y="73" width="8" height="8" fill="#dbc30a"/><rect x="227" y="73" width="7" height="8" fill="#d0c50d"/><rect x="233" y="73" width="7" height="8" fill="#c6c511"/><rect x="239" y="73" width="7" height="8" fill="#bdc615"/><rect x="245" y="73" width="8" height="8" fill="#b3c71a"/><rect x="252" y="73" width="7" height="8" fill="#aac81e"/><rect x="258" y="73" width="7" height="8" fill="#a3c822"/><rect x="264" y="73" width="7" height="8" fill="#9cc826"/><rect x="270" y="73" width="7" height="8" fill="#95c82a"/><rect x="276" y="73" width="8" height="8" fill="#8dc82e"/><rect x="283" y="73" width="7" height="8" fill="#84c833"/><rect x="289" y="73" width="7" height="8" fill="#79c838"/><rect x="295" y="73" width="7" height="8" fill="#6cc83d"/><rect x="301" y="73" width="7" height="8" fill="#5fc945"/><rect x="307" y="73" width="8" height="8" fill="#25cc4d"/><rect x="314" y="73" width="7" height="8" fill="#14cc52"/><rect x="320" y="73" width="7" height="8" fill="#10cb58"/><rect x="326" y="73" width="7" height="8" fill="#0cca5d"/><rect x="332" y="73" width="7" height="8" fill="#09ca61"/><rect x="338" y="73" width="8" height="8" fill="#06c966"/><rect x="345" y="73" width="7" height="8" fill="#02c86b"/><rect x="351" y="73" width="7" height="8" fill="#00c870"/><rect x="357" y="73" width="7" height="8" fill="#00c774"/><rect x="363" y="73" width="7" height="8" fill="#00c578"/><rect x="369" y="73" width="8" height="8" fill="#00c47c"/><rect x="376" y="73" width="7" height="8" fill="#00c381"/><rect x="382" y="73" width="7" height="8" fill="#00c285"/><rect x="388" y="73" width="7" height="8" fill="#00c189"/><rect x="394" y="73" width="7" height="8" fill="#00c08d"/><rect x="400" y="73" width="8" height="8" fill="#00bf91"/><rect x="407" y="73" width="7" height="8" fill="#00be95"/><rect x="413" y="73" width="7" height="8" fill="#00bd99"/><rect x="419" y="73" width="7" height="8" fill="#00bc9d"/><rect x="425" y="73" width="8" height="8" fill="#00bba2"/><rect x="432" y="73" width="7" height="8" fill="#00baa6"/>
<rect x="84" y="67" width="7" height="7" fill="#ffe900"/><rect x="90" y="67" width="7" height="7" fill="#ffe400"/><rect x="96" y="67" width="8" height="7" fill="#ffe000"/><rect x="103" y="67" width="7" height="7" fill="#ffdb00"/><rect x="109" y="67" width="7" height="7" fill="#ffd700"/><rect x="115" y="67" width="7" height="7" fill="#ffd200"/><rect x="121" y="67" width="7" height="7" fill="#ffce00"/><rect x="127" y="67" width="8" height="7" fill="#ffca05"/><rect x="134" y="67" width="7" height="7" fill="#ffc60a"/><rect x="140" y="67" width="7" height="7" fill="#ffc30f"/><rect x="146" y="67" width="7" height="7" fill="#ffc014"/><rect x="152" y="67" width="7" height="7" fill="#ffbc19"/><rect x="158" y="67" width="8" height="7" fill="#ffb91e"/><rect x="165" y="67" width="7" height="7" fill="#ffb623"/><rect x="171" y="67" width="7" height="7" fill="#ffb722"/><rect x="177" y="67" width="7" height="7" fill="#ffb721"/><rect x="183" y="67" width="7" height="7" fill="#ffb820"/><rect x="189" y="67" width="8" height="7" fill="#ffb91e"/><rect x="196" y="67" width="7" height="7" fill="#fdbb19"/><rect x="202" y="67" width="7" height="7" fill="#fbbd12"/><rect x="208" y="67" width="7" height="7" fill="#f5bf0d"/><rect x="214" y="67" width="7" height="7" fill="#eec00b"/><rect x="220" y="67" width="8" height="7" fill="#e4c20a"/><rect x="227" y="67" width="7" height="7" fill="#dac40a"/><rect x="233" y="67" width="7" height="7" fill="#d0c50d"/><rect x="239" y="67" width="7" height="7" fill="#c6c511"/><rect x="245" y="67" width="8" height="7" fill="#bec614"/><rect x="252" y="67" width="7" height="7" fill="#b5c719"/><rect x="258" y="67" width="7" height="7" fill="#acc81d"/><rect x="264" y="67" width="7" height="7" fill="#a4c821"/><rect x="270" y="67" width="7" height="7" fill="#9cc826"/><rect x="276" y="67" width="8" height="7" fill="#94c82b"/><rect x="283" y="67" width="7" height="7" fill="#8bc830"/><rect x="289" y="67" width="7" height="7" fill="#80c835"/><rect x="295" y="67" width="7" height="7" fill="#74c83a"/><rect x="301" y="67" width="7" height="7" fill="#67c940"/><rect x="307" y="67" width="8" height="7" fill="#5aca48"/><rect x="314" y="67" width="7" height="7" fill="#18cd4f"/><rect x="320" y="67" width="7" height="7" fill="#13cc54"/><rect x="326" y="67" width="7" height="7" fill="#0fcb58"/><rect x="332" y="67" width="7" height="7" fill="#0cca5d"/><rect x="338" y="67" width="8" height="7" fill="#09ca62"/><rect x="345" y="67" width="7" height="7" fill="#05c967"/><rect x="351" y="67" width="7" height="7" fill="#02c86c"/><rect x="357" y="67" width="7" height="7" fill="#00c770"/><rect x="363" y="67" width="7" height="7" fill="#00c675"/><rect x="369" y="67" width="8" height="7" fill="#00c579"/><rect x="376" y="67" width="7" height="7" fill="#00c47e"/><rect x="382" y="67" width="7" height="7" fill="#00c382"/><rect x="388" y="67" width="7" height="7" fill="#00c286"/><rect x="394" y="67" width="7" height="7" fill="#00c18b"/><rect x="400" y="67" width="8" height="7" fill="#00c08f"/><rect x="407" y="67" width="7" height="7" fill="#00bf93"/><rect x="413" y="67" width="7" height="7" fill="#00be97"/><rect x="419" y="67" width="7" height="7" fill="#00bc9b"/><rect x="425" y="67" width="8" height="7" fill="#00bba0"/><rect x="432" y="67" width="7" height="7" fill="#00baa4"/>
<rect x="84" y="61" width="7" height="7" fill="#ffec00"/><rect x="90" y="61" width="7" height="7" fill="#ffe800"/><rect x="96" y="61" width="8" height="7" fill="#ffe300"/><rect x="103" y="61" width="7" height="7" fill="#ffdf00"/><rect x="109" y="61" width="7" height="7" fill="#ffda00"/><rect x="115" y="61" width="7" height="7" fill="#ffd600"/><rect x="121" y="61" width="7" height="7" fill="#ffd200"/><rect x="127" y="61" width="8" height="7" fill="#ffce00"/><rect x="134" y="61" width="7" height="7" fill="#ffca04"/><rect x="140" y="61" width="7" height="7" fill="#ffc70a"/><rect x="146" y="61" width="7" height="7" fill="#ffc30f"/><rect x="152" y="61" width="7" height="7" fill="#ffc013"/><rect x="158" y="61" width="8" height="7" fill="#ffbd18"/><rect x="165" y="61" width="7" height="7" fill="#ffba1d"/><rect x="171" y="61" width="7" height="7" fill="#ffb721"/><rect x="177" y="61" width="7" height="7" fill="#ffb622"/><rect x="183" y="61" width="7" height="7" fill="#ffb721"/><rect x="189" y="61" width="8" height="7" fill="#ffb820"/><rect x="196" y="61" width="7" height="7" fill="#ffb91f"/><rect x="202" y="61" width="7" height="7" fill="#feba1a"/><rect x="208" y="61" width="7" height="7" fill="#fbbd13"/><rect x="214" y="61" width="7" height="7" fill="#f6bf0e"/><rect x="220" y="61" width="8" height="7" fill="#eec00b"/><rect x="227" y="61" width="7" height="7" fill="#e4c20a"/><rect x="233" y="61" width="7" height="7" fill="#dac40a"/><rect x="239" y="61" width="7" height="7" fill="#d0c50d"/><rect x="245" y="61" width="8" height="7" fill="#c7c511"/><rect x="252" y="61" width="7" height="7" fill="#bfc614"/><rect x="258" y="61" width="7" height="7" fill="#b6c718"/><rect x="264" y="61" width="7" height="7" fill="#adc81c"/><rect x="270" y="61" width="7" height="7" fill="#a4c821"/><rect x="276" y="61" width="8" height="7" fill="#9bc827"/><rect x="283" y="61" width="7" height="7" fill="#91c82c"/><rect x="289" y="61" width="7" height="7" fill="#87c832"/><rect x="295" y="61" width="7" height="7" fill="#7bc837"/><rect x="301" y="61" width="7" height="7" fill="#6ec83c"/><rect x="307" y="61" width="8" height="7" fill="#62c943"/><rect x="314" y="61" width="7" height="7" fill="#40cb4a"/><rect x="320" y="61" width="7" height="7" fill="#16cc50"/><rect x="326" y="61" width="7" height="7" fill="#12cc55"/><rect x="332" y="61" width="7" height="7" fill="#0fcb59"/><rect x="338" y="61" width="8" height="7" fill="#0bca5e"/><rect x="345" y="61" width="7" height="7" fill="#08ca63"/><rect x="351" y="61" width="7" height="7" fill="#04c968"/><rect x="357" y="61" width="7" height="7" fill="#00c86d"/><rect x="363" y="61" width="7" height="7" fill="#00c772"/><rect x="369" y="61" width="8" height="7" fill="#00c676"/><rect x="376" y="61" width="7" height="7" fill="#00c57b"/><rect x="382" y="61" width="7" height="7" fill="#00c47f"/><rect x="388" y="61" width="7" height="7" fill="#00c384"/><rect x="394" y="61" width="7" height="7" fill="#00c188"/><rect x="400" y="61" width="8" height="7" fill="#00c08c"/><rect x="407" y="61" width="7" height="7" fill="#00bf91"/><rect x="413" y="61" width="7" height="7" fill="#00be95"/><rect x="419" y="61" width="7" height="7" fill="#00bd99"/><rect x="425" y="61" width="8" height="7" fill="#00bc9e"/><rect x="432" y="61" width="7" height="7" fill="#00bba2"/>
<rect x="84" y="55" width="7" height="7" fill="#feed02"/><rect x="90" y="55" width="7" height="7" fill="#ffeb00"/><rect x="96" y="55" width="8" height="7" fill="#ffe700"/><rect x="103" y="55" width="7" height="7" fill="#ffe200"/><rect x="109" y="55" width="7" height="7" fill="#ffde00"/><rect x="115" y="55" width="7" height="7" fill="#ffda00"/><rect x="121" y="55" width="7" height="7" fill="#ffd600"/><rect x="127" y="55" width="8" height="7" fill="#ffd200"/><rect x="134" y="55" width="7" height="7" fill="#ffce00"/><rect x="140" y="55" width="7" height="7" fill="#ffca04"/><rect x="146" y="55" width="7" height="7" fill="#ffc709"/><rect x="152" y="55" width="7" height="7" fill="#ffc40e"/><rect x="158" y="55" width="8" height="7" fill="#ffc112"/><rect x="165" y="55" width="7" height="7" fill="#ffbe17"/><rect x="171" y="55" width="7" height="7" fill="#ffbb1b"/><rect x="177" y="55" width="7" height="7" fill="#ffb81f"/><rect x="183" y="55" width="7" height="7" fill="#ffb623"/><rect x="189" y="55" width="8" height="7" fill="#ffb722"/><rect x="196" y="55" width="7" height="7" fill="#ffb820"/><rect x="202" y="55" width="7" height="7" fill="#ffb81f"/><rect x="208" y="55" width="7" height="7" fill="#feba1c"/><rect x="214" y="55" width="7" height="7" fill="#fcbc14"/><rect x="220" y="55" width="8" height="7" fill="#f7bf0e"/><rect x="227" y="55" width="7" height="7" fill="#eec00b"/><rect x="233" y="55" width="7" height="7" fill="#e4c20a"/><rect x="239" y="55" width="7" height="7" fill="#dac40a"/><rect x="245" y="55" width="8" height="7" fill="#d1c40c"/><rect x="252" y="55" width="7" height="7" fill="#c9c510"/><rect x="258" y="55" width="7" height="7" fill="#c1c613"/><rect x="264" y="55" width="7" height="7" fill="#b7c717"/><rect x="270" y="55" width="7" height="7" fill="#adc81d"/><rect x="276" y="55" width="8" height="7" fill="#a2c822"/><rect x="283" y="55" width="7" height="7" fill="#98c828"/><rect x="289" y="55" width="7" height="7" fill="#8dc82e"/><rect x="295" y="55" width="7" height="7" fill="#82c834"/><rect x="301" y="55" width="7" height="7" fill="#75c839"/><rect x="307" y="55" width="8" height="7" fill="#69c83f"/><rect x="314" y="55" width="7" height="7" fill="#5eca46"/><rect x="320" y="55" width="7" height="7" fill="#2ecc4c"/><rect x="326" y="55" width="7" height="7" fill="#15cc51"/><rect x="332" y="55" width="7" height="7" fill="#11cb56"/><rect x="338" y="55" width="8" height="7" fill="#0dcb5b"/><rect x="345" y="55" width="7" height="7" fill="#0aca60"/><rect x="351" y="55" width="7" height="7" fill="#06c965"/><rect x="357" y="55" width="7" height="7" fill="#03c96a"/><rect x="363" y="55" width="7" height="7" fill="#00c86f"/><rect x="369" y="55" width="8" height="7" fill="#00c774"/><rect x="376" y="55" width="7" height="7" fill="#00c578"/><rect x="382" y="55" width="7" height="7" fill="#00c47d"/><rect x="388" y="55" width="7" height="7" fill="#00c381"/><rect x="394" y="55" width="7" height="7" fill="#00c286"/><rect x="400" y="55" width="8" height="7" fill="#00c18a"/><rect x="407" y="55" width="7" height="7" fill="#00c08f"/><rect x="413" y="55" width="7" height="7" fill="#00bf93"/><rect x="419" y="55" width="7" height="7" fill="#00bd97"/><rect x="425" y="55" width="8" height="7" fill="#00bc9c"/><rect x="432" y="55" width="7" height="7" fill="#00bba0"/>
<rect x="84" y="49" width="7" height="7" fill="#feef03"/><rect x="90" y="49" width="7" height="7" fill="#feed01"/><rect x="96" y="49" width="8" height="7" fill="#ffea00"/><rect x="103" y="49" width="7" height="7" fill="#ffe600"/><rect x="109" y="49" width="7" height="7" fill="#ffe200"/><rect x="115" y="49" width="7" height="7" fill="#ffde00"/><rect x="121" y="49" width="7" height="7" fill="#ffda00"/><rect x="127" y="49" width="8" height="7" fill="#ffd600"/><rect x="134" y="49" width="7" height="7" fill="#ffd200"/><rect x="140" y="49" width="7" height="7" fill="#ffce00"/><rect x="146" y="49" width="7" height="7" fill="#ffcb03"/><rect x="152" y="49" width="7" height="7" fill="#ffc808"/><rect x="158" y="49" width="8" height="7" fill="#ffc50c"/><rect x="165" y="49" width="7" height="7" fill="#ffc211"/><rect x="171" y="49" width="7" height="7" fill="#ffbf15"/><rect x="177" y="49" width="7" height="7" fill="#ffbd19"/><rect x="183" y="49" width="7" height="7" fill="#ffba1d"/><rect x="189" y="49" width="8" height="7" fill="#ffb722"/><rect x="196" y="49" width="7" height="7" fill="#ffb622"/><rect x="202" y="49" width="7" height="7" fill="#ffb721"/><rect x="208" y="49" width="7" height="7" fill="#ffb820"/><rect x="214" y="49" width="7" height="7" fill="#ffb91e"/><rect x="220" y="49" width="8" height="7" fill="#fcbc16"/><rect x="227" y="49" width="7" height="7" fill="#f8be0e"/><rect x="233" y="49" width="7" height="7" fill="#f0c00c"/><rect x="239" y="49" width="7" height="7" fill="#e7c20a"/><rect x="245" y="49" width="8" height="7" fill="#ddc30a"/><rect x="252" y="49" width="7" height="7" fill="#d4c40b"/><rect x="258" y="49" width="7" height="7" fill="#cbc50f"/><rect x="264" y="49" width="7" height="7" fill="#c1c613"/><rect x="270" y="49" width="7" height="7" fill="#b6c718"/><rect x="276" y="49" width="8" height="7" fill="#aac81e"/><rect x="283" y="49" width="7" height="7" fill="#9fc825"/><rect x="289" y="49" width="7" height="7" fill="#94c82b"/><rect x="295" y="49" width="7" height="7" fill="#89c831"/><rect x="301" y="49" width="7" height="7" fill="#7dc836"/><rect x="307" y="49" width="8" height="7" fill="#71c83b"/><rect x="314" y="49" width="7" height="7" fill="#65c941"/><rect x="320" y="49" width="7" height="7" fill="#5bca48"/><rect x="326" y="49" width="7" height="7" fill="#19cd4e"/><rect x="332" y="49" width="7" height="7" fill="#13cc53"/><rect x="338" y="49" width="8" height="7" fill="#0fcb58"/><rect x="345" y="49" width="7" height="7" fill="#0cca5d"/><rect x="351" y="49" width="7" height="7" fill="#08ca63"/><rect x="357" y="49" width="7" height="7" fill="#05c968"/><rect x="363" y="49" width="7" height="7" fill="#01c86d"/><rect x="369" y="49" width="8" height="7" fill="#00c771"/><rect x="376" y="49" width="7" height="7" fill="#00c676"/><rect x="382" y="49" width="7" height="7" fill="#00c57a"/><rect x="388" y="49" width="7" height="7" fill="#00c47f"/><rect x="394" y="49" width="7" height="7" fill="#00c384"/><rect x="400" y="49" width="8" height="7" fill="#00c188"/><rect x="407" y="49" width="7" height="7" fill="#00c08d"/><rect x="413" y="49" width="7" height="7" fill="#00bf91"/><rect x="419" y="49" width="7" height="7" fill="#00be96"/><rect x="425" y="49" width="8" height="7" fill="#00bd9a"/><rect x="432" y="49" width="7" height="7" fill="#00bc9e"/>
<rect x="84" y="42" width="7" height="8" fill="#fdf104"/><rect x="90" y="42" width="7" height="8" fill="#feee02"/><rect x="96" y="42" width="8" height="8" fill="#ffec01"/><rect x="103" y="42" width="7" height="8" fill="#ffe900"/><rect x="109" y="42" width="7" height="8" fill="#ffe500"/><rect x="115" y="42" width="7" height="8" fill="#ffe100"/><rect x="121" y="42" width="7" height="8" fill="#ffde00"/><rect x="127" y="42" width="8" height="8" fill="#ffda00"/><rect x="134" y="42" width="7" height="8" fill="#ffd600"/><rect x="140" y="42" width="7" height="8" fill="#ffd300"/><rect x="146" y="42" width="7" height="8" fill="#ffcf00"/><rect x="152" y="42" width="7" height="8" fill="#ffcc02"/><rect x="158" y="42" width="8" height="8" fill="#ffc906"/><rect x="165" y="42" width="7" height="8" fill="#ffc60b"/><rect x="171" y="42" width="7" height="8" fill="#ffc30f"/><rect x="177" y="42" width="7" height="8" fill="#ffc113"/><rect x="183" y="42" width="7" height="8" fill="#ffbe17"/><rect x="189" y="42" width="8" height="8" fill="#ffbb1b"/><rect x="196" y="42" width="7" height="8" fill="#ffb81f"/><rect x="202" y="42" width="7" height="8" fill="#ffb623"/><rect x="208" y="42" width="7" height="8" fill="#ffb721"/><rect x="214" y="42" width="7" height="8" fill="#ffb820"/><rect x="220" y="42" width="8" height="8" fill="#ffb91e"/><rect x="227" y="42" width="7" height="8" fill="#fdbb18"/><rect x="233" y="42" width="7" height="8" fill="#fabe10"/><rect x="239" y="42" width="7" height="8" fill="#f3bf0d"/><rect x="245" y="42" width="8" height="8" fill="#ebc10a"/><rect x="252" y="42" width="7" height="8" fill="#e0c30a"/><rect x="258" y="42" width="7" height="8" fill="#d6c40a"/><rect x="264" y="42" width="7" height="8" fill="#cac50f"/><rect x="270" y="42" width="7" height="8" fill="#bfc614"/><rect x="276" y="42" width="8" height="8" fill="#b2c71a"/><rect x="283" y="42" width="7" height="8" fill="#a6c820"/><rect x="289" y="42" width="7" height="8" fill="#9ac827"/><rect x="295" y="42" width="7" height="8" fill="#8fc82d"/><rect x="301" y="42" width="7" height="8" fill="#84c833"/><rect x="307" y="42" width="8" height="8" fill="#78c838"/><rect x="314" y="42" width="7" height="8" fill="#6cc83d"/><rect x="320" y="42" width="7" height="8" fill="#61c944"/><rect x="326" y="42" width="7" height="8" fill="#3acb4b"/><rect x="332" y="42" width="7" height="8" fill="#16cc51"/><rect x="338" y="42" width="8" height="8" fill="#11cb56"/><rect x="345" y="42" width="7" height="8" fill="#0ecb5b"/><rect x="351" y="42" width="7" height="8" fill="#0aca60"/><rect x="357" y="42" width="7" height="8" fill="#06c965"/><rect x="363" y="42" width="7" height="8" fill="#03c96a"/><rect x="369" y="42" width="8" height="8" fill="#00c86f"/><rect x="376" y="42" width="7" height="8" fill="#00c774"/><rect x="382" y="42" width="7" height="8" fill="#00c578"/><rect x="388" y="42" width="7" height="8" fill="#00c47d"/><rect x="394" y="42" width="7" height="8" fill="#00c381"/><rect x="400" y="42" width="8" height="8" fill="#00c286"/><rect x="407" y="42" width="7" height="8" fill="#00c18b"/><rect x="413" y="42" width="7" height="8" fill="#00c08f"/><rect x="419" y="42" width="7" height="8" fill="#00be94"/><rect x="425" y="42" width="8" height="8" fill="#00bd98"/><rect x="432" y="42" width="7" height="8" fill="#00bc9d"/>
<rect x="84" y="36" width="7" height="7" fill="#fdf205"/><rect x="90" y="36" width="7" height="7" fill="#fdf003"/><rect x="96" y="36" width="8" height="7" fill="#feee02"/><rect x="103" y="36" width="7" height="7" fill="#ffec00"/><rect x="109" y="36" width="7" height="7" fill="#ffe800"/><rect x="115" y="36" width="7" height="7" fill="#ffe500"/><rect x="121" y="36" width="7" height="7" fill="#ffe100"/><rect x="127" y="36" width="8" height="7" fill="#ffde00"/><rect x="134" y="36" width="7" height="7" fill="#ffdb00"/><rect x="140" y="36" width="7" height="7" fill="#ffd700"/><rect x="146" y="36" width="7" height="7" fill="#ffd400"/><rect x="152" y="36" width="7" height="7" fill="#ffd000"/><rect x="158" y="36" width="8" height="7" fill="#ffcd00"/><rect x="165" y="36" width="7" height="7" fill="#ffca05"/><rect x="171" y="36" width="7" height="7" fill="#ffc709"/><rect x="177" y="36" width="7" height="7" fill="#ffc50d"/><rect x="183" y="36" width="7" height="7" fill="#ffc211"/><rect x="189" y="36" width="8" height="7" fill="#ffbf15"/><rect x="196" y="36" width="7" height="7" fill="#ffbd19"/><rect x="202" y="36" width="7" height="7" fill="#ffba1d"/><rect x="208" y="36" width="7" height="7" fill="#ffb722"/><rect x="214" y="36" width="7" height="7" fill="#ffb722"/><rect x="220" y="36" width="8" height="7" fill="#ffb721"/><rect x="227" y="36" width="7" height="7" fill="#ffb81f"/><rect x="233" y="36" width="7" height="7" fill="#feba1c"/><rect x="239" y="36" width="7" height="7" fill="#fcbc14"/><rect x="245" y="36" width="8" height="7" fill="#f6bf0e"/><rect x="252" y="36" width="7" height="7" fill="#edc10b"/><rect x="258" y="36" width="7" height="7" fill="#e1c30a"/><rect x="264" y="36" width="7" height="7" fill="#d4c40b"/><rect x="270" y="36" width="7" height="7" fill="#c7c510"/><rect x="276" y="36" width="8" height="7" fill="#bbc615"/><rect x="283" y="36" width="7" height="7" fill="#aec81c"/><rect x="289" y="36" width="7" height="7" fill="#a2c823"/><rect x="295" y="36" width="7" height="7" fill="#96c829"/><rect x="301" y="36" width="7" height="7" fill="#8bc82f"/><rect x="307" y="36" width="8" height="7" fill="#80c835"/><rect x="314" y="36" width="7" height="7" fill="#73c83a"/><rect x="320" y="36" width="7" height="7" fill="#67c940"/><rect x="326" y="36" width="7" height="7" fill="#5bca47"/><rect x="332" y="36" width="7" height="7" fill="#19cd4e"/><rect x="338" y="36" width="8" height="7" fill="#13cc53"/><rect x="345" y="36" width="7" height="7" fill="#0fcb58"/><rect x="351" y="36" width="7" height="7" fill="#0cca5d"/><rect x="357" y="36" width="7" height="7" fill="#08ca62"/><rect x="363" y="36" width="7" height="7" fill="#05c968"/><rect x="369" y="36" width="8" height="7" fill="#01c86d"/><rect x="376" y="36" width="7" height="7" fill="#00c771"/><rect x="382" y="36" width="7" height="7" fill="#00c676"/><rect x="388" y="36" width="7" height="7" fill="#00c57b"/><rect x="394" y="36" width="7" height="7" fill="#00c47f"/><rect x="400" y="36" width="8" height="7" fill="#00c284"/><rect x="407" y="36" width="7" height="7" fill="#00c189"/><rect x="413" y="36" width="7" height="7" fill="#00c08e"/><rect x="419" y="36" width="7" height="7" fill="#00bf92"/><rect x="425" y="36" width="8" height="7" fill="#00be96"/><rect x="432" y="36" width="7" height="7" fill="#00bd9b"/>
<rect x="84" y="30" width="7" height="7" fill="#fcf406"/><rect x="90" y="30" width="7" height="7" fill="#fdf204"/><rect x="96" y="30" width="8" height="7" fill="#fdf003"/><rect x="103" y="30" width="7" height="7" fill="#feee02"/><rect x="109" y="30" width="7" height="7" fill="#ffeb00"/><rect x="115" y="30" width="7" height="7" fill="#ffe900"/><rect x="121" y="30" width="7" height="7" fill="#ffe500"/><rect x="127" y="30" width="8" height="7" fill="#ffe200"/><rect x="134" y="30" width="7" height="7" fill="#ffdf00"/><rect x="140" y="30" width="7" height="7" fill="#ffdc00"/><rect x="146" y="30" width="7" height="7" fill="#ffd800"/><rect x="152" y="30" width="7" height="7" fill="#ffd500"/><rect x="158" y="30" width="8" height="7" fill="#ffd200"/><rect x="165" y="30" width="7" height="7" fill="#ffce00"/><rect x="171" y="30" width="7" height="7" fill="#ffcb02"/><rect x="177" y="30" width="7" height="7" fill="#ffc906"/><rect x="183" y="30" width="7" height="7" fill="#ffc60b"/><rect x="189" y="30" width="8" height="7" fill="#ffc30f"/><rect x="196" y="30" width="7" height="7" fill="#ffc113"/><rect x="202" y="30" width="7" height="7" fill="#ffbe17"/><rect x="208" y="30" width="7" height="7" fill="#ffbb1b"/><rect x="214" y="30" width="7" height="7" fill="#ffb81f"/><rect x="220" y="30" width="8" height="7" fill="#ffb623"/><rect x="227" y="30" width="7" height="7" fill="#ffb721"/><rect x="233" y="30" width="7" height="7" fill="#ffb820"/><rect x="239" y="30" width="7" height="7" fill="#ffb91e"/><rect x="245" y="30" width="8" height="7" fill="#fdbb17"/><rect x="252" y="30" width="7" height="7" fill="#f7bf0e"/><rect x="258" y="30" width="7" height="7" fill="#ecc10a"/><rect x="264" y="30" width="7" height="7" fill="#dec30a"/><rect x="270" y="30" width="7" height="7" fill="#d0c50d"/><rect x="276" y="30" width="8" height="7" fill="#c3c612"/><rect x="283" y="30" width="7" height="7" fill="#b7c718"/><rect x="289" y="30" width="7" height="7" fill="#aac81e"/><rect x="295" y="30" width="7" height="7" fill="#9ec825"/><rect x="301" y="30" width="7" height="7" fill="#93c82b"/><rect x="307" y="30" width="8" height="7" fill="#88c832"/><rect x="314" y="30" width="7" height="7" fill="#7bc837"/><rect x="320" y="30" width="7" height="7" fill="#6ec83c"/><rect x="326" y="30" width="7" height="7" fill="#62c943"/><rect x="332" y="30" width="7" height="7" fill="#3ecb4b"/><rect x="338" y="30" width="8" height="7" fill="#16cc51"/><rect x="345" y="30" width="7" height="7" fill="#11cb56"/><rect x="351" y="30" width="7" height="7" fill="#0ecb5b"/><rect x="357" y="30" width="7" height="7" fill="#0aca60"/><rect x="363" y="30" width="7" height="7" fill="#07c965"/><rect x="369" y="30" width="8" height="7" fill="#03c96a"/><rect x="376" y="30" width="7" height="7" fill="#00c86f"/><rect x="382" y="30" width="7" height="7" fill="#00c774"/><rect x="388" y="30" width="7" height="7" fill="#00c578"/><rect x="394" y="30" width="7" height="7" fill="#00c47d"/><rect x="400" y="30" width="8" height="7" fill="#00c382"/><rect x="407" y="30" width="7" height="7" fill="#00c287"/><rect x="413" y="30" width="7" height="7" fill="#00c18b"/><rect x="419" y="30" width="7" height="7" fill="#00bf90"/><rect x="425" y="30" width="8" height="7" fill="#00be95"/><rect x="432" y="30" width="7" height="7" fill="#00bd99"/>
<rect x="84" y="24" width="7" height="7" fill="#fbf607"/><rect x="90" y="24" width="7" height="7" fill="#fcf306"/><rect x="96" y="24" width="8" height="7" fill="#fdf104"/><rect x="103" y="24" width="7" height="7" fill="#fdf003"/><rect x="109" y="24" width="7" height="7" fill="#feee02"/><rect x="115" y="24" width="7" height="7" fill="#ffec01"/><rect x="121" y="24" width="7" height="7" fill="#ffe900"/><rect x="127" y="24" width="8" height="7" fill="#ffe700"/><rect x="134" y="24" width="7" height="7" fill="#ffe400"/><rect x="140" y="24" width="7" height="7" fill="#ffe000"/><rect x="146" y="24" width="7" height="7" fill="#ffdd00"/><rect x="152" y="24" width="7" height="7" fill="#ffda00"/><rect x="158" y="24" width="8" height="7" fill="#ffd600"/><rect x="165" y="24" width="7" height="7" fill="#ffd300"/><rect x="171" y="24" width="7" height="7" fill="#ffd000"/><rect x="177" y="24" width="7" height="7" fill="#ffcd00"/><rect x="183" y="24" width="7" height="7" fill="#ffca05"/><rect x="189" y="24" width="8" height="7" fill="#ffc709"/><rect x="196" y="24" width="7" height="7" fill="#ffc50c"/><rect x="202" y="24" width="7" height="7" fill="#ffc210"/><rect x="208" y="24" width="7" height="7" fill="#ffc014"/><rect x="214" y="24" width="7" height="7" fill="#ffbd18"/><rect x="220" y="24" width="8" height="7" fill="#ffba1c"/><rect x="227" y="24" width="7" height="7" fill="#ffb821"/><rect x="233" y="24" width="7" height="7" fill="#ffb622"/><rect x="239" y="24" width="7" height="7" fill="#ffb721"/><rect x="245" y="24" width="8" height="7" fill="#ffb81f"/><rect x="252" y="24" width="7" height="7" fill="#fcbc16"/><rect x="258" y="24" width="7" height="7" fill="#f5bf0d"/><rect x="264" y="24" width="7" height="7" fill="#e8c10a"/><rect x="270" y="24" width="7" height="7" fill="#d9c40a"/><rect x="276" y="24" width="8" height="7" fill="#ccc50f"/><rect x="283" y="24" width="7" height="7" fill="#c0c613"/><rect x="289" y="24" width="7" height="7" fill="#b4c719"/><rect x="295" y="24" width="7" height="7" fill="#a7c820"/><rect x="301" y="24" width="7" height="7" fill="#9bc826"/><rect x="307" y="24" width="8" height="7" fill="#90c82d"/><rect x="314" y="24" width="7" height="7" fill="#84c833"/><rect x="320" y="24" width="7" height="7" fill="#76c839"/><rect x="326" y="24" width="7" height="7" fill="#69c83f"/><rect x="332" y="24" width="7" height="7" fill="#5dca46"/><rect x="338" y="24" width="8" height="7" fill="#1acd4e"/><rect x="345" y="24" width="7" height="7" fill="#13cc53"/><rect x="351" y="24" width="7" height="7" fill="#10cb58"/><rect x="357" y="24" width="7" height="7" fill="#0cca5d"/><rect x="363" y="24" width="7" height="7" fill="#09ca62"/><rect x="369" y="24" width="8" height="7" fill="#05c967"/><rect x="376" y="24" width="7" height="7" fill="#01c86c"/><rect x="382" y="24" width="7" height="7" fill="#00c771"/><rect x="388" y="24" width="7" height="7" fill="#00c676"/><rect x="394" y="24" width="7" height="7" fill="#00c57b"/><rect x="400" y="24" width="8" height="7" fill="#00c480"/><rect x="407" y="24" width="7" height="7" fill="#00c284"/><rect x="413" y="24" width="7" height="7" fill="#00c189"/><rect x="419" y="24" width="7" height="7" fill="#00c08e"/><rect x="425" y="24" width="8" height="7" fill="#00bf93"/><rect x="432" y="24" width="7" height="7" fill="#00be97"/>
<rect x="84" y="17" width="7" height="8" fill="#fbf708"/><rect x="90" y="17" width="7" height="8" fill="#fcf507"/><rect x="96" y="17" width="8" height="8" fill="#fcf306"/><rect x="103" y="17" width="7" height="8" fill="#fdf204"/><rect x="109" y="17" width="7" height="8" fill="#fdf003"/><rect x="115" y="17" width="7" height="8" fill="#feee02"/><rect x="121" y="17" width="7" height="8" fill="#feed01"/><rect x="127" y="17" width="8" height="8" fill="#ffeb00"/><rect x="134" y="17" width="7" height="8" fill="#ffe800"/><rect x="140" y="17" width="7" height="8" fill="#ffe500"/><rect x="146" y="17" width="7" height="8" fill="#ffe200"/><rect x="152" y="17" width="7" height="8" fill="#ffdf00"/><rect x="158" y="17" width="8" height="8" fill="#ffdb00"/><rect x="165" y="17" width="7" height="8" fill="#ffd800"/><rect x="171" y="17" width="7" height="8" fill="#ffd500"/><rect x="177" y="17" width="7" height="8" fill="#ffd100"/><rect x="183" y="17" width="7" height="8" fill="#ffce00"/><rect x="189" y="17" width="8" height="8" fill="#ffcb03"/><rect x="196" y="17" width="7" height="8" fill="#ffc907"/><rect x="202" y="17" width="7" height="8" fill="#ffc60a"/><rect x="208" y="17" width="7" height="8" fill="#ffc40e"/><rect x="214" y="17" width="7" height="8" fill="#ffc211"/><rect x="220" y="17" width="8" height="8" fill="#ffbf15"/><rect x="227" y="17" width="7" height="8" fill="#ffbd19"/><rect x="233" y="17" width="7" height="8" fill="#ffba1d"/><rect x="239" y="17" width="7" height="8" fill="#ffb623"/><rect x="245" y="17" width="8" height="8" fill="#ffb721"/><rect x="252" y="17" width="7" height="8" fill="#ffb91e"/><rect x="258" y="17" width="7" height="8" fill="#fbbd13"/><rect x="264" y="17" width="7" height="8" fill="#f1c00c"/><rect x="270" y="17" width="7" height="8" fill="#e3c20a"/><rect x="276" y="17" width="8" height="8" fill="#d6c40a"/><rect x="283" y="17" width="7" height="8" fill="#cac50f"/><rect x="289" y="17" width="7" height="8" fill="#bfc614"/><rect x="295" y="17" width="7" height="8" fill="#b1c71a"/><rect x="301" y="17" width="7" height="8" fill="#a5c821"/><rect x="307" y="17" width="8" height="8" fill="#99c828"/><rect x="314" y="17" width="7" height="8" fill="#8dc82f"/><rect x="320" y="17" width="7" height="8" fill="#80c835"/><rect x="326" y="17" width="7" height="8" fill="#72c83a"/><rect x="332" y="17" width="7" height="8" fill="#65c942"/><rect x="338" y="17" width="8" height="8" fill="#4acb49"/><rect x="345" y="17" width="7" height="8" fill="#17cd50"/><rect x="351" y="17" width="7" height="8" fill="#12cc55"/><rect x="357" y="17" width="7" height="8" fill="#0ecb5a"/><rect x="363" y="17" width="7" height="8" fill="#0bca5f"/><rect x="369" y="17" width="8" height="8" fill="#07c964"/><rect x="376" y="17" width="7" height="8" fill="#03c969"/><rect x="382" y="17" width="7" height="8" fill="#00c86f"/><rect x="388" y="17" width="7" height="8" fill="#00c773"/><rect x="394" y="17" width="7" height="8" fill="#00c578"/><rect x="400" y="17" width="8" height="8" fill="#00c47d"/><rect x="407" y="17" width="7" height="8" fill="#00c382"/><rect x="413" y="17" width="7" height="8" fill="#00c287"/><rect x="419" y="17" width="7" height="8" fill="#00c18c"/><rect x="425" y="17" width="8" height="8" fill="#00bf90"/><rect x="432" y="17" width="7" height="8" fill="#00be95"/>
<rect x="84" y="11" width="7" height="7" fill="#faf909"/><rect x="90" y="11" width="7" height="7" fill="#fbf708"/><rect x="96" y="11" width="8" height="7" fill="#fbf607"/><rect x="103" y="11" width="7" height="7" fill="#fcf406"/><rect x="109" y="11" width="7" height="7" fill="#fdf205"/><rect x="115" y="11" width="7" height="7" fill="#fdf104"/><rect x="121" y="11" width="7" height="7" fill="#feef03"/><rect x="127" y="11" width="8" height="7" fill="#feed02"/><rect x="134" y="11" width="7" height="7" fill="#ffec01"/><rect x="140" y="11" width="7" height="7" fill="#ffea00"/><rect x="146" y="11" width="7" height="7" fill="#ffe700"/><rect x="152" y="11" width="7" height="7" fill="#ffe300"/><rect x="158" y="11" width="8" height="7" fill="#ffe000"/><rect x="165" y="11" width="7" height="7" fill="#ffdc00"/><rect x="171" y="11" width="7" height="7" fill="#ffd900"/><rect x="177" y="11" width="7" height="7" fill="#ffd600"/><rect x="183" y="11" width="7" height="7" fill="#ffd200"/><rect x="189" y="11" width="8" height="7" fill="#ffcf00"/><rect x="196" y="11" width="7" height="7" fill="#ffcc01"/><rect x="202" y="11" width="7" height="7" fill="#ffca05"/><rect x="208" y="11" width="7" height="7" fill="#ffc808"/><rect x="214" y="11" width="7" height="7" fill="#ffc60b"/><rect x="220" y="11" width="8" height="7" fill="#ffc30f"/><rect x="227" y="11" width="7" height="7" fill="#ffc112"/><rect x="233" y="11" width="7" height="7" fill="#ffbe17"/><rect x="239" y="11" width="7" height="7" fill="#ffba1d"/><rect x="245" y="11" width="8" height="7" fill="#ffb623"/><rect x="252" y="11" width="7" height="7" fill="#ffb820"/><rect x="258" y="11" width="7" height="7" fill="#feba1b"/><rect x="264" y="11" width="7" height="7" fill="#f9be0f"/><rect x="270" y="11" width="7" height="7" fill="#edc10b"/><rect x="276" y="11" width="8" height="7" fill="#e0c30a"/><rect x="283" y="11" width="7" height="7" fill="#d4c40b"/><rect x="289" y="11" width="7" height="7" fill="#c8c510"/><rect x="295" y="11" width="7" height="7" fill="#bdc615"/><rect x="301" y="11" width="7" height="7" fill="#afc71b"/><rect x="307" y="11" width="8" height="7" fill="#a3c822"/><rect x="314" y="11" width="7" height="7" fill="#96c829"/><rect x="320" y="11" width="7" height="7" fill="#8ac831"/><rect x="326" y="11" width="7" height="7" fill="#7cc837"/><rect x="332" y="11" width="7" height="7" fill="#6dc83c"/><rect x="338" y="11" width="8" height="7" fill="#60c944"/><rect x="345" y="11" width="7" height="7" fill="#33cc4c"/><rect x="351" y="11" width="7" height="7" fill="#15cc51"/><rect x="357" y="11" width="7" height="7" fill="#11cb56"/><rect x="363" y="11" width="7" height="7" fill="#0dcb5c"/><rect x="369" y="11" width="8" height="7" fill="#09ca61"/><rect x="376" y="11" width="7" height="7" fill="#06c966"/><rect x="382" y="11" width="7" height="7" fill="#02c86b"/><rect x="388" y="11" width="7" height="7" fill="#00c771"/><rect x="394" y="11" width="7" height="7" fill="#00c675"/><rect x="400" y="11" width="8" height="7" fill="#00c57a"/><rect x="407" y="11" width="7" height="7" fill="#00c47f"/><rect x="413" y="11" width="7" height="7" fill="#00c284"/><rect x="419" y="11" width="7" height="7" fill="#00c189"/><rect x="425" y="11" width="8" height="7" fill="#00c08e"/><rect x="432" y="11" width="7" height="7" fill="#00bf92"/>
</g>
<defs><filter id="bl" x="-5%" y="-5%" width="110%" height="110%"><feGaussianBlur stdDeviation="0.45"/></filter></defs>
<g clip-path="url(#pc)"><g filter="url(#bl)">
<path class="a" d="M89.4 23.8L105.4 16"/><path class="h" d="M111.2 13.1L105.7 18.8L103.3 14Z"/>
<path class="a" d="M110.4 23.8L126.7 16.6"/><path class="h" d="M132.6 14L126.8 19.5L124.7 14.6Z"/>
<path class="a" d="M131.3 23.8L147.9 17.3"/><path class="h" d="M154 14.9L148 20.2L146 15.2Z"/>
<path class="a" d="M152.3 23.8L169.1 18"/><path class="h" d="M175.3 15.9L169.1 20.9L167.3 15.8Z"/>
<path class="a" d="M173.3 23.8L190.4 18.8"/><path class="h" d="M196.6 16.9L190.2 21.6L188.6 16.5Z"/>
<path class="a" d="M194.3 23.8L211.5 19.5"/><path class="h" d="M217.9 18L211.2 22.4L209.9 17.2Z"/>
<path class="a" d="M215.2 23.8L232.7 20.4"/><path class="h" d="M239.1 19.1L232.2 23.2L231.2 17.9Z"/>
<path class="a" d="M236.2 23.8L253.8 21.2"/><path class="h" d="M260.2 20.2L253.2 24L252.4 18.7Z"/>
<path class="a" d="M257.2 23.8L274.9 22"/><path class="h" d="M281.4 21.4L274.2 24.8L273.6 19.4Z"/>
<path class="a" d="M278.1 23.8L295.9 22.9"/><path class="h" d="M302.4 22.6L295.1 25.6L294.8 20.2Z"/>
<path class="a" d="M299.1 23.8L316.9 23.8"/><path class="h" d="M323.4 23.7L315.9 26.5L315.9 21.1Z"/>
<path class="a" d="M320.1 23.8L337.9 24.6"/><path class="h" d="M344.4 24.9L336.8 27.3L337 21.9Z"/>
<path class="a" d="M341.1 23.8L358.8 25.5"/><path class="h" d="M365.3 26.1L357.5 28.1L358 22.7Z"/>
<path class="a" d="M362 23.8L379.7 26.3"/><path class="h" d="M386.1 27.2L378.3 28.8L379 23.5Z"/>
<path class="a" d="M383 23.8L400.5 27.1"/><path class="h" d="M406.9 28.3L399 29.6L400 24.3Z"/>
<path class="a" d="M404 23.8L421.3 27.9"/><path class="h" d="M427.6 29.4L419.7 30.3L420.9 25.1Z"/>
<path class="a" d="M425 23.8L441.7 29.9"/><path class="h" d="M447.8 32.1L439.8 32.1L441.7 27Z"/>
<path class="a" d="M89.4 44.8L104.9 36"/><path class="h" d="M110.5 32.7L105.3 38.8L102.7 34.1Z"/>
<path class="a" d="M110.4 44.8L126.2 36.7"/><path class="h" d="M132 33.7L126.6 39.5L124.1 34.7Z"/>
<path class="a" d="M131.3 44.8L147.6 37.4"/><path class="h" d="M153.5 34.7L147.8 40.3L145.5 35.4Z"/>
<path class="a" d="M152.3 44.8L168.9 38.2"/><path class="h" d="M174.9 35.9L168.9 41.1L167 36.1Z"/>
<path class="a" d="M173.3 44.8L190.2 39.1"/><path class="h" d="M196.3 37.1L190.1 42L188.4 36.9Z"/>
<path class="a" d="M194.3 44.8L211.4 40"/><path class="h" d="M217.7 38.3L211.2 42.9L209.7 37.7Z"/>
<path class="a" d="M215.2 44.8L232.6 41"/><path class="h" d="M239 39.6L232.2 43.8L231.1 38.6Z"/>
<path class="a" d="M236.2 44.8L253.8 42"/><path class="h" d="M260.2 41L253.2 44.8L252.4 39.5Z"/>
<path class="a" d="M257.2 44.8L274.9 43"/><path class="h" d="M281.4 42.4L274.2 45.8L273.6 40.4Z"/>
<path class="a" d="M278.1 44.8L295.9 44.1"/><path class="h" d="M302.4 43.8L295 46.8L294.8 41.4Z"/>
<path class="a" d="M299.1 44.8L316.9 45.1"/><path class="h" d="M323.4 45.2L315.9 47.8L316 42.4Z"/>
<path class="a" d="M320.1 44.8L337.8 46.1"/><path class="h" d="M344.3 46.7L336.6 48.8L337.1 43.4Z"/>
<path class="a" d="M341.1 44.8L358.7 47.2"/><path class="h" d="M365.1 48.1L357.3 49.7L358.1 44.4Z"/>
<path class="a" d="M362 44.8L379.5 48.2"/><path class="h" d="M385.9 49.5L378 50.7L379 45.4Z"/>
<path class="a" d="M383 44.8L400.2 49.2"/><path class="h" d="M406.5 50.8L398.6 51.6L400 46.4Z"/>
<path class="a" d="M404 44.8L420.9 50.3"/><path class="h" d="M427.1 52.3L419.1 52.5L420.8 47.4Z"/>
<path class="a" d="M425 44.8L441 52.4"/><path class="h" d="M446.9 55.2L439 54.4L441.3 49.5Z"/>
<path class="a" d="M89.4 65.7L104.1 55.7"/><path class="h" d="M109.5 52.1L104.8 58.5L101.8 54.1Z"/>
<path class="a" d="M110.4 65.7L125.6 56.5"/><path class="h" d="M131.1 53.1L126.1 59.3L123.3 54.7Z"/>
<path class="a" d="M131.3 65.7L147 57.3"/><path class="h" d="M152.8 54.3L147.4 60.2L144.9 55.4Z"/>
<path class="a" d="M152.3 65.7L168.5 58.2"/><path class="h" d="M174.4 55.5L168.7 61.1L166.4 56.2Z"/>
<path class="a" d="M173.3 65.7L189.9 59.3"/><path class="h" d="M195.9 56.9L189.9 62.1L187.9 57.1Z"/>
<path class="a" d="M194.3 65.7L211.2 60.3"/><path class="h" d="M217.4 58.4L211.1 63.2L209.4 58.1Z"/>
<path class="a" d="M215.2 65.7L232.5 61.5"/><path class="h" d="M238.8 60L232.2 64.4L230.9 59.1Z"/>
<path class="a" d="M236.2 65.7L253.7 62.7"/><path class="h" d="M260.2 61.6L253.2 65.6L252.3 60.2Z"/>
<path class="a" d="M257.2 65.7L274.9 64"/><path class="h" d="M281.4 63.4L274.2 66.8L273.6 61.4Z"/>
<path class="a" d="M278.1 65.7L295.9 65.3"/><path class="h" d="M302.4 65.1L295 68L294.9 62.6Z"/>
<path class="a" d="M299.1 65.7L316.9 66.6"/><path class="h" d="M323.4 66.9L315.8 69.3L316 63.9Z"/>
<path class="a" d="M320.1 65.7L337.8 67.9"/><path class="h" d="M344.2 68.7L336.4 70.5L337.1 65.1Z"/>
<path class="a" d="M341.1 65.7L358.5 69.2"/><path class="h" d="M364.9 70.5L357 71.7L358.1 66.4Z"/>
<path class="a" d="M362 65.7L379.2 70.5"/><path class="h" d="M385.5 72.2L377.5 72.8L378.9 67.6Z"/>
<path class="a" d="M383 65.7L399.8 71.7"/><path class="h" d="M405.9 73.9L397.9 73.9L399.7 68.9Z"/>
<path class="a" d="M404 65.7L420.2 73.1"/><path class="h" d="M426.1 75.8L418.2 75.1L420.4 70.2Z"/>
<path class="a" d="M425 65.7L439.9 75.5"/><path class="h" d="M445.3 79L437.6 77.2L440.5 72.7Z"/>
<path class="a" d="M89.4 86.7L103 75.3"/><path class="h" d="M108 71.1L104 78L100.5 73.8Z"/>
<path class="a" d="M110.4 86.7L124.6 76"/><path class="h" d="M129.8 72.1L125.4 78.8L122.2 74.5Z"/>
<path class="a" d="M131.3 86.7L146.2 76.9"/><path class="h" d="M151.6 73.3L146.9 79.7L143.9 75.2Z"/>
<path class="a" d="M152.3 86.7L167.8 77.9"/><path class="h" d="M173.4 74.7L168.3 80.8L165.6 76.1Z"/>
<path class="a" d="M173.3 86.7L189.4 79.1"/><path class="h" d="M195.2 76.3L189.6 81.9L187.3 77.1Z"/>
<path class="a" d="M194.3 86.7L210.9 80.4"/><path class="h" d="M217 78L210.9 83.2L209 78.2Z"/>
<path class="a" d="M215.2 86.7L232.3 81.8"/><path class="h" d="M238.6 80L232.1 84.7L230.6 79.5Z"/>
<path class="a" d="M236.2 86.7L253.7 83.3"/><path class="h" d="M260.1 82.1L253.2 86.2L252.2 80.9Z"/>
<path class="a" d="M257.2 86.7L274.9 85"/><path class="h" d="M281.4 84.3L274.2 87.7L273.6 82.4Z"/>
<path class="a" d="M278.1 86.7L295.9 86.7"/><path class="h" d="M302.4 86.6L295 89.4L294.9 84Z"/>
<path class="a" d="M299.1 86.7L316.8 88.4"/><path class="h" d="M323.3 89L315.6 91L316.1 85.6Z"/>
<path class="a" d="M320.1 86.7L337.6 90"/><path class="h" d="M344 91.3L336.1 92.5L337.1 87.2Z"/>
<path class="a" d="M341.1 86.7L358.2 91.7"/><path class="h" d="M364.4 93.5L356.4 94L358 88.8Z"/>
<path class="a" d="M362 86.7L378.6 93.2"/><path class="h" d="M384.6 95.6L376.7 95.4L378.7 90.4Z"/>
<path class="a" d="M383 86.7L398.9 94.8"/><path class="h" d="M404.7 97.7L396.8 96.7L399.2 91.9Z"/>
<path class="a" d="M404 86.7L418.9 96.4"/><path class="h" d="M424.4 99.9L416.6 98.1L419.6 93.6Z"/>
<path class="a" d="M425 86.7L438.1 98.7"/><path class="h" d="M442.9 103.1L435.6 100L439.2 96Z"/>
<path class="a" d="M89.4 107.7L101.4 94.6"/><path class="h" d="M105.8 89.8L102.7 97.1L98.8 93.5Z"/>
<path class="a" d="M110.4 107.7L123.1 95.3"/><path class="h" d="M127.8 90.7L124.3 97.9L120.5 94Z"/>
<path class="a" d="M131.3 107.7L144.9 96.1"/><path class="h" d="M149.8 91.9L145.9 98.8L142.3 94.7Z"/>
<path class="a" d="M152.3 107.7L166.7 97.1"/><path class="h" d="M171.9 93.3L167.4 99.9L164.2 95.6Z"/>
<path class="a" d="M173.3 107.7L188.5 98.4"/><path class="h" d="M194 95L189 101.2L186.2 96.6Z"/>
<path class="a" d="M194.3 107.7L210.3 99.9"/><path class="h" d="M216.1 97L210.5 102.8L208.2 97.9Z"/>
<path class="a" d="M215.2 107.7L232 101.6"/><path class="h" d="M238.1 99.4L232 104.5L230.1 99.4Z"/>
<path class="a" d="M236.2 107.7L253.5 103.7"/><path class="h" d="M259.9 102.2L253.2 106.5L252 101.3Z"/>
<path class="a" d="M257.2 107.7L274.9 105.9"/><path class="h" d="M281.3 105.2L274.2 108.7L273.6 103.3Z"/>
<path class="a" d="M278.1 107.7L295.9 108.2"/><path class="h" d="M302.4 108.4L294.9 110.9L295 105.5Z"/>
<path class="a" d="M299.1 107.7L316.7 110.6"/><path class="h" d="M323.1 111.6L315.3 113.1L316.1 107.7Z"/>
<path class="a" d="M320.1 107.7L337.1 112.8"/><path class="h" d="M343.4 114.7L335.4 115.1L337 109.9Z"/>
<path class="a" d="M341.1 107.7L357.4 114.9"/><path class="h" d="M363.3 117.5L355.3 116.9L357.5 112Z"/>
<path class="a" d="M362 107.7L377.4 116.7"/><path class="h" d="M383 120L375.1 118.5L377.9 113.9Z"/>
<path class="a" d="M383 107.7L397.2 118.4"/><path class="h" d="M402.4 122.3L394.8 120L398 115.7Z"/>
<path class="a" d="M404 107.7L416.8 120"/><path class="h" d="M421.5 124.5L414.2 121.3L418 117.4Z"/>
<path class="a" d="M425 107.7L435.6 121.9"/><path class="h" d="M439.5 127.1L432.9 122.7L437.2 119.5Z"/>
<path class="a" d="M89.4 128.7L99.2 113.8"/><path class="h" d="M102.7 108.3L100.9 116.1L96.3 113.1Z"/>
<path class="a" d="M110.4 128.7L120.9 114.3"/><path class="h" d="M124.7 109L122.4 116.7L118.1 113.5Z"/>
<path class="a" d="M131.3 128.7L142.7 114.9"/><path class="h" d="M146.8 109.9L144.1 117.4L140 114Z"/>
<path class="a" d="M152.3 128.7L164.6 115.8"/><path class="h" d="M169.1 111.1L165.9 118.4L162 114.7Z"/>
<path class="a" d="M173.3 128.7L186.7 117"/><path class="h" d="M191.6 112.7L187.7 119.7L184.2 115.6Z"/>
<path class="a" d="M194.3 128.7L208.9 118.6"/><path class="h" d="M214.3 114.9L209.6 121.4L206.6 116.9Z"/>
<path class="a" d="M215.2 128.7L231.1 120.7"/><path class="h" d="M237 117.8L231.5 123.5L229 118.7Z"/>
<path class="a" d="M236.2 128.7L253.2 123.4"/><path class="h" d="M259.4 121.5L253.1 126.3L251.5 121.1Z"/>
<path class="a" d="M257.2 128.7L274.9 126.6"/><path class="h" d="M281.3 125.9L274.2 129.4L273.6 124.1Z"/>
<path class="a" d="M278.1 128.7L295.9 130.2"/><path class="h" d="M302.4 130.8L294.7 132.8L295.1 127.4Z"/>
<path class="a" d="M299.1 128.7L316.2 133.7"/><path class="h" d="M322.4 135.5L314.5 136L316 130.8Z"/>
<path class="a" d="M320.1 128.7L336 136.7"/><path class="h" d="M341.8 139.7L333.9 138.7L336.3 133.9Z"/>
<path class="a" d="M341.1 128.7L355.4 139.2"/><path class="h" d="M360.7 143L353 140.8L356.2 136.4Z"/>
<path class="a" d="M362 128.7L374.8 141.1"/><path class="h" d="M379.5 145.6L372.2 142.3L376 138.4Z"/>
<path class="a" d="M383 128.7L394.2 142.5"/><path class="h" d="M398.3 147.6L391.5 143.4L395.7 140Z"/>
<path class="a" d="M404 128.7L413.5 143.7"/><path class="h" d="M417 149.2L410.7 144.3L415.2 141.4Z"/>
<path class="a" d="M425 128.7L432.4 144.8"/><path class="h" d="M435.1 150.7L429.5 145L434.4 142.8Z"/>
<path class="a" d="M89.4 149.6L96.1 133.1"/><path class="h" d="M98.5 127.1L98.2 135.1L93.2 133Z"/>
<path class="a" d="M110.4 149.6L117.6 133.4"/><path class="h" d="M120.2 127.4L119.6 135.4L114.7 133.2Z"/>
<path class="a" d="M131.3 149.6L139.2 133.7"/><path class="h" d="M142.1 127.8L141.2 135.8L136.4 133.4Z"/>
<path class="a" d="M152.3 149.6L161.1 134.1"/><path class="h" d="M164.3 128.5L162.9 136.3L158.2 133.7Z"/>
<path class="a" d="M173.3 149.6L183.2 134.8"/><path class="h" d="M186.8 129.4L184.9 137.2L180.4 134.2Z"/>
<path class="a" d="M194.3 149.6L205.7 136"/><path class="h" d="M209.9 131L207.1 138.5L203 135Z"/>
<path class="a" d="M215.2 149.6L228.7 138"/><path class="h" d="M233.6 133.7L229.7 140.7L226.2 136.6Z"/>
<path class="a" d="M236.2 149.6L252 141.4"/><path class="h" d="M257.7 138.4L252.3 144.2L249.8 139.5Z"/>
<path class="a" d="M257.2 149.6L274.8 146.9"/><path class="h" d="M281.2 145.9L274.2 149.7L273.4 144.4Z"/>
<path class="a" d="M278.1 149.6L295.5 153.6"/><path class="h" d="M301.8 155.1L293.9 156L295.1 150.8Z"/>
<path class="a" d="M299.1 149.6L314.1 159.2"/><path class="h" d="M319.6 162.7L311.8 160.9L314.7 156.4Z"/>
<path class="a" d="M320.1 149.6L332.2 162.7"/><path class="h" d="M336.7 167.4L329.6 163.8L333.5 160.1Z"/>
<path class="a" d="M341.1 149.6L350.8 164.6"/><path class="h" d="M354.3 170L348 165.2L352.5 162.2Z"/>
<path class="a" d="M362 149.6L369.8 165.6"/><path class="h" d="M372.7 171.5L367 165.9L371.8 163.6Z"/>
<path class="a" d="M383 149.6L389.3 166.3"/><path class="h" d="M391.6 172.4L386.4 166.3L391.5 164.4Z"/>
<path class="a" d="M404 149.6L409 166.7"/><path class="h" d="M410.8 173L406.1 166.5L411.3 165Z"/>
<path class="a" d="M425 149.6L428.6 167.1"/><path class="h" d="M430 173.4L425.8 166.6L431.1 165.5Z"/>
<path class="a" d="M89.4 170.6L92.4 153.1"/><path class="h" d="M93.5 146.7L94.9 154.5L89.6 153.6Z"/>
<path class="a" d="M110.4 170.6L113.4 153.1"/><path class="h" d="M114.5 146.7L115.9 154.5L110.6 153.6Z"/>
<path class="a" d="M131.3 170.6L134.4 153.1"/><path class="h" d="M135.6 146.7L136.9 154.5L131.6 153.6Z"/>
<path class="a" d="M152.3 170.6L155.5 153.1"/><path class="h" d="M156.7 146.7L158 154.6L152.7 153.6Z"/>
<path class="a" d="M173.3 170.6L176.8 153.1"/><path class="h" d="M178 146.8L179.2 154.7L173.9 153.6Z"/>
<path class="a" d="M194.3 170.6L198.2 153.2"/><path class="h" d="M199.6 146.9L200.6 154.8L195.3 153.6Z"/>
<path class="a" d="M215.2 170.6L220 153.5"/><path class="h" d="M221.8 147.2L222.4 155.2L217.2 153.7Z"/>
<path class="a" d="M236.2 170.6L243.1 154.2"/><path class="h" d="M245.7 148.2L245.2 156.2L240.3 154.1Z"/>
<path class="a" d="M257.2 170.6L272.1 160.9"/><path class="h" d="M277.6 157.4L272.7 163.7L269.8 159.2Z"/>
<path class="a" d="M278.1 170.6L286.8 186.2"/><path class="h" d="M290 191.8L284 186.6L288.7 184Z"/>
<path class="a" d="M299.1 170.6L302.4 188.1"/><path class="h" d="M303.6 194.5L299.5 187.6L304.9 186.6Z"/>
<path class="a" d="M320.1 170.6L321.7 188.3"/><path class="h" d="M322.3 194.8L319 187.6L324.3 187.1Z"/>
<path class="a" d="M341.1 170.6L342 188.4"/><path class="h" d="M342.3 194.9L339.2 187.5L344.6 187.2Z"/>
<path class="a" d="M362 170.6L362.5 188.4"/><path class="h" d="M362.7 194.9L359.8 187.5L365.2 187.3Z"/>
<path class="a" d="M383 170.6L383.2 188.4"/><path class="h" d="M383.3 194.9L380.5 187.4L385.9 187.4Z"/>
<path class="a" d="M404 170.6L404 188.4"/><path class="h" d="M404 194.9L401.3 187.4L406.7 187.4Z"/>
<path class="a" d="M425 170.6L424.7 188.4"/><path class="h" d="M424.7 194.9L422.1 187.4L427.5 187.4Z"/>
<path class="a" d="M89.4 191.6L88.6 173.8"/><path class="h" d="M88.3 167.3L91.3 174.7L85.9 174.9Z"/>
<path class="a" d="M110.4 191.6L109 173.8"/><path class="h" d="M108.5 167.4L111.7 174.6L106.4 175Z"/>
<path class="a" d="M131.3 191.6L129.2 173.9"/><path class="h" d="M128.4 167.4L132 174.6L126.7 175.2Z"/>
<path class="a" d="M152.3 191.6L149.3 174"/><path class="h" d="M148.2 167.6L152.1 174.6L146.8 175.5Z"/>
<path class="a" d="M173.3 191.6L169 174.3"/><path class="h" d="M167.4 168L171.8 174.6L166.6 175.9Z"/>
<path class="a" d="M194.3 191.6L188.1 174.9"/><path class="h" d="M185.9 168.8L191 174.9L185.9 176.7Z"/>
<path class="a" d="M215.2 191.6L206.3 176.2"/><path class="h" d="M203 170.6L209.1 175.7L204.4 178.4Z"/>
<path class="a" d="M236.2 191.6L222.8 179.8"/><path class="h" d="M217.9 175.6L225.3 178.5L221.8 182.5Z"/>
<path class="a" d="M257.2 191.6L239.6 188.8"/><path class="h" d="M233.2 187.8L241 186.3L240.2 191.6Z"/>
<path class="a" d="M278.1 191.6L262.1 199.2"/><path class="h" d="M256.2 202L261.8 196.4L264.1 201.2Z"/>
<path class="a" d="M299.1 191.6L286.9 204.5"/><path class="h" d="M282.4 209.2L285.6 201.9L289.5 205.6Z"/>
<path class="a" d="M320.1 191.6L310.7 206.7"/><path class="h" d="M307.2 212.2L308.9 204.4L313.5 207.3Z"/>
<path class="a" d="M341.1 191.6L333.5 207.7"/><path class="h" d="M330.7 213.6L331.5 205.6L336.4 207.9Z"/>
<path class="a" d="M362 191.6L355.8 208.2"/><path class="h" d="M353.5 214.3L353.6 206.3L358.6 208.2Z"/>
<path class="a" d="M383 191.6L377.7 208.6"/><path class="h" d="M375.8 214.8L375.4 206.8L380.6 208.4Z"/>
<path class="a" d="M404 191.6L399.5 208.8"/><path class="h" d="M397.8 215.1L397.1 207.1L402.3 208.5Z"/>
<path class="a" d="M425 191.6L421.2 209"/><path class="h" d="M419.8 215.3L418.8 207.4L424.1 208.6Z"/>
<path class="a" d="M89.4 212.5L85.2 195.3"/><path class="h" d="M83.6 188.9L88 195.6L82.8 196.9Z"/>
<path class="a" d="M110.4 212.5L105.1 195.5"/><path class="h" d="M103.2 189.3L108 195.7L102.8 197.3Z"/>
<path class="a" d="M131.3 212.5L124.8 196"/><path class="h" d="M122.5 189.9L127.7 195.9L122.7 197.9Z"/>
<path class="a" d="M152.3 212.5L144.3 196.7"/><path class="h" d="M141.4 190.8L147.2 196.3L142.3 198.8Z"/>
<path class="a" d="M173.3 212.5L163.4 197.7"/><path class="h" d="M159.8 192.3L166.2 197.1L161.7 200Z"/>
<path class="a" d="M194.3 212.5L182.2 199.4"/><path class="h" d="M177.8 194.6L184.9 198.3L180.9 202Z"/>
<path class="a" d="M215.2 212.5L200.8 202.2"/><path class="h" d="M195.5 198.4L203.2 200.6L200 204.9Z"/>
<path class="a" d="M236.2 212.5L219.6 206.2"/><path class="h" d="M213.5 203.9L221.5 204.1L219.5 209.1Z"/>
<path class="a" d="M257.2 212.5L239.4 211.4"/><path class="h" d="M232.9 210.9L240.6 208.7L240.2 214.1Z"/>
<path class="a" d="M278.1 212.5L260.8 216.5"/><path class="h" d="M254.5 218L261.2 213.7L262.4 218.9Z"/>
<path class="a" d="M299.1 212.5L283.3 220.6"/><path class="h" d="M277.5 223.6L282.9 217.8L285.4 222.6Z"/>
<path class="a" d="M320.1 212.5L306.1 223.5"/><path class="h" d="M301 227.6L305.2 220.8L308.6 225.1Z"/>
<path class="a" d="M341.1 212.5L328.9 225.5"/><path class="h" d="M324.4 230.2L327.6 222.9L331.5 226.6Z"/>
<path class="a" d="M362 212.5L351.4 226.8"/><path class="h" d="M347.5 232L349.8 224.4L354.2 227.6Z"/>
<path class="a" d="M383 212.5L373.8 227.8"/><path class="h" d="M370.4 233.3L372 225.5L376.6 228.3Z"/>
<path class="a" d="M404 212.5L396 228.5"/><path class="h" d="M393.1 234.3L394 226.4L398.9 228.8Z"/>
<path class="a" d="M425 212.5L418.3 229"/><path class="h" d="M415.8 235.1L416.1 227.1L421.1 229.1Z"/>
<path class="a" d="M89.4 233.5L82.4 217.1"/><path class="h" d="M79.9 211.2L85.3 217L80.4 219.1Z"/>
<path class="a" d="M110.4 233.5L102.2 217.7"/><path class="h" d="M99.2 211.9L105 217.4L100.2 219.8Z"/>
<path class="a" d="M131.3 233.5L121.8 218.5"/><path class="h" d="M118.3 213L124.6 217.9L120 220.8Z"/>
<path class="a" d="M152.3 233.5L141.2 219.6"/><path class="h" d="M137.1 214.6L143.9 218.7L139.7 222.1Z"/>
<path class="a" d="M173.3 233.5L160.5 221.2"/><path class="h" d="M155.8 216.6L163.1 219.9L159.3 223.8Z"/>
<path class="a" d="M194.3 233.5L179.7 223.2"/><path class="h" d="M174.4 219.5L182.1 221.6L179 226Z"/>
<path class="a" d="M215.2 233.5L199.2 225.9"/><path class="h" d="M193.3 223.1L201.2 223.9L198.9 228.8Z"/>
<path class="a" d="M236.2 233.5L219 229.1"/><path class="h" d="M212.7 227.5L220.6 226.7L219.3 232Z"/>
<path class="a" d="M257.2 233.5L239.4 232.6"/><path class="h" d="M232.9 232.3L240.5 230L240.3 235.4Z"/>
<path class="a" d="M278.1 233.5L260.5 236.1"/><path class="h" d="M254.1 237.1L261.1 233.3L261.9 238.7Z"/>
<path class="a" d="M299.1 233.5L282.3 239.2"/><path class="h" d="M276.1 241.3L282.3 236.4L284.1 241.5Z"/>
<path class="a" d="M320.1 233.5L304.4 241.8"/><path class="h" d="M298.6 244.9L304 239L306.5 243.8Z"/>
<path class="a" d="M341.1 233.5L326.6 243.9"/><path class="h" d="M321.3 247.7L325.8 241.1L329 245.5Z"/>
<path class="a" d="M362 233.5L348.9 245.5"/><path class="h" d="M344.1 249.9L347.8 242.9L351.5 246.9Z"/>
<path class="a" d="M383 233.5L371.2 246.8"/><path class="h" d="M366.9 251.7L369.8 244.3L373.9 247.9Z"/>
<path class="a" d="M404 233.5L393.5 247.9"/><path class="h" d="M389.7 253.2L391.9 245.5L396.3 248.7Z"/>
<path class="a" d="M425 233.5L415.9 248.9"/><path class="h" d="M412.6 254.5L414.1 246.6L418.8 249.4Z"/>
<path class="a" d="M89.4 254.5L80.4 239.1"/><path class="h" d="M77.1 233.5L83.3 238.6L78.6 241.3Z"/>
<path class="a" d="M110.4 254.5L100.1 239.9"/><path class="h" d="M96.4 234.6L102.9 239.2L98.5 242.3Z"/>
<path class="a" d="M131.3 254.5L119.8 241"/><path class="h" d="M115.5 236L122.5 240L118.4 243.5Z"/>
<path class="a" d="M152.3 254.5L139.3 242.3"/><path class="h" d="M134.6 237.8L141.9 241L138.2 245Z"/>
<path class="a" d="M173.3 254.5L158.9 244"/><path class="h" d="M153.7 240.1L161.3 242.4L158.2 246.7Z"/>
<path class="a" d="M194.3 254.5L178.6 246"/><path class="h" d="M172.9 242.8L180.8 244.1L178.2 248.8Z"/>
<path class="a" d="M215.2 254.5L198.5 248.3"/><path class="h" d="M192.4 246L200.4 246.1L198.5 251.2Z"/>
<path class="a" d="M236.2 254.5L218.8 250.9"/><path class="h" d="M212.4 249.6L220.3 248.5L219.2 253.8Z"/>
<path class="a" d="M257.2 254.5L239.4 253.6"/><path class="h" d="M232.9 253.3L240.5 251L240.3 256.4Z"/>
<path class="a" d="M278.1 254.5L260.4 256.3"/><path class="h" d="M254 257L261.2 253.5L261.7 258.9Z"/>
<path class="a" d="M299.1 254.5L281.9 258.8"/><path class="h" d="M275.6 260.4L282.2 256L283.5 261.2Z"/>
<path class="a" d="M320.1 254.5L303.6 261.1"/><path class="h" d="M297.5 263.5L303.5 258.2L305.5 263.2Z"/>
<path class="a" d="M341.1 254.5L325.4 263"/><path class="h" d="M319.7 266.1L325 260.2L327.6 264.9Z"/>
<path class="a" d="M362 254.5L347.5 264.7"/><path class="h" d="M342.1 268.4L346.7 261.9L349.8 266.3Z"/>
<path class="a" d="M383 254.5L369.5 266.1"/><path class="h" d="M364.6 270.4L368.5 263.4L372.1 267.5Z"/>
<path class="a" d="M404 254.5L391.7 267.4"/><path class="h" d="M387.3 272.1L390.5 264.8L394.4 268.5Z"/>
<path class="a" d="M425 254.5L414.1 268.6"/><path class="h" d="M410.2 273.8L412.6 266.2L416.9 269.5Z"/>
<path class="a" d="M89.4 275.5L79 261.1"/><path class="h" d="M75.1 255.8L81.7 260.3L77.4 263.4Z"/>
<path class="a" d="M110.4 275.5L98.7 262"/><path class="h" d="M94.5 257.1L101.4 261L97.3 264.5Z"/>
<path class="a" d="M131.3 275.5L118.5 263.2"/><path class="h" d="M113.8 258.7L121.1 261.9L117.3 265.8Z"/>
<path class="a" d="M152.3 275.5L138.3 264.5"/><path class="h" d="M133.1 260.6L140.7 263L137.4 267.3Z"/>
<path class="a" d="M173.3 275.5L158.1 266.2"/><path class="h" d="M152.6 262.8L160.4 264.4L157.5 269Z"/>
<path class="a" d="M194.3 275.5L178.1 268"/><path class="h" d="M172.2 265.3L180.1 266L177.9 270.9Z"/>
<path class="a" d="M215.2 275.5L198.3 270.1"/><path class="h" d="M192.1 268.1L200 267.8L198.4 273Z"/>
<path class="a" d="M236.2 275.5L218.7 272.3"/><path class="h" d="M212.3 271.1L220.2 269.8L219.2 275.1Z"/>
<path class="a" d="M257.2 275.5L239.4 274.5"/><path class="h" d="M232.9 274.2L240.5 271.9L240.3 277.3Z"/>
<path class="a" d="M278.1 275.5L260.4 276.7"/><path class="h" d="M253.9 277.2L261.2 274L261.6 279.4Z"/>
<path class="a" d="M299.1 275.5L281.6 278.9"/><path class="h" d="M275.3 280.1L282.1 276L283.1 281.3Z"/>
<path class="a" d="M320.1 275.5L303.1 280.8"/><path class="h" d="M296.9 282.8L303.3 277.9L304.9 283.1Z"/>
<path class="a" d="M341.1 275.5L324.8 282.6"/><path class="h" d="M318.8 285.2L324.6 279.7L326.8 284.7Z"/>
<path class="a" d="M362 275.5L346.5 284.2"/><path class="h" d="M340.9 287.4L346.1 281.4L348.7 286.1Z"/>
<path class="a" d="M383 275.5L368.4 285.7"/><path class="h" d="M363.1 289.4L367.7 282.9L370.8 287.3Z"/>
<path class="a" d="M404 275.5L390.5 287.1"/><path class="h" d="M385.5 291.3L389.5 284.4L393 288.5Z"/>
<path class="a" d="M425 275.5L412.7 288.4"/><path class="h" d="M408.3 293.1L411.4 285.8L415.4 289.5Z"/>
<path class="a" d="M89.4 296.4L77.9 282.8"/><path class="h" d="M73.7 277.9L80.6 281.9L76.5 285.4Z"/>
<path class="a" d="M110.4 296.4L97.8 283.9"/><path class="h" d="M93.2 279.3L100.4 282.7L96.6 286.5Z"/>
<path class="a" d="M131.3 296.4L117.6 285.1"/><path class="h" d="M112.6 280.9L120.1 283.6L116.7 287.8Z"/>
<path class="a" d="M152.3 296.4L137.6 286.5"/><path class="h" d="M132.2 282.8L139.9 284.8L136.9 289.2Z"/>
<path class="a" d="M173.3 296.4L157.6 288"/><path class="h" d="M151.9 284.9L159.8 286.1L157.2 290.9Z"/>
<path class="a" d="M194.3 296.4L177.8 289.7"/><path class="h" d="M171.8 287.2L179.7 287.6L177.7 292.6Z"/>
<path class="a" d="M215.2 296.4L198.1 291.5"/><path class="h" d="M191.9 289.7L199.8 289.2L198.3 294.4Z"/>
<path class="a" d="M236.2 296.4L218.7 293.4"/><path class="h" d="M212.3 292.3L220.1 290.9L219.2 296.3Z"/>
<path class="a" d="M257.2 296.4L239.4 295.4"/><path class="h" d="M232.9 295L240.6 292.7L240.2 298.1Z"/>
<path class="a" d="M278.1 296.4L260.4 297.3"/><path class="h" d="M253.9 297.6L261.2 294.5L261.5 299.9Z"/>
<path class="a" d="M299.1 296.4L281.5 299.1"/><path class="h" d="M275.1 300.1L282.1 296.3L282.9 301.6Z"/>
<path class="a" d="M320.1 296.4L302.8 300.8"/><path class="h" d="M296.5 302.5L303.1 298L304.5 303.2Z"/>
<path class="a" d="M341.1 296.4L324.3 302.5"/><path class="h" d="M318.2 304.7L324.3 299.6L326.2 304.7Z"/>
<path class="a" d="M362 296.4L345.9 304"/><path class="h" d="M340 306.8L345.7 301.1L348 306Z"/>
<path class="a" d="M383 296.4L367.7 305.4"/><path class="h" d="M362 308.7L367.2 302.6L369.9 307.3Z"/>
<path class="a" d="M404 296.4L389.5 306.8"/><path class="h" d="M384.3 310.6L388.8 304.1L391.9 308.4Z"/>
<path class="a" d="M425 296.4L411.6 308.2"/><path class="h" d="M406.8 312.5L410.6 305.5L414.2 309.6Z"/>
<path class="a" d="M89.4 317.4L77.1 304.5"/><path class="h" d="M72.7 299.8L79.8 303.4L75.9 307.1Z"/>
<path class="a" d="M110.4 317.4L97.1 305.6"/><path class="h" d="M92.2 301.2L99.6 304.2L96 308.2Z"/>
<path class="a" d="M131.3 317.4L117.1 306.8"/><path class="h" d="M111.9 302.9L119.5 305.2L116.3 309.5Z"/>
<path class="a" d="M152.3 317.4L137.1 308.1"/><path class="h" d="M131.6 304.7L139.4 306.3L136.6 310.9Z"/>
<path class="a" d="M173.3 317.4L157.3 309.6"/><path class="h" d="M151.5 306.7L159.4 307.6L157 312.4Z"/>
<path class="a" d="M194.3 317.4L177.6 311.1"/><path class="h" d="M171.5 308.8L179.5 308.9L177.6 314Z"/>
<path class="a" d="M215.2 317.4L198 312.8"/><path class="h" d="M191.8 311.1L199.7 310.4L198.3 315.6Z"/>
<path class="a" d="M236.2 317.4L218.7 314.5"/><path class="h" d="M212.2 313.4L220.1 312L219.2 317.3Z"/>
<path class="a" d="M257.2 317.4L239.4 316.2"/><path class="h" d="M232.9 315.7L240.6 313.5L240.2 318.9Z"/>
<path class="a" d="M278.1 317.4L260.4 317.8"/><path class="h" d="M253.9 318L261.3 315.1L261.4 320.5Z"/>
<path class="a" d="M299.1 317.4L281.4 319.5"/><path class="h" d="M275 320.2L282.1 316.7L282.7 322Z"/>
<path class="a" d="M320.1 317.4L302.7 321.1"/><path class="h" d="M296.3 322.4L303.1 318.2L304.2 323.5Z"/>
<path class="a" d="M341.1 317.4L324 322.6"/><path class="h" d="M317.8 324.4L324.2 319.7L325.8 324.9Z"/>
<path class="a" d="M362 317.4L345.5 324"/><path class="h" d="M339.5 326.4L345.4 321.1L347.4 326.1Z"/>
<path class="a" d="M383 317.4L367.1 325.4"/><path class="h" d="M361.3 328.3L366.8 322.5L369.2 327.3Z"/>
<path class="a" d="M404 317.4L388.8 326.7"/><path class="h" d="M383.3 330.1L388.3 323.9L391.1 328.5Z"/>
<path class="a" d="M425 317.4L410.8 328.1"/><path class="h" d="M405.6 332.1L409.9 325.4L413.2 329.7Z"/>
<path class="a" d="M89.4 338.4L76.6 326"/><path class="h" d="M71.9 321.5L79.2 324.8L75.4 328.7Z"/>
<path class="a" d="M110.4 338.4L96.6 327.1"/><path class="h" d="M91.6 323L99.1 325.6L95.7 329.8Z"/>
<path class="a" d="M131.3 338.4L116.7 328.3"/><path class="h" d="M111.4 324.6L119.1 326.6L116 331.1Z"/>
<path class="a" d="M152.3 338.4L136.9 329.5"/><path class="h" d="M131.2 326.3L139.1 327.7L136.4 332.4Z"/>
<path class="a" d="M173.3 338.4L157.1 330.9"/><path class="h" d="M151.2 328.2L159.2 328.9L156.9 333.8Z"/>
<path class="a" d="M194.3 338.4L177.5 332.4"/><path class="h" d="M171.4 330.2L179.4 330.2L177.5 335.2Z"/>
<path class="a" d="M215.2 338.4L198 333.9"/><path class="h" d="M191.7 332.2L199.7 331.5L198.3 336.7Z"/>
<path class="a" d="M236.2 338.4L218.7 335.4"/><path class="h" d="M212.2 334.3L220.1 332.9L219.2 338.2Z"/>
<path class="a" d="M257.2 338.4L239.4 336.9"/><path class="h" d="M233 336.4L240.7 334.3L240.2 339.7Z"/>
<path class="a" d="M278.1 338.4L260.3 338.4"/><path class="h" d="M253.8 338.5L261.3 335.7L261.4 341.1Z"/>
<path class="a" d="M299.1 338.4L281.4 339.9"/><path class="h" d="M274.9 340.5L282.1 337.2L282.6 342.5Z"/>
<path class="a" d="M320.1 338.4L302.5 341.4"/><path class="h" d="M296.1 342.5L303.1 338.5L304 343.9Z"/>
<path class="a" d="M341.1 338.4L323.8 342.8"/><path class="h" d="M317.5 344.4L324.1 339.9L325.4 345.1Z"/>
<path class="a" d="M362 338.4L345.2 344.1"/><path class="h" d="M339 346.2L345.3 341.2L347 346.3Z"/>
<path class="a" d="M383 338.4L366.7 345.4"/><path class="h" d="M360.7 348L366.5 342.5L368.6 347.5Z"/>
<path class="a" d="M404 338.4L388.3 346.7"/><path class="h" d="M382.5 349.8L387.9 343.9L390.4 348.7Z"/>
<path class="a" d="M425 338.4L410.1 348.1"/><path class="h" d="M404.6 351.7L409.4 345.3L412.4 349.8Z"/>
<path class="a" d="M89.4 359.4L76.2 347.4"/><path class="h" d="M71.4 343.1L78.7 346.1L75.1 350.1Z"/>
<path class="a" d="M110.4 359.4L96.3 348.5"/><path class="h" d="M91.1 344.5L98.7 346.9L95.4 351.2Z"/>
<path class="a" d="M131.3 359.4L116.4 349.6"/><path class="h" d="M111 346.1L118.8 347.9L115.8 352.4Z"/>
<path class="a" d="M152.3 359.4L136.7 350.8"/><path class="h" d="M131 347.7L138.8 349L136.3 353.7Z"/>
<path class="a" d="M173.3 359.4L157 352.1"/><path class="h" d="M151.1 349.5L159 350.1L156.8 355Z"/>
<path class="a" d="M194.3 359.4L177.5 353.5"/><path class="h" d="M171.3 351.4L179.3 351.3L177.5 356.4Z"/>
<path class="a" d="M215.2 359.4L198 354.9"/><path class="h" d="M191.7 353.2L199.6 352.5L198.3 357.7Z"/>
<path class="a" d="M236.2 359.4L218.7 356.3"/><path class="h" d="M212.3 355.2L220.1 353.8L219.2 359.1Z"/>
<path class="a" d="M257.2 359.4L239.5 357.7"/><path class="h" d="M233 357.1L240.7 355.1L240.2 360.5Z"/>
<path class="a" d="M278.1 359.4L260.4 359.1"/><path class="h" d="M253.9 359L261.4 356.4L261.3 361.8Z"/>
<path class="a" d="M299.1 359.4L281.4 360.4"/><path class="h" d="M274.9 360.8L282.2 357.7L282.5 363.1Z"/>
<path class="a" d="M320.1 359.4L302.5 361.8"/><path class="h" d="M296 362.6L303.1 359L303.8 364.3Z"/>
<path class="a" d="M341.1 359.4L323.7 363.1"/><path class="h" d="M317.3 364.4L324.1 360.2L325.2 365.5Z"/>
<path class="a" d="M362 359.4L344.9 364.3"/><path class="h" d="M338.7 366.1L345.2 361.4L346.7 366.6Z"/>
<path class="a" d="M383 359.4L366.3 365.6"/><path class="h" d="M360.2 367.8L366.3 362.7L368.2 367.8Z"/>
<path class="a" d="M404 359.4L387.8 366.8"/><path class="h" d="M381.9 369.6L387.6 364L389.9 368.9Z"/>
<path class="a" d="M425 359.4L409.5 368.2"/><path class="h" d="M403.8 371.4L409 365.3L411.7 370Z"/>
</g></g>
<rect class="k" x="86.5" y="13.3" width="349.3" height="348.2"/>
<path class="m" d="M96.9 361.5v-1.9M96.9 13.3v1.9M109.3 361.5v-1.9M109.3 13.3v1.9M121.7 361.5v-3.6M121.7 13.3v3.6M134.1 361.5v-1.9M134.1 13.3v1.9M146.5 361.5v-1.9M146.5 13.3v1.9M158.9 361.5v-1.9M158.9 13.3v1.9M171.3 361.5v-1.9M171.3 13.3v1.9M183.8 361.5v-3.6M183.8 13.3v3.6M196.2 361.5v-1.9M196.2 13.3v1.9M208.6 361.5v-1.9M208.6 13.3v1.9M221 361.5v-1.9M221 13.3v1.9M233.4 361.5v-1.9M233.4 13.3v1.9M245.8 361.5v-3.6M245.8 13.3v3.6M258.2 361.5v-1.9M258.2 13.3v1.9M270.6 361.5v-1.9M270.6 13.3v1.9M283.1 361.5v-1.9M283.1 13.3v1.9M295.5 361.5v-1.9M295.5 13.3v1.9M307.9 361.5v-3.6M307.9 13.3v3.6M320.3 361.5v-1.9M320.3 13.3v1.9M332.7 361.5v-1.9M332.7 13.3v1.9M345.1 361.5v-1.9M345.1 13.3v1.9M357.5 361.5v-1.9M357.5 13.3v1.9M369.9 361.5v-3.6M369.9 13.3v3.6M382.4 361.5v-1.9M382.4 13.3v1.9M394.8 361.5v-1.9M394.8 13.3v1.9M407.2 361.5v-1.9M407.2 13.3v1.9M419.6 361.5v-1.9M419.6 13.3v1.9M432 361.5v-3.6M432 13.3v3.6M86.5 353.3h1.9M435.8 353.3h-1.9M86.5 340.9h1.9M435.8 340.9h-1.9M86.5 328.5h3.6M435.8 328.5h-3.6M86.5 316.1h1.9M435.8 316.1h-1.9M86.5 303.7h1.9M435.8 303.7h-1.9M86.5 291.2h1.9M435.8 291.2h-1.9M86.5 278.8h1.9M435.8 278.8h-1.9M86.5 266.4h3.6M435.8 266.4h-3.6M86.5 254h1.9M435.8 254h-1.9M86.5 241.6h1.9M435.8 241.6h-1.9M86.5 229.1h1.9M435.8 229.1h-1.9M86.5 216.7h1.9M435.8 216.7h-1.9M86.5 204.3h3.6M435.8 204.3h-3.6M86.5 191.9h1.9M435.8 191.9h-1.9M86.5 179.5h1.9M435.8 179.5h-1.9M86.5 167h1.9M435.8 167h-1.9M86.5 154.6h1.9M435.8 154.6h-1.9M86.5 142.2h3.6M435.8 142.2h-3.6M86.5 129.8h1.9M435.8 129.8h-1.9M86.5 117.4h1.9M435.8 117.4h-1.9M86.5 104.9h1.9M435.8 104.9h-1.9M86.5 92.5h1.9M435.8 92.5h-1.9M86.5 80.1h3.6M435.8 80.1h-3.6M86.5 67.7h1.9M435.8 67.7h-1.9M86.5 55.3h1.9M435.8 55.3h-1.9M86.5 42.8h1.9M435.8 42.8h-1.9M86.5 30.4h1.9M435.8 30.4h-1.9M86.5 18h3.6M435.8 18h-3.6"/>
<text class="t" x="121.9" y="388" text-anchor="middle" textLength="36.6" lengthAdjust="spacingAndGlyphs">0.88</text>
<text class="t" x="184" y="388" text-anchor="middle" textLength="36.6" lengthAdjust="spacingAndGlyphs">0.89</text>
<text class="t" x="246" y="388" text-anchor="middle" textLength="36.6" lengthAdjust="spacingAndGlyphs">0.90</text>
<text class="t" x="308.1" y="388" text-anchor="middle" textLength="36.6" lengthAdjust="spacingAndGlyphs">0.91</text>
<text class="t" x="370.1" y="388" text-anchor="middle" textLength="36.6" lengthAdjust="spacingAndGlyphs">0.92</text>
<text class="t" x="432.2" y="388" text-anchor="middle" textLength="36.6" lengthAdjust="spacingAndGlyphs">0.93</text>
<text class="t" x="78" y="24.8" text-anchor="end" textLength="36" lengthAdjust="spacingAndGlyphs">0.47</text>
<text class="t" x="78" y="86.9" text-anchor="end" textLength="36" lengthAdjust="spacingAndGlyphs">0.46</text>
<text class="t" x="78" y="149" text-anchor="end" textLength="36" lengthAdjust="spacingAndGlyphs">0.45</text>
<text class="t" x="78" y="211.1" text-anchor="end" textLength="36" lengthAdjust="spacingAndGlyphs">0.44</text>
<text class="t" x="78" y="273.2" text-anchor="end" textLength="36" lengthAdjust="spacingAndGlyphs">0.43</text>
<text class="t" x="78" y="335.3" text-anchor="end" textLength="36" lengthAdjust="spacingAndGlyphs">0.42</text>
<text class="l" y="413.7"><tspan class="i" x="229.8" font-size="17.5">z</tspan> <tspan x="245" textLength="56" lengthAdjust="spacingAndGlyphs">(μm)</tspan></text>
<text class="l2" transform="translate(31.3 0) rotate(-90)"><tspan class="i" x="-217" font-size="23">y</tspan> <tspan x="-199.2">(μm)</tspan></text>
<defs><linearGradient id="cg" x1="0" y1="1" x2="0" y2="0"><stop offset="0" stop-color="#4020aa"/><stop offset="0.0078" stop-color="#4124b1"/><stop offset="0.0156" stop-color="#4226b6"/><stop offset="0.0234" stop-color="#4328ba"/><stop offset="0.0312" stop-color="#4429bf"/><stop offset="0.0391" stop-color="#452bc4"/><stop offset="0.0469" stop-color="#462dc8"/><stop offset="0.0547" stop-color="#462fcc"/><stop offset="0.0625" stop-color="#4631cf"/><stop offset="0.0703" stop-color="#4633d3"/><stop offset="0.0781" stop-color="#4636d6"/><stop offset="0.0859" stop-color="#4638da"/><stop offset="0.0938" stop-color="#463add"/><stop offset="0.1016" stop-color="#463ce1"/><stop offset="0.1094" stop-color="#453ee3"/><stop offset="0.1172" stop-color="#4441e6"/><stop offset="0.125" stop-color="#4443e8"/><stop offset="0.1328" stop-color="#4345ea"/><stop offset="0.1406" stop-color="#4248ed"/><stop offset="0.1484" stop-color="#414aef"/><stop offset="0.1562" stop-color="#404df1"/><stop offset="0.1641" stop-color="#3d51f2"/><stop offset="0.1719" stop-color="#3b54f3"/><stop offset="0.1797" stop-color="#3957f4"/><stop offset="0.1875" stop-color="#375af5"/><stop offset="0.1953" stop-color="#365df6"/><stop offset="0.2031" stop-color="#355ff7"/><stop offset="0.2109" stop-color="#3361f9"/><stop offset="0.2188" stop-color="#3264fa"/><stop offset="0.2266" stop-color="#2569fc"/><stop offset="0.2344" stop-color="#156ffe"/><stop offset="0.2422" stop-color="#0a74ff"/><stop offset="0.25" stop-color="#0876ff"/><stop offset="0.2578" stop-color="#0779ff"/><stop offset="0.2656" stop-color="#067cff"/><stop offset="0.2734" stop-color="#057eff"/><stop offset="0.2812" stop-color="#0480fe"/><stop offset="0.2891" stop-color="#0482fe"/><stop offset="0.2969" stop-color="#0384fd"/><stop offset="0.3047" stop-color="#0286fc"/><stop offset="0.3125" stop-color="#0287fc"/><stop offset="0.3203" stop-color="#0189fb"/><stop offset="0.3281" stop-color="#018bfb"/><stop offset="0.3359" stop-color="#008dfa"/><stop offset="0.3438" stop-color="#008ff9"/><stop offset="0.3516" stop-color="#0091f8"/><stop offset="0.3594" stop-color="#0092f6"/><stop offset="0.3672" stop-color="#0094f5"/><stop offset="0.375" stop-color="#0096f3"/><stop offset="0.3828" stop-color="#0098f2"/><stop offset="0.3906" stop-color="#009af0"/><stop offset="0.3984" stop-color="#009bee"/><stop offset="0.4062" stop-color="#009deb"/><stop offset="0.4141" stop-color="#00a0e8"/><stop offset="0.4219" stop-color="#00a2e4"/><stop offset="0.4297" stop-color="#00a4e1"/><stop offset="0.4375" stop-color="#00a6dd"/><stop offset="0.4453" stop-color="#00a8d9"/><stop offset="0.4531" stop-color="#00aad6"/><stop offset="0.4609" stop-color="#00acd2"/><stop offset="0.4688" stop-color="#00aecd"/><stop offset="0.4766" stop-color="#00afc8"/><stop offset="0.4844" stop-color="#00b1c3"/><stop offset="0.4922" stop-color="#00b3bd"/><stop offset="0.5" stop-color="#00b4b8"/><stop offset="0.5078" stop-color="#00b6b3"/><stop offset="0.5156" stop-color="#00b8ae"/><stop offset="0.5234" stop-color="#00b9a9"/><stop offset="0.5312" stop-color="#00baa4"/><stop offset="0.5391" stop-color="#00bb9f"/><stop offset="0.5469" stop-color="#00bd9b"/><stop offset="0.5547" stop-color="#00be96"/><stop offset="0.5625" stop-color="#00bf91"/><stop offset="0.5703" stop-color="#00c18c"/><stop offset="0.5781" stop-color="#00c287"/><stop offset="0.5859" stop-color="#00c382"/><stop offset="0.5938" stop-color="#00c47d"/><stop offset="0.6016" stop-color="#00c677"/><stop offset="0.6094" stop-color="#00c772"/><stop offset="0.6172" stop-color="#01c86d"/><stop offset="0.625" stop-color="#05c968"/><stop offset="0.6328" stop-color="#09ca62"/><stop offset="0.6406" stop-color="#0dcb5c"/><stop offset="0.6484" stop-color="#11cb57"/><stop offset="0.6562" stop-color="#15cc51"/><stop offset="0.6641" stop-color="#3acb4b"/><stop offset="0.6719" stop-color="#62c943"/><stop offset="0.6797" stop-color="#6fc83c"/><stop offset="0.6875" stop-color="#7dc836"/><stop offset="0.6953" stop-color="#8bc830"/><stop offset="0.7031" stop-color="#96c829"/><stop offset="0.7109" stop-color="#a2c822"/><stop offset="0.7188" stop-color="#aec81c"/><stop offset="0.7266" stop-color="#bac616"/><stop offset="0.7344" stop-color="#c4c511"/><stop offset="0.7422" stop-color="#cec50e"/><stop offset="0.75" stop-color="#d7c40a"/><stop offset="0.7578" stop-color="#dfc30a"/><stop offset="0.7656" stop-color="#e7c20a"/><stop offset="0.7734" stop-color="#efc00b"/><stop offset="0.7812" stop-color="#f5bf0d"/><stop offset="0.7891" stop-color="#fbbd11"/><stop offset="0.7969" stop-color="#fdbb17"/><stop offset="0.8047" stop-color="#ffb91e"/><stop offset="0.8125" stop-color="#ffb81f"/><stop offset="0.8203" stop-color="#ffb721"/><stop offset="0.8281" stop-color="#ffb722"/><stop offset="0.8359" stop-color="#ffb622"/><stop offset="0.8438" stop-color="#ffba1d"/><stop offset="0.8516" stop-color="#ffbd18"/><stop offset="0.8594" stop-color="#ffc013"/><stop offset="0.8672" stop-color="#ffc40e"/><stop offset="0.875" stop-color="#ffc709"/><stop offset="0.8828" stop-color="#ffcb04"/><stop offset="0.8906" stop-color="#ffce00"/><stop offset="0.8984" stop-color="#ffd200"/><stop offset="0.9062" stop-color="#ffd600"/><stop offset="0.9141" stop-color="#ffda00"/><stop offset="0.9219" stop-color="#ffde00"/><stop offset="0.9297" stop-color="#ffe100"/><stop offset="0.9375" stop-color="#ffe500"/><stop offset="0.9453" stop-color="#ffe900"/><stop offset="0.9531" stop-color="#ffec01"/><stop offset="0.9609" stop-color="#feef02"/><stop offset="0.9688" stop-color="#fdf104"/><stop offset="0.9766" stop-color="#fcf406"/><stop offset="0.9844" stop-color="#fbf607"/><stop offset="0.9922" stop-color="#fbf809"/><stop offset="1" stop-color="#fafc0c"/></linearGradient></defs>
<rect x="468.7" y="13.2" width="35.3" height="348.9" fill="url(#cg)" stroke="#3c3c3c" stroke-width="1.8" rx="1"/>
<path class="m" d="M504 29.1h-4M504 99h-4M504 169.1h-4M504 239.1h-4M504 309.1h-4"/>
<text class="c" x="514.3" y="35.9" textLength="25.5" lengthAdjust="spacingAndGlyphs">1.8</text>
<text class="c" x="514.3" y="105.8" textLength="25.5" lengthAdjust="spacingAndGlyphs">1.6</text>
<text class="c" x="514.3" y="175.9" textLength="25.5" lengthAdjust="spacingAndGlyphs">1.4</text>
<text class="c" x="514.3" y="245.9" textLength="25.5" lengthAdjust="spacingAndGlyphs">1.2</text>
<text class="c" x="514.3" y="315.9" textLength="25.5" lengthAdjust="spacingAndGlyphs">1.0</text>
</svg>
</body>
</html>
